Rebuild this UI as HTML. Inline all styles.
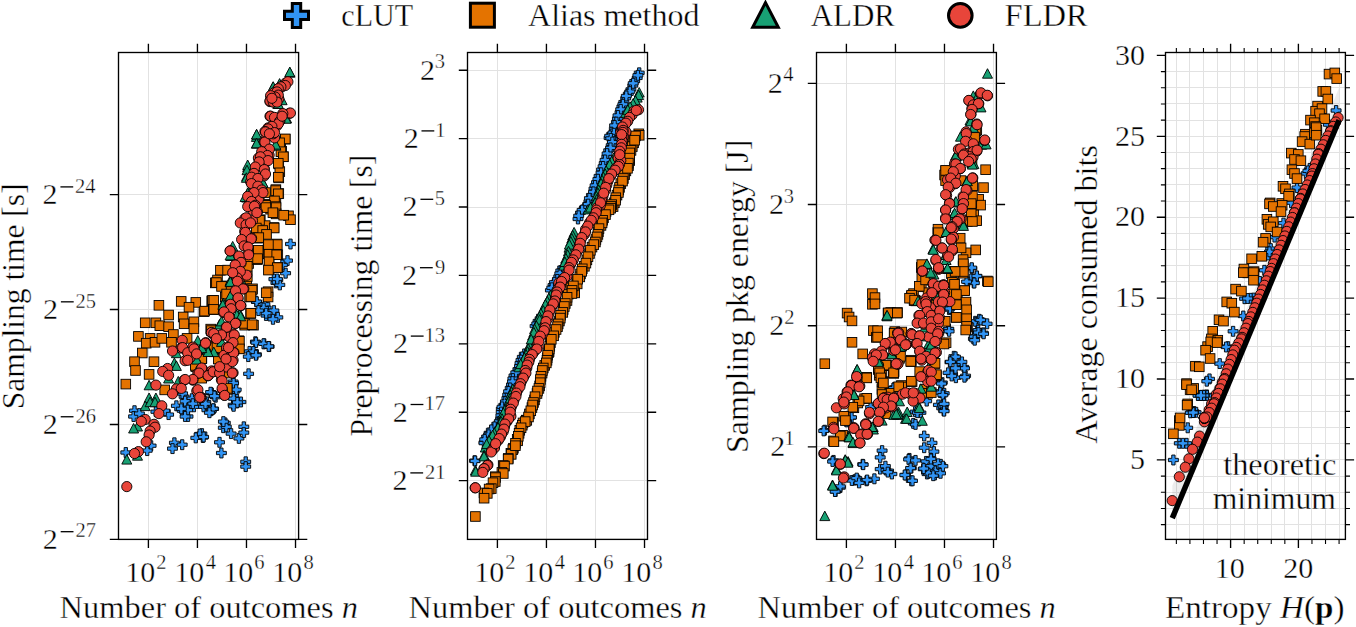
<!DOCTYPE html>
<html><head><meta charset="utf-8"><style>
html,body{margin:0;padding:0;background:#fff;width:1356px;height:627px;overflow:hidden}
svg{display:block}
text{font-family:"Liberation Serif", serif;fill:#000;stroke:#fff;stroke-width:0.35px;paint-order:normal}
.gr{stroke:#e2e2e2;stroke-width:1}
.b{fill:#3194f4;stroke:#000;stroke-width:0.9}
.o{fill:#e47300;stroke:#000;stroke-width:0.9}
.g{fill:#18a174;stroke:#000;stroke-width:0.9}
.r{fill:#e8453a;stroke:#000;stroke-width:0.9}
</style></head><body>
<svg width="1356" height="627" viewBox="0 0 1356 627">
<line x1="148.50" y1="52.5" x2="148.50" y2="539.4" class="gr"/>
<line x1="197.50" y1="52.5" x2="197.50" y2="539.4" class="gr"/>
<line x1="246.50" y1="52.5" x2="246.50" y2="539.4" class="gr"/>
<line x1="295.50" y1="52.5" x2="295.50" y2="539.4" class="gr"/>
<line x1="497.50" y1="52.5" x2="497.50" y2="539.4" class="gr"/>
<line x1="546.50" y1="52.5" x2="546.50" y2="539.4" class="gr"/>
<line x1="595.50" y1="52.5" x2="595.50" y2="539.4" class="gr"/>
<line x1="644.50" y1="52.5" x2="644.50" y2="539.4" class="gr"/>
<line x1="846.50" y1="52.5" x2="846.50" y2="539.4" class="gr"/>
<line x1="895.50" y1="52.5" x2="895.50" y2="539.4" class="gr"/>
<line x1="944.50" y1="52.5" x2="944.50" y2="539.4" class="gr"/>
<line x1="993.50" y1="52.5" x2="993.50" y2="539.4" class="gr"/>
<line x1="118.5" y1="194.50" x2="298.6" y2="194.50" class="gr"/>
<line x1="118.5" y1="309.50" x2="298.6" y2="309.50" class="gr"/>
<line x1="118.5" y1="424.50" x2="298.6" y2="424.50" class="gr"/>
<line x1="118.5" y1="539.50" x2="298.6" y2="539.50" class="gr"/>
<line x1="467.5" y1="70.50" x2="647.5" y2="70.50" class="gr"/>
<line x1="467.5" y1="138.50" x2="647.5" y2="138.50" class="gr"/>
<line x1="467.5" y1="207.50" x2="647.5" y2="207.50" class="gr"/>
<line x1="467.5" y1="275.50" x2="647.5" y2="275.50" class="gr"/>
<line x1="467.5" y1="343.50" x2="647.5" y2="343.50" class="gr"/>
<line x1="467.5" y1="412.50" x2="647.5" y2="412.50" class="gr"/>
<line x1="467.5" y1="480.50" x2="647.5" y2="480.50" class="gr"/>
<line x1="816.5" y1="83.50" x2="996.4" y2="83.50" class="gr"/>
<line x1="816.5" y1="204.50" x2="996.4" y2="204.50" class="gr"/>
<line x1="816.5" y1="325.50" x2="996.4" y2="325.50" class="gr"/>
<line x1="816.5" y1="446.50" x2="996.4" y2="446.50" class="gr"/>
<line x1="1176.50" y1="52.5" x2="1176.50" y2="539.4" class="gr"/>
<line x1="1189.50" y1="52.5" x2="1189.50" y2="539.4" class="gr"/>
<line x1="1203.50" y1="52.5" x2="1203.50" y2="539.4" class="gr"/>
<line x1="1217.50" y1="52.5" x2="1217.50" y2="539.4" class="gr"/>
<line x1="1230.50" y1="52.5" x2="1230.50" y2="539.4" class="gr"/>
<line x1="1244.50" y1="52.5" x2="1244.50" y2="539.4" class="gr"/>
<line x1="1257.50" y1="52.5" x2="1257.50" y2="539.4" class="gr"/>
<line x1="1271.50" y1="52.5" x2="1271.50" y2="539.4" class="gr"/>
<line x1="1284.50" y1="52.5" x2="1284.50" y2="539.4" class="gr"/>
<line x1="1298.50" y1="52.5" x2="1298.50" y2="539.4" class="gr"/>
<line x1="1311.50" y1="52.5" x2="1311.50" y2="539.4" class="gr"/>
<line x1="1325.50" y1="52.5" x2="1325.50" y2="539.4" class="gr"/>
<line x1="1339.50" y1="52.5" x2="1339.50" y2="539.4" class="gr"/>
<line x1="1165.5" y1="524.50" x2="1345.4" y2="524.50" class="gr"/>
<line x1="1165.5" y1="508.50" x2="1345.4" y2="508.50" class="gr"/>
<line x1="1165.5" y1="492.50" x2="1345.4" y2="492.50" class="gr"/>
<line x1="1165.5" y1="476.50" x2="1345.4" y2="476.50" class="gr"/>
<line x1="1165.5" y1="459.50" x2="1345.4" y2="459.50" class="gr"/>
<line x1="1165.5" y1="443.50" x2="1345.4" y2="443.50" class="gr"/>
<line x1="1165.5" y1="427.50" x2="1345.4" y2="427.50" class="gr"/>
<line x1="1165.5" y1="411.50" x2="1345.4" y2="411.50" class="gr"/>
<line x1="1165.5" y1="395.50" x2="1345.4" y2="395.50" class="gr"/>
<line x1="1165.5" y1="379.50" x2="1345.4" y2="379.50" class="gr"/>
<line x1="1165.5" y1="362.50" x2="1345.4" y2="362.50" class="gr"/>
<line x1="1165.5" y1="346.50" x2="1345.4" y2="346.50" class="gr"/>
<line x1="1165.5" y1="330.50" x2="1345.4" y2="330.50" class="gr"/>
<line x1="1165.5" y1="314.50" x2="1345.4" y2="314.50" class="gr"/>
<line x1="1165.5" y1="298.50" x2="1345.4" y2="298.50" class="gr"/>
<line x1="1165.5" y1="281.50" x2="1345.4" y2="281.50" class="gr"/>
<line x1="1165.5" y1="265.50" x2="1345.4" y2="265.50" class="gr"/>
<line x1="1165.5" y1="249.50" x2="1345.4" y2="249.50" class="gr"/>
<line x1="1165.5" y1="233.50" x2="1345.4" y2="233.50" class="gr"/>
<line x1="1165.5" y1="217.50" x2="1345.4" y2="217.50" class="gr"/>
<line x1="1165.5" y1="201.50" x2="1345.4" y2="201.50" class="gr"/>
<line x1="1165.5" y1="184.50" x2="1345.4" y2="184.50" class="gr"/>
<line x1="1165.5" y1="168.50" x2="1345.4" y2="168.50" class="gr"/>
<line x1="1165.5" y1="152.50" x2="1345.4" y2="152.50" class="gr"/>
<line x1="1165.5" y1="136.50" x2="1345.4" y2="136.50" class="gr"/>
<line x1="1165.5" y1="120.50" x2="1345.4" y2="120.50" class="gr"/>
<line x1="1165.5" y1="103.50" x2="1345.4" y2="103.50" class="gr"/>
<line x1="1165.5" y1="87.50" x2="1345.4" y2="87.50" class="gr"/>
<line x1="1165.5" y1="71.50" x2="1345.4" y2="71.50" class="gr"/>
<path d="M1172.29,518.15 L1339.08,120.12 L1339.08,87.76 L1172.29,485.79Z" fill="#000" fill-opacity="0.07"/>
<path d="M288.85,239.05H292.15V242.35H295.45V245.65H292.15V248.95H288.85V245.65H285.55V242.35H288.85Z" class="b"/>
<path d="M285.85,255.65H289.15V258.95H292.45V262.25H289.15V265.55H285.85V262.25H282.55V258.95H285.85Z" class="b"/>
<path d="M283.95,268.25H287.25V271.55H290.55V274.85H287.25V278.15H283.95V274.85H280.65V271.55H283.95Z" class="b"/>
<path d="M276.15,275.05H279.45V278.35H282.75V281.65H279.45V284.95H276.15V281.65H272.85V278.35H276.15Z" class="b"/>
<path d="M274.25,277.95H277.55V281.25H280.85V284.55H277.55V287.85H274.25V284.55H270.95V281.25H274.25Z" class="b"/>
<path d="M278.15,279.95H281.45V283.25H284.75V286.55H281.45V289.85H278.15V286.55H274.85V283.25H278.15Z" class="b"/>
<path d="M272.25,274.15H275.55V277.45H278.85V280.75H275.55V284.05H272.25V280.75H268.95V277.45H272.25Z" class="b"/>
<path d="M254.75,296.85H258.05V300.15H261.35V303.45H258.05V306.75H254.75V303.45H251.45V300.15H254.75Z" class="b"/>
<path d="M264.45,302.75H267.75V306.05H271.05V309.35H267.75V312.65H264.45V309.35H261.15V306.05H264.45Z" class="b"/>
<path d="M272.25,305.65H275.55V308.95H278.85V312.25H275.55V315.55H272.25V312.25H268.95V308.95H272.25Z" class="b"/>
<path d="M276.15,312.45H279.45V315.75H282.75V319.05H279.45V322.35H276.15V319.05H272.85V315.75H276.15Z" class="b"/>
<path d="M264.45,310.55H267.75V313.85H271.05V317.15H267.75V320.45H264.45V317.15H261.15V313.85H264.45Z" class="b"/>
<path d="M271.35,314.35H274.65V317.65H277.95V320.95H274.65V324.25H271.35V320.95H268.05V317.65H271.35Z" class="b"/>
<path d="M253.75,336.75H257.05V340.05H260.35V343.35H257.05V346.65H253.75V343.35H250.45V340.05H253.75Z" class="b"/>
<path d="M262.55,338.75H265.85V342.05H269.15V345.35H265.85V348.65H262.55V345.35H259.25V342.05H262.55Z" class="b"/>
<path d="M267.45,341.65H270.75V344.95H274.05V348.25H270.75V351.55H267.45V348.25H264.15V344.95H267.45Z" class="b"/>
<path d="M247.95,346.45H251.25V349.75H254.55V353.05H251.25V356.35H247.95V353.05H244.65V349.75H247.95Z" class="b"/>
<path d="M254.75,349.45H258.05V352.75H261.35V356.05H258.05V359.35H254.75V356.05H251.45V352.75H254.75Z" class="b"/>
<path d="M246.95,368.85H250.25V372.15H253.55V375.45H250.25V378.75H246.95V375.45H243.65V372.15H246.95Z" class="b"/>
<path d="M231.45,376.65H234.75V379.95H238.05V383.25H234.75V386.55H231.45V383.25H228.15V379.95H231.45Z" class="b"/>
<path d="M233.35,386.35H236.65V389.65H239.95V392.95H236.65V396.25H233.35V392.95H230.05V389.65H233.35Z" class="b"/>
<path d="M235.35,394.15H238.65V397.45H241.95V400.75H238.65V404.05H235.35V400.75H232.05V397.45H235.35Z" class="b"/>
<path d="M239.25,397.05H242.55V400.35H245.85V403.65H242.55V406.95H239.25V403.65H235.95V400.35H239.25Z" class="b"/>
<path d="M231.45,399.95H234.75V403.25H238.05V406.55H234.75V409.85H231.45V406.55H228.15V403.25H231.45Z" class="b"/>
<path d="M210.05,388.35H213.35V391.65H216.65V394.95H213.35V398.25H210.05V394.95H206.75V391.65H210.05Z" class="b"/>
<path d="M213.95,392.25H217.25V395.55H220.55V398.85H217.25V402.15H213.95V398.85H210.65V395.55H213.95Z" class="b"/>
<path d="M204.15,397.05H207.45V400.35H210.75V403.65H207.45V406.95H204.15V403.65H200.85V400.35H204.15Z" class="b"/>
<path d="M211.95,403.85H215.25V407.15H218.55V410.45H215.25V413.75H211.95V410.45H208.65V407.15H211.95Z" class="b"/>
<path d="M202.25,399.95H205.55V403.25H208.85V406.55H205.55V409.85H202.25V406.55H198.95V403.25H202.25Z" class="b"/>
<path d="M223.65,417.95H226.95V421.25H230.25V424.55H226.95V427.85H223.65V424.55H220.35V421.25H223.65Z" class="b"/>
<path d="M221.65,422.75H224.95V426.05H228.25V429.35H224.95V432.65H221.65V429.35H218.35V426.05H221.65Z" class="b"/>
<path d="M229.45,428.65H232.75V431.95H236.05V435.25H232.75V438.55H229.45V435.25H226.15V431.95H229.45Z" class="b"/>
<path d="M200.25,428.65H203.55V431.95H206.85V435.25H203.55V438.55H200.25V435.25H196.95V431.95H200.25Z" class="b"/>
<path d="M201.25,432.55H204.55V435.85H207.85V439.15H204.55V442.45H201.25V439.15H197.95V435.85H201.25Z" class="b"/>
<path d="M217.85,437.35H221.15V440.65H224.45V443.95H221.15V447.25H217.85V443.95H214.55V440.65H217.85Z" class="b"/>
<path d="M219.75,448.05H223.05V451.35H226.35V454.65H223.05V457.95H219.75V454.65H216.45V451.35H219.75Z" class="b"/>
<path d="M237.25,433.45H240.55V436.75H243.85V440.05H240.55V443.35H237.25V440.05H233.95V436.75H237.25Z" class="b"/>
<path d="M242.15,421.85H245.45V425.15H248.75V428.45H245.45V431.75H242.15V428.45H238.85V425.15H242.15Z" class="b"/>
<path d="M242.15,427.65H245.45V430.95H248.75V434.25H245.45V437.55H242.15V434.25H238.85V430.95H242.15Z" class="b"/>
<path d="M244.05,456.85H247.35V460.15H250.65V463.45H247.35V466.75H244.05V463.45H240.75V460.15H244.05Z" class="b"/>
<path d="M244.05,461.65H247.35V464.95H250.65V468.25H247.35V471.55H244.05V468.25H240.75V464.95H244.05Z" class="b"/>
<path d="M224.65,421.85H227.95V425.15H231.25V428.45H227.95V431.75H224.65V428.45H221.35V425.15H224.65Z" class="b"/>
<path d="M209.75,387.85H213.05V391.15H216.35V394.45H213.05V397.75H209.75V394.45H206.45V391.15H209.75Z" class="b"/>
<path d="M182.45,391.75H185.75V395.05H189.05V398.35H185.75V401.65H182.45V398.35H179.15V395.05H182.45Z" class="b"/>
<path d="M190.25,393.75H193.55V397.05H196.85V400.35H193.55V403.65H190.25V400.35H186.95V397.05H190.25Z" class="b"/>
<path d="M201.95,393.75H205.25V397.05H208.55V400.35H205.25V403.65H201.95V400.35H198.65V397.05H201.95Z" class="b"/>
<path d="M132.85,405.75H136.15V409.05H139.45V412.35H136.15V415.65H132.85V412.35H129.55V409.05H132.85Z" class="b"/>
<path d="M131.95,411.55H135.25V414.85H138.55V418.15H135.25V421.45H131.95V418.15H128.65V414.85H131.95Z" class="b"/>
<path d="M137.75,408.65H141.05V411.95H144.35V415.25H141.05V418.55H137.75V415.25H134.45V411.95H137.75Z" class="b"/>
<path d="M154.25,406.75H157.55V410.05H160.85V413.35H157.55V416.65H154.25V413.35H150.95V410.05H154.25Z" class="b"/>
<path d="M166.95,409.65H170.25V412.95H173.55V416.25H170.25V419.55H166.95V416.25H163.65V412.95H166.95Z" class="b"/>
<path d="M163.05,405.75H166.35V409.05H169.65V412.35H166.35V415.65H163.05V412.35H159.75V409.05H163.05Z" class="b"/>
<path d="M174.75,400.85H178.05V404.15H181.35V407.45H178.05V410.75H174.75V407.45H171.45V404.15H174.75Z" class="b"/>
<path d="M184.45,400.85H187.75V404.15H191.05V407.45H187.75V410.75H184.45V407.45H181.15V404.15H184.45Z" class="b"/>
<path d="M180.55,405.75H183.85V409.05H187.15V412.35H183.85V415.65H180.55V412.35H177.25V409.05H180.55Z" class="b"/>
<path d="M186.35,411.55H189.65V414.85H192.95V418.15H189.65V421.45H186.35V418.15H183.05V414.85H186.35Z" class="b"/>
<path d="M192.25,401.85H195.55V405.15H198.85V408.45H195.55V411.75H192.25V408.45H188.95V405.15H192.25Z" class="b"/>
<path d="M201.95,401.85H205.25V405.15H208.55V408.45H205.25V411.75H201.95V408.45H198.65V405.15H201.95Z" class="b"/>
<path d="M209.75,405.75H213.05V409.05H216.35V412.35H213.05V415.65H209.75V412.35H206.45V409.05H209.75Z" class="b"/>
<path d="M198.05,429.05H201.35V432.35H204.65V435.65H201.35V438.95H198.05V435.65H194.75V432.35H198.05Z" class="b"/>
<path d="M194.15,432.95H197.45V436.25H200.75V439.55H197.45V442.85H194.15V439.55H190.85V436.25H194.15Z" class="b"/>
<path d="M201.95,432.05H205.25V435.35H208.55V438.65H205.25V441.95H201.95V438.65H198.65V435.35H201.95Z" class="b"/>
<path d="M172.75,437.85H176.05V441.15H179.35V444.45H176.05V447.75H172.75V444.45H169.45V441.15H172.75Z" class="b"/>
<path d="M180.55,439.75H183.85V443.05H187.15V446.35H183.85V449.65H180.55V446.35H177.25V443.05H180.55Z" class="b"/>
<path d="M170.85,443.65H174.15V446.95H177.45V450.25H174.15V453.55H170.85V450.25H167.55V446.95H170.85Z" class="b"/>
<path d="M149.45,440.75H152.75V444.05H156.05V447.35H152.75V450.65H149.45V447.35H146.15V444.05H149.45Z" class="b"/>
<path d="M145.55,445.65H148.85V448.95H152.15V452.25H148.85V455.55H145.55V452.25H142.25V448.95H145.55Z" class="b"/>
<path d="M124.15,447.55H127.45V450.85H130.75V454.15H127.45V457.45H124.15V454.15H120.85V450.85H124.15Z" class="b"/>
<path d="M275.65,274.05H278.95V277.35H282.25V280.65H278.95V283.95H275.65V280.65H272.35V277.35H275.65Z" class="b"/>
<path d="M280.75,260.05H284.05V263.35H287.35V266.65H284.05V269.95H280.75V266.65H277.45V263.35H280.75Z" class="b"/>
<path d="M254.95,296.75H258.25V300.05H261.55V303.35H258.25V306.65H254.95V303.35H251.65V300.05H254.95Z" class="b"/>
<path d="M263.25,299.35H266.55V302.65H269.85V305.95H266.55V309.25H263.25V305.95H259.95V302.65H263.25Z" class="b"/>
<path d="M261.95,303.15H265.25V306.45H268.55V309.75H265.25V313.05H261.95V309.75H258.65V306.45H261.95Z" class="b"/>
<path d="M264.55,308.25H267.85V311.55H271.15V314.85H267.85V318.15H264.55V314.85H261.25V311.55H264.55Z" class="b"/>
<path d="M256.85,305.65H260.15V308.95H263.45V312.25H260.15V315.55H256.85V312.25H253.55V308.95H256.85Z" class="b"/>
<path d="M254.35,337.65H257.65V340.95H260.95V344.25H257.65V347.55H254.35V344.25H251.05V340.95H254.35Z" class="b"/>
<path d="M261.95,338.85H265.25V342.15H268.55V345.45H265.25V348.75H261.95V345.45H258.65V342.15H261.95Z" class="b"/>
<path d="M267.05,341.45H270.35V344.75H273.65V348.05H270.35V351.35H267.05V348.05H263.75V344.75H267.05Z" class="b"/>
<path d="M251.75,346.55H255.05V349.85H258.35V353.15H255.05V356.45H251.75V353.15H248.45V349.85H251.75Z" class="b"/>
<path d="M246.65,351.65H249.95V354.95H253.25V358.25H249.95V361.55H246.65V358.25H243.35V354.95H246.65Z" class="b"/>
<path d="M254.35,350.35H257.65V353.65H260.95V356.95H257.65V360.25H254.35V356.95H251.05V353.65H254.35Z" class="b"/>
<path d="M208.95,387.25H212.25V390.55H215.55V393.85H212.25V397.15H208.95V393.85H205.65V390.55H208.95Z" class="b"/>
<path d="M212.85,391.15H216.15V394.45H219.45V397.75H216.15V401.05H212.85V397.75H209.55V394.45H212.85Z" class="b"/>
<path d="M180.95,388.55H184.25V391.85H187.55V395.15H184.25V398.45H180.95V395.15H177.65V391.85H180.95Z" class="b"/>
<path d="M183.45,396.25H186.75V399.55H190.05V402.85H186.75V406.15H183.45V402.85H180.15V399.55H183.45Z" class="b"/>
<path d="M191.15,398.75H194.45V402.05H197.75V405.35H194.45V408.65H191.15V405.35H187.85V402.05H191.15Z" class="b"/>
<path d="M186.05,405.15H189.35V408.45H192.65V411.75H189.35V415.05H186.05V411.75H182.75V408.45H186.05Z" class="b"/>
<path d="M183.45,411.55H186.75V414.85H190.05V418.15H186.75V421.45H183.45V418.15H180.15V414.85H183.45Z" class="b"/>
<path d="M203.85,398.75H207.15V402.05H210.45V405.35H207.15V408.65H203.85V405.35H200.55V402.05H203.85Z" class="b"/>
<path d="M211.55,403.85H214.85V407.15H218.15V410.45H214.85V413.75H211.55V410.45H208.25V407.15H211.55Z" class="b"/>
<path d="M207.75,407.75H211.05V411.05H214.35V414.35H211.05V417.65H207.75V414.35H204.45V411.05H207.75Z" class="b"/>
<path d="M231.95,378.35H235.25V381.65H238.55V384.95H235.25V388.25H231.95V384.95H228.65V381.65H231.95Z" class="b"/>
<path d="M234.55,384.75H237.85V388.05H241.15V391.35H237.85V394.65H234.55V391.35H231.25V388.05H234.55Z" class="b"/>
<path d="M231.95,393.65H235.25V396.95H238.55V400.25H235.25V403.55H231.95V400.25H228.65V396.95H231.95Z" class="b"/>
<path d="M231.95,401.35H235.25V404.65H238.55V407.95H235.25V411.25H231.95V407.95H228.65V404.65H231.95Z" class="b"/>
<path d="M235.75,397.45H239.05V400.75H242.35V404.05H239.05V407.35H235.75V404.05H232.45V400.75H235.75Z" class="b"/>
<path d="M221.75,416.65H225.05V419.95H228.35V423.25H225.05V426.55H221.75V423.25H218.45V419.95H221.75Z" class="b"/>
<path d="M179.65,403.85H182.95V407.15H186.25V410.45H182.95V413.75H179.65V410.45H176.35V407.15H179.65Z" class="b"/>
<rect x="280.4" y="134.4" width="9.6" height="9.6" class="o"/>
<rect x="275.9" y="138.6" width="9.6" height="9.6" class="o"/>
<rect x="276.9" y="146.4" width="9.6" height="9.6" class="o"/>
<rect x="278.5" y="151.9" width="9.6" height="9.6" class="o"/>
<rect x="274.0" y="159.1" width="9.6" height="9.6" class="o"/>
<rect x="275.0" y="166.8" width="9.6" height="9.6" class="o"/>
<rect x="274.0" y="173.1" width="9.6" height="9.6" class="o"/>
<rect x="271.1" y="184.8" width="9.6" height="9.6" class="o"/>
<rect x="274.0" y="188.7" width="9.6" height="9.6" class="o"/>
<rect x="261.3" y="199.4" width="9.6" height="9.6" class="o"/>
<rect x="271.1" y="196.4" width="9.6" height="9.6" class="o"/>
<rect x="271.1" y="208.1" width="9.6" height="9.6" class="o"/>
<rect x="283.7" y="211.0" width="9.6" height="9.6" class="o"/>
<rect x="285.7" y="214.9" width="9.6" height="9.6" class="o"/>
<rect x="255.5" y="214.9" width="9.6" height="9.6" class="o"/>
<rect x="269.1" y="222.7" width="9.6" height="9.6" class="o"/>
<rect x="261.3" y="228.5" width="9.6" height="9.6" class="o"/>
<rect x="252.6" y="233.4" width="9.6" height="9.6" class="o"/>
<rect x="272.0" y="239.2" width="9.6" height="9.6" class="o"/>
<rect x="263.3" y="241.2" width="9.6" height="9.6" class="o"/>
<rect x="252.6" y="247.0" width="9.6" height="9.6" class="o"/>
<rect x="263.3" y="249.0" width="9.6" height="9.6" class="o"/>
<rect x="273.0" y="249.9" width="9.6" height="9.6" class="o"/>
<rect x="264.3" y="256.7" width="9.6" height="9.6" class="o"/>
<rect x="264.3" y="264.5" width="9.6" height="9.6" class="o"/>
<rect x="273.0" y="262.6" width="9.6" height="9.6" class="o"/>
<rect x="215.6" y="265.5" width="9.6" height="9.6" class="o"/>
<rect x="212.7" y="275.2" width="9.6" height="9.6" class="o"/>
<rect x="217.6" y="281.1" width="9.6" height="9.6" class="o"/>
<rect x="243.8" y="258.7" width="9.6" height="9.6" class="o"/>
<rect x="241.9" y="274.3" width="9.6" height="9.6" class="o"/>
<rect x="247.7" y="284.0" width="9.6" height="9.6" class="o"/>
<rect x="263.3" y="286.9" width="9.6" height="9.6" class="o"/>
<rect x="222.4" y="285.9" width="9.6" height="9.6" class="o"/>
<rect x="254.5" y="194.5" width="9.6" height="9.6" class="o"/>
<rect x="260.4" y="220.8" width="9.6" height="9.6" class="o"/>
<rect x="253.6" y="223.7" width="9.6" height="9.6" class="o"/>
<rect x="252.6" y="254.8" width="9.6" height="9.6" class="o"/>
<rect x="243.8" y="254.8" width="9.6" height="9.6" class="o"/>
<rect x="206.9" y="296.1" width="9.6" height="9.6" class="o"/>
<rect x="208.8" y="304.8" width="9.6" height="9.6" class="o"/>
<rect x="199.1" y="306.8" width="9.6" height="9.6" class="o"/>
<rect x="245.8" y="308.7" width="9.6" height="9.6" class="o"/>
<rect x="239.9" y="320.4" width="9.6" height="9.6" class="o"/>
<rect x="248.7" y="320.4" width="9.6" height="9.6" class="o"/>
<rect x="234.1" y="335.9" width="9.6" height="9.6" class="o"/>
<rect x="234.1" y="343.7" width="9.6" height="9.6" class="o"/>
<rect x="214.7" y="353.5" width="9.6" height="9.6" class="o"/>
<rect x="197.1" y="353.5" width="9.6" height="9.6" class="o"/>
<rect x="196.2" y="372.9" width="9.6" height="9.6" class="o"/>
<rect x="263.3" y="292.2" width="9.6" height="9.6" class="o"/>
<rect x="244.8" y="292.2" width="9.6" height="9.6" class="o"/>
<rect x="220.5" y="292.2" width="9.6" height="9.6" class="o"/>
<rect x="211.7" y="339.8" width="9.6" height="9.6" class="o"/>
<rect x="205.9" y="324.3" width="9.6" height="9.6" class="o"/>
<rect x="222.4" y="384.6" width="9.6" height="9.6" class="o"/>
<rect x="154.1" y="300.5" width="9.6" height="9.6" class="o"/>
<rect x="176.4" y="296.6" width="9.6" height="9.6" class="o"/>
<rect x="191.0" y="297.6" width="9.6" height="9.6" class="o"/>
<rect x="207.6" y="295.6" width="9.6" height="9.6" class="o"/>
<rect x="184.2" y="302.4" width="9.6" height="9.6" class="o"/>
<rect x="199.8" y="306.3" width="9.6" height="9.6" class="o"/>
<rect x="208.5" y="304.4" width="9.6" height="9.6" class="o"/>
<rect x="163.8" y="310.2" width="9.6" height="9.6" class="o"/>
<rect x="178.4" y="312.2" width="9.6" height="9.6" class="o"/>
<rect x="140.4" y="318.0" width="9.6" height="9.6" class="o"/>
<rect x="151.1" y="318.0" width="9.6" height="9.6" class="o"/>
<rect x="155.0" y="320.9" width="9.6" height="9.6" class="o"/>
<rect x="163.8" y="321.9" width="9.6" height="9.6" class="o"/>
<rect x="179.3" y="319.0" width="9.6" height="9.6" class="o"/>
<rect x="189.1" y="317.0" width="9.6" height="9.6" class="o"/>
<rect x="189.1" y="323.8" width="9.6" height="9.6" class="o"/>
<rect x="133.6" y="331.6" width="9.6" height="9.6" class="o"/>
<rect x="145.3" y="333.6" width="9.6" height="9.6" class="o"/>
<rect x="141.4" y="338.4" width="9.6" height="9.6" class="o"/>
<rect x="150.2" y="337.5" width="9.6" height="9.6" class="o"/>
<rect x="157.0" y="333.6" width="9.6" height="9.6" class="o"/>
<rect x="168.6" y="329.7" width="9.6" height="9.6" class="o"/>
<rect x="166.7" y="337.5" width="9.6" height="9.6" class="o"/>
<rect x="182.3" y="333.6" width="9.6" height="9.6" class="o"/>
<rect x="137.5" y="348.2" width="9.6" height="9.6" class="o"/>
<rect x="129.7" y="356.9" width="9.6" height="9.6" class="o"/>
<rect x="149.2" y="356.9" width="9.6" height="9.6" class="o"/>
<rect x="130.7" y="365.7" width="9.6" height="9.6" class="o"/>
<rect x="144.3" y="369.6" width="9.6" height="9.6" class="o"/>
<rect x="121.0" y="379.3" width="9.6" height="9.6" class="o"/>
<rect x="159.9" y="385.1" width="9.6" height="9.6" class="o"/>
<rect x="210.5" y="278.1" width="9.6" height="9.6" class="o"/>
<rect x="206.6" y="325.8" width="9.6" height="9.6" class="o"/>
<rect x="210.5" y="341.3" width="9.6" height="9.6" class="o"/>
<rect x="196.9" y="354.0" width="9.6" height="9.6" class="o"/>
<rect x="191.0" y="361.8" width="9.6" height="9.6" class="o"/>
<rect x="280.5" y="134.1" width="9.6" height="9.6" class="o"/>
<rect x="274.8" y="138.0" width="9.6" height="9.6" class="o"/>
<rect x="276.1" y="146.9" width="9.6" height="9.6" class="o"/>
<rect x="278.6" y="152.0" width="9.6" height="9.6" class="o"/>
<rect x="273.5" y="158.4" width="9.6" height="9.6" class="o"/>
<rect x="273.5" y="172.4" width="9.6" height="9.6" class="o"/>
<rect x="270.9" y="185.8" width="9.6" height="9.6" class="o"/>
<rect x="273.5" y="189.0" width="9.6" height="9.6" class="o"/>
<rect x="260.7" y="187.8" width="9.6" height="9.6" class="o"/>
<rect x="269.7" y="196.1" width="9.6" height="9.6" class="o"/>
<rect x="260.7" y="200.5" width="9.6" height="9.6" class="o"/>
<rect x="270.9" y="201.8" width="9.6" height="9.6" class="o"/>
<rect x="265.8" y="204.4" width="9.6" height="9.6" class="o"/>
<rect x="261.1" y="202.8" width="9.6" height="9.6" class="o"/>
<rect x="271.3" y="202.8" width="9.6" height="9.6" class="o"/>
<rect x="271.3" y="209.1" width="9.6" height="9.6" class="o"/>
<rect x="254.7" y="215.5" width="9.6" height="9.6" class="o"/>
<rect x="251.5" y="223.2" width="9.6" height="9.6" class="o"/>
<rect x="257.9" y="225.7" width="9.6" height="9.6" class="o"/>
<rect x="269.4" y="223.2" width="9.6" height="9.6" class="o"/>
<rect x="261.7" y="229.6" width="9.6" height="9.6" class="o"/>
<rect x="254.0" y="232.8" width="9.6" height="9.6" class="o"/>
<rect x="272.5" y="239.8" width="9.6" height="9.6" class="o"/>
<rect x="263.6" y="239.8" width="9.6" height="9.6" class="o"/>
<rect x="253.4" y="245.5" width="9.6" height="9.6" class="o"/>
<rect x="264.2" y="249.4" width="9.6" height="9.6" class="o"/>
<rect x="271.9" y="250.0" width="9.6" height="9.6" class="o"/>
<rect x="252.8" y="253.8" width="9.6" height="9.6" class="o"/>
<rect x="264.2" y="257.0" width="9.6" height="9.6" class="o"/>
<rect x="272.5" y="262.8" width="9.6" height="9.6" class="o"/>
<rect x="263.6" y="265.3" width="9.6" height="9.6" class="o"/>
<rect x="242.5" y="261.5" width="9.6" height="9.6" class="o"/>
<rect x="242.5" y="271.7" width="9.6" height="9.6" class="o"/>
<rect x="222.8" y="265.3" width="9.6" height="9.6" class="o"/>
<rect x="278.9" y="210.4" width="9.6" height="9.6" class="o"/>
<rect x="268.1" y="207.9" width="9.6" height="9.6" class="o"/>
<rect x="211.6" y="277.8" width="9.6" height="9.6" class="o"/>
<rect x="216.7" y="281.6" width="9.6" height="9.6" class="o"/>
<rect x="221.8" y="289.2" width="9.6" height="9.6" class="o"/>
<rect x="209.0" y="295.6" width="9.6" height="9.6" class="o"/>
<rect x="209.0" y="304.6" width="9.6" height="9.6" class="o"/>
<rect x="247.3" y="285.4" width="9.6" height="9.6" class="o"/>
<rect x="246.1" y="291.8" width="9.6" height="9.6" class="o"/>
<rect x="261.4" y="288.0" width="9.6" height="9.6" class="o"/>
<rect x="246.1" y="308.4" width="9.6" height="9.6" class="o"/>
<rect x="239.7" y="318.6" width="9.6" height="9.6" class="o"/>
<rect x="247.3" y="319.9" width="9.6" height="9.6" class="o"/>
<rect x="234.6" y="336.5" width="9.6" height="9.6" class="o"/>
<rect x="234.6" y="344.1" width="9.6" height="9.6" class="o"/>
<rect x="212.9" y="341.6" width="9.6" height="9.6" class="o"/>
<rect x="207.8" y="342.9" width="9.6" height="9.6" class="o"/>
<rect x="190.5" y="360.6" width="9.6" height="9.6" class="o"/>
<rect x="196.9" y="373.4" width="9.6" height="9.6" class="o"/>
<rect x="222.4" y="368.3" width="9.6" height="9.6" class="o"/>
<rect x="222.4" y="383.6" width="9.6" height="9.6" class="o"/>
<rect x="212.2" y="342.8" width="9.6" height="9.6" class="o"/>
<rect x="213.5" y="354.2" width="9.6" height="9.6" class="o"/>
<path d="M289.9,67.7L294.9,77.2L284.9,77.2Z" class="g"/>
<path d="M256.4,131.9L261.4,141.4L251.4,141.4Z" class="g"/>
<path d="M256.4,138.7L261.4,148.2L251.4,148.2Z" class="g"/>
<path d="M275.9,140.7L280.9,150.2L270.9,150.2Z" class="g"/>
<path d="M247.7,162.1L252.7,171.6L242.7,171.6Z" class="g"/>
<path d="M273.0,82.3L278.0,91.8L268.0,91.8Z" class="g"/>
<path d="M277.8,98.8L282.8,108.3L272.8,108.3Z" class="g"/>
<path d="M286.6,113.4L291.6,122.9L281.6,122.9Z" class="g"/>
<path d="M246.7,171.2L251.7,180.7L241.7,180.7Z" class="g"/>
<path d="M248.6,186.8L253.6,196.3L243.6,196.3Z" class="g"/>
<path d="M246.7,192.6L251.7,202.1L241.7,202.1Z" class="g"/>
<path d="M231.1,251.0L236.1,260.5L226.1,260.5Z" class="g"/>
<path d="M230.2,277.2L235.2,286.7L225.2,286.7Z" class="g"/>
<path d="M262.3,177.1L267.3,186.6L257.3,186.6Z" class="g"/>
<path d="M223.3,298.1L228.3,307.6L218.3,307.6Z" class="g"/>
<path d="M230.2,292.2L235.2,301.7L225.2,301.7Z" class="g"/>
<path d="M219.5,319.5L224.5,329.0L214.5,329.0Z" class="g"/>
<path d="M239.9,308.8L244.9,318.3L234.9,318.3Z" class="g"/>
<path d="M207.8,344.8L212.8,354.3L202.8,354.3Z" class="g"/>
<path d="M202.9,339.9L207.9,349.4L197.9,349.4Z" class="g"/>
<path d="M197.8,335.6L202.8,345.1L192.8,345.1Z" class="g"/>
<path d="M207.5,345.3L212.5,354.8L202.5,354.8Z" class="g"/>
<path d="M176.4,348.2L181.4,357.7L171.4,357.7Z" class="g"/>
<path d="M174.4,358.0L179.4,367.5L169.4,367.5Z" class="g"/>
<path d="M176.4,360.9L181.4,370.4L171.4,370.4Z" class="g"/>
<path d="M149.1,380.3L154.1,389.8L144.1,389.8Z" class="g"/>
<path d="M178.3,376.4L183.3,385.9L173.3,385.9Z" class="g"/>
<path d="M168.6,373.5L173.6,383.0L163.6,383.0Z" class="g"/>
<path d="M149.1,393.0L154.1,402.5L144.1,402.5Z" class="g"/>
<path d="M155.9,393.0L160.9,402.5L150.9,402.5Z" class="g"/>
<path d="M201.7,341.4L206.7,350.9L196.7,350.9Z" class="g"/>
<path d="M145.2,401.1L150.2,410.6L140.2,410.6Z" class="g"/>
<path d="M150.1,397.2L155.1,406.7L145.1,406.7Z" class="g"/>
<path d="M155.0,397.2L160.0,406.7L150.0,406.7Z" class="g"/>
<path d="M137.5,421.5L142.5,431.0L132.5,431.0Z" class="g"/>
<path d="M133.6,423.5L138.6,433.0L128.6,433.0Z" class="g"/>
<path d="M126.8,454.6L131.8,464.1L121.8,464.1Z" class="g"/>
<path d="M137.5,450.7L142.5,460.2L132.5,460.2Z" class="g"/>
<path d="M289.8,67.1L294.8,76.6L284.8,76.6Z" class="g"/>
<path d="M273.2,81.7L278.2,91.2L268.2,91.2Z" class="g"/>
<path d="M279.6,78.6L284.6,88.1L274.6,88.1Z" class="g"/>
<path d="M278.3,99.0L283.3,108.5L273.3,108.5Z" class="g"/>
<path d="M286.0,113.7L291.0,123.2L281.0,123.2Z" class="g"/>
<path d="M256.6,129.6L261.6,139.1L251.6,139.1Z" class="g"/>
<path d="M282.1,95.2L287.1,104.7L277.1,104.7Z" class="g"/>
<path d="M256.6,129.4L261.6,138.9L251.6,138.9Z" class="g"/>
<path d="M256.6,138.3L261.6,147.8L251.6,147.8Z" class="g"/>
<path d="M275.7,139.6L280.7,149.1L270.7,149.1Z" class="g"/>
<path d="M247.7,160.0L252.7,169.5L242.7,169.5Z" class="g"/>
<path d="M247.0,165.2L252.0,174.7L242.0,174.7Z" class="g"/>
<path d="M246.4,172.8L251.4,182.3L241.4,182.3Z" class="g"/>
<path d="M263.0,177.9L268.0,187.4L258.0,187.4Z" class="g"/>
<path d="M247.7,188.1L252.7,197.6L242.7,197.6Z" class="g"/>
<path d="M245.1,192.0L250.1,201.5L240.1,201.5Z" class="g"/>
<path d="M230.1,250.4L235.1,259.9L225.1,259.9Z" class="g"/>
<path d="M232.7,241.4L237.7,250.9L227.7,250.9Z" class="g"/>
<path d="M230.1,275.9L235.1,285.4L225.1,285.4Z" class="g"/>
<path d="M241.6,275.9L246.6,285.4L236.6,285.4Z" class="g"/>
<path d="M230.4,276.9L235.4,286.4L225.4,286.4Z" class="g"/>
<path d="M230.4,290.9L235.4,300.4L225.4,300.4Z" class="g"/>
<path d="M222.8,299.8L227.8,309.3L217.8,309.3Z" class="g"/>
<path d="M236.8,310.0L241.8,319.5L231.8,319.5Z" class="g"/>
<path d="M240.6,311.3L245.6,320.8L235.6,320.8Z" class="g"/>
<path d="M221.5,316.4L226.5,325.9L216.5,325.9Z" class="g"/>
<path d="M227.9,330.5L232.9,340.0L222.9,340.0Z" class="g"/>
<path d="M221.5,336.9L226.5,346.4L216.5,346.4Z" class="g"/>
<path d="M213.8,347.1L218.8,356.6L208.8,356.6Z" class="g"/>
<path d="M208.1,347.0L213.1,356.5L203.1,356.5Z" class="g"/>
<path d="M196.6,354.6L201.6,364.1L191.6,364.1Z" class="g"/>
<path d="M201.7,343.1L206.7,352.6L196.7,352.6Z" class="g"/>
<circle cx="285.6" cy="83.1" r="5.1" class="r"/>
<circle cx="281.7" cy="87.0" r="5.1" class="r"/>
<circle cx="277.8" cy="89.0" r="5.1" class="r"/>
<circle cx="273.9" cy="92.9" r="5.1" class="r"/>
<circle cx="271.0" cy="96.7" r="5.1" class="r"/>
<circle cx="270.0" cy="101.6" r="5.1" class="r"/>
<circle cx="274.9" cy="100.6" r="5.1" class="r"/>
<circle cx="278.8" cy="98.7" r="5.1" class="r"/>
<circle cx="289.5" cy="113.3" r="5.1" class="r"/>
<circle cx="282.7" cy="114.3" r="5.1" class="r"/>
<circle cx="270.0" cy="116.2" r="5.1" class="r"/>
<circle cx="274.9" cy="118.1" r="5.1" class="r"/>
<circle cx="279.8" cy="121.1" r="5.1" class="r"/>
<circle cx="276.8" cy="125.9" r="5.1" class="r"/>
<circle cx="268.1" cy="127.9" r="5.1" class="r"/>
<circle cx="266.1" cy="131.8" r="5.1" class="r"/>
<circle cx="272.0" cy="133.7" r="5.1" class="r"/>
<circle cx="273.9" cy="136.6" r="5.1" class="r"/>
<circle cx="264.2" cy="141.5" r="5.1" class="r"/>
<circle cx="268.1" cy="149.3" r="5.1" class="r"/>
<circle cx="262.3" cy="153.2" r="5.1" class="r"/>
<circle cx="269.1" cy="155.1" r="5.1" class="r"/>
<circle cx="258.4" cy="158.0" r="5.1" class="r"/>
<circle cx="266.1" cy="160.9" r="5.1" class="r"/>
<circle cx="256.4" cy="166.8" r="5.1" class="r"/>
<circle cx="264.2" cy="168.7" r="5.1" class="r"/>
<circle cx="252.5" cy="176.9" r="5.1" class="r"/>
<circle cx="264.2" cy="175.9" r="5.1" class="r"/>
<circle cx="250.6" cy="181.8" r="5.1" class="r"/>
<circle cx="256.4" cy="185.7" r="5.1" class="r"/>
<circle cx="262.3" cy="191.5" r="5.1" class="r"/>
<circle cx="257.4" cy="193.5" r="5.1" class="r"/>
<circle cx="251.6" cy="201.2" r="5.1" class="r"/>
<circle cx="258.4" cy="199.3" r="5.1" class="r"/>
<circle cx="248.6" cy="206.1" r="5.1" class="r"/>
<circle cx="257.4" cy="211.9" r="5.1" class="r"/>
<circle cx="252.5" cy="210.0" r="5.1" class="r"/>
<circle cx="244.7" cy="218.7" r="5.1" class="r"/>
<circle cx="246.7" cy="224.6" r="5.1" class="r"/>
<circle cx="252.5" cy="220.7" r="5.1" class="r"/>
<circle cx="244.7" cy="231.4" r="5.1" class="r"/>
<circle cx="251.6" cy="238.2" r="5.1" class="r"/>
<circle cx="242.8" cy="240.1" r="5.1" class="r"/>
<circle cx="244.7" cy="246.0" r="5.1" class="r"/>
<circle cx="230.2" cy="250.8" r="5.1" class="r"/>
<circle cx="248.6" cy="253.8" r="5.1" class="r"/>
<circle cx="240.9" cy="257.7" r="5.1" class="r"/>
<circle cx="236.0" cy="265.4" r="5.1" class="r"/>
<circle cx="240.9" cy="263.5" r="5.1" class="r"/>
<circle cx="238.9" cy="273.2" r="5.1" class="r"/>
<circle cx="238.9" cy="280.0" r="5.1" class="r"/>
<circle cx="237.0" cy="288.8" r="5.1" class="r"/>
<circle cx="243.8" cy="288.8" r="5.1" class="r"/>
<circle cx="246.7" cy="275.2" r="5.1" class="r"/>
<circle cx="237.9" cy="298.9" r="5.1" class="r"/>
<circle cx="240.9" cy="305.7" r="5.1" class="r"/>
<circle cx="231.1" cy="308.6" r="5.1" class="r"/>
<circle cx="223.3" cy="312.5" r="5.1" class="r"/>
<circle cx="229.2" cy="316.4" r="5.1" class="r"/>
<circle cx="236.0" cy="323.2" r="5.1" class="r"/>
<circle cx="226.3" cy="327.1" r="5.1" class="r"/>
<circle cx="211.7" cy="333.0" r="5.1" class="r"/>
<circle cx="221.4" cy="334.9" r="5.1" class="r"/>
<circle cx="233.1" cy="333.9" r="5.1" class="r"/>
<circle cx="205.8" cy="342.7" r="5.1" class="r"/>
<circle cx="232.1" cy="342.7" r="5.1" class="r"/>
<circle cx="227.2" cy="348.5" r="5.1" class="r"/>
<circle cx="234.0" cy="352.4" r="5.1" class="r"/>
<circle cx="225.3" cy="356.3" r="5.1" class="r"/>
<circle cx="233.1" cy="360.2" r="5.1" class="r"/>
<circle cx="202.9" cy="369.9" r="5.1" class="r"/>
<circle cx="211.7" cy="370.9" r="5.1" class="r"/>
<circle cx="219.5" cy="370.9" r="5.1" class="r"/>
<circle cx="226.3" cy="367.0" r="5.1" class="r"/>
<circle cx="233.1" cy="372.8" r="5.1" class="r"/>
<circle cx="207.8" cy="375.8" r="5.1" class="r"/>
<circle cx="221.4" cy="379.7" r="5.1" class="r"/>
<circle cx="222.4" cy="389.4" r="5.1" class="r"/>
<circle cx="224.3" cy="395.2" r="5.1" class="r"/>
<circle cx="201.0" cy="397.2" r="5.1" class="r"/>
<circle cx="229.2" cy="336.9" r="5.1" class="r"/>
<circle cx="211.4" cy="332.5" r="5.1" class="r"/>
<circle cx="215.3" cy="336.4" r="5.1" class="r"/>
<circle cx="205.5" cy="343.2" r="5.1" class="r"/>
<circle cx="182.2" cy="340.3" r="5.1" class="r"/>
<circle cx="181.2" cy="348.1" r="5.1" class="r"/>
<circle cx="172.5" cy="351.0" r="5.1" class="r"/>
<circle cx="192.9" cy="347.1" r="5.1" class="r"/>
<circle cx="188.0" cy="353.0" r="5.1" class="r"/>
<circle cx="195.8" cy="353.0" r="5.1" class="r"/>
<circle cx="190.0" cy="357.8" r="5.1" class="r"/>
<circle cx="185.1" cy="360.7" r="5.1" class="r"/>
<circle cx="167.6" cy="368.5" r="5.1" class="r"/>
<circle cx="162.7" cy="371.4" r="5.1" class="r"/>
<circle cx="168.6" cy="375.3" r="5.1" class="r"/>
<circle cx="200.7" cy="369.5" r="5.1" class="r"/>
<circle cx="197.8" cy="373.4" r="5.1" class="r"/>
<circle cx="208.5" cy="375.3" r="5.1" class="r"/>
<circle cx="215.3" cy="371.4" r="5.1" class="r"/>
<circle cx="184.1" cy="380.2" r="5.1" class="r"/>
<circle cx="192.9" cy="380.2" r="5.1" class="r"/>
<circle cx="155.9" cy="385.1" r="5.1" class="r"/>
<circle cx="176.4" cy="388.9" r="5.1" class="r"/>
<circle cx="172.5" cy="393.8" r="5.1" class="r"/>
<circle cx="196.8" cy="390.9" r="5.1" class="r"/>
<circle cx="200.7" cy="397.7" r="5.1" class="r"/>
<circle cx="161.8" cy="405.8" r="5.1" class="r"/>
<circle cx="158.9" cy="413.6" r="5.1" class="r"/>
<circle cx="145.2" cy="419.5" r="5.1" class="r"/>
<circle cx="141.3" cy="421.4" r="5.1" class="r"/>
<circle cx="154.0" cy="424.3" r="5.1" class="r"/>
<circle cx="155.0" cy="427.2" r="5.1" class="r"/>
<circle cx="150.1" cy="431.1" r="5.1" class="r"/>
<circle cx="149.1" cy="435.0" r="5.1" class="r"/>
<circle cx="146.2" cy="441.8" r="5.1" class="r"/>
<circle cx="138.4" cy="451.6" r="5.1" class="r"/>
<circle cx="134.5" cy="453.5" r="5.1" class="r"/>
<circle cx="126.8" cy="486.6" r="5.1" class="r"/>
<circle cx="287.9" cy="81.7" r="5.1" class="r"/>
<circle cx="285.3" cy="85.5" r="5.1" class="r"/>
<circle cx="280.9" cy="86.8" r="5.1" class="r"/>
<circle cx="278.3" cy="88.7" r="5.1" class="r"/>
<circle cx="277.0" cy="91.9" r="5.1" class="r"/>
<circle cx="278.3" cy="95.1" r="5.1" class="r"/>
<circle cx="275.1" cy="97.0" r="5.1" class="r"/>
<circle cx="270.6" cy="95.7" r="5.1" class="r"/>
<circle cx="270.0" cy="100.9" r="5.1" class="r"/>
<circle cx="273.2" cy="102.1" r="5.1" class="r"/>
<circle cx="277.0" cy="102.1" r="5.1" class="r"/>
<circle cx="271.9" cy="98.3" r="5.1" class="r"/>
<circle cx="290.4" cy="113.0" r="5.1" class="r"/>
<circle cx="282.8" cy="113.6" r="5.1" class="r"/>
<circle cx="270.6" cy="116.2" r="5.1" class="r"/>
<circle cx="274.5" cy="117.4" r="5.1" class="r"/>
<circle cx="279.6" cy="121.3" r="5.1" class="r"/>
<circle cx="278.3" cy="123.8" r="5.1" class="r"/>
<circle cx="271.9" cy="126.4" r="5.1" class="r"/>
<circle cx="268.1" cy="128.9" r="5.1" class="r"/>
<circle cx="264.9" cy="131.5" r="5.1" class="r"/>
<circle cx="266.8" cy="136.6" r="5.1" class="r"/>
<circle cx="271.9" cy="134.0" r="5.1" class="r"/>
<circle cx="274.5" cy="137.9" r="5.1" class="r"/>
<circle cx="282.1" cy="116.2" r="5.1" class="r"/>
<circle cx="265.5" cy="131.9" r="5.1" class="r"/>
<circle cx="273.2" cy="133.8" r="5.1" class="r"/>
<circle cx="264.9" cy="142.1" r="5.1" class="r"/>
<circle cx="269.4" cy="149.1" r="5.1" class="r"/>
<circle cx="261.7" cy="151.7" r="5.1" class="r"/>
<circle cx="267.4" cy="155.5" r="5.1" class="r"/>
<circle cx="260.4" cy="156.8" r="5.1" class="r"/>
<circle cx="268.1" cy="160.6" r="5.1" class="r"/>
<circle cx="259.1" cy="161.9" r="5.1" class="r"/>
<circle cx="255.3" cy="167.0" r="5.1" class="r"/>
<circle cx="264.3" cy="169.6" r="5.1" class="r"/>
<circle cx="254.0" cy="173.4" r="5.1" class="r"/>
<circle cx="265.5" cy="174.0" r="5.1" class="r"/>
<circle cx="251.5" cy="177.2" r="5.1" class="r"/>
<circle cx="257.9" cy="178.5" r="5.1" class="r"/>
<circle cx="251.5" cy="183.6" r="5.1" class="r"/>
<circle cx="257.9" cy="186.2" r="5.1" class="r"/>
<circle cx="261.7" cy="190.0" r="5.1" class="r"/>
<circle cx="263.0" cy="192.6" r="5.1" class="r"/>
<circle cx="254.0" cy="192.6" r="5.1" class="r"/>
<circle cx="247.7" cy="196.4" r="5.1" class="r"/>
<circle cx="251.5" cy="201.5" r="5.1" class="r"/>
<circle cx="255.3" cy="205.3" r="5.1" class="r"/>
<circle cx="247.7" cy="206.6" r="5.1" class="r"/>
<circle cx="274.5" cy="132.6" r="5.1" class="r"/>
<circle cx="269.4" cy="133.8" r="5.1" class="r"/>
<circle cx="254.4" cy="206.3" r="5.1" class="r"/>
<circle cx="256.9" cy="212.7" r="5.1" class="r"/>
<circle cx="246.1" cy="217.8" r="5.1" class="r"/>
<circle cx="240.3" cy="222.9" r="5.1" class="r"/>
<circle cx="246.1" cy="224.8" r="5.1" class="r"/>
<circle cx="250.5" cy="222.9" r="5.1" class="r"/>
<circle cx="245.4" cy="232.4" r="5.1" class="r"/>
<circle cx="241.6" cy="239.5" r="5.1" class="r"/>
<circle cx="251.2" cy="238.8" r="5.1" class="r"/>
<circle cx="244.1" cy="245.9" r="5.1" class="r"/>
<circle cx="248.0" cy="247.1" r="5.1" class="r"/>
<circle cx="230.1" cy="251.0" r="5.1" class="r"/>
<circle cx="248.6" cy="254.8" r="5.1" class="r"/>
<circle cx="239.0" cy="256.1" r="5.1" class="r"/>
<circle cx="241.0" cy="262.4" r="5.1" class="r"/>
<circle cx="235.2" cy="265.0" r="5.1" class="r"/>
<circle cx="240.3" cy="271.4" r="5.1" class="r"/>
<circle cx="237.1" cy="277.8" r="5.1" class="r"/>
<circle cx="232.7" cy="272.7" r="5.1" class="r"/>
<circle cx="237.4" cy="281.3" r="5.1" class="r"/>
<circle cx="243.2" cy="288.9" r="5.1" class="r"/>
<circle cx="235.5" cy="290.9" r="5.1" class="r"/>
<circle cx="238.1" cy="297.9" r="5.1" class="r"/>
<circle cx="230.4" cy="304.3" r="5.1" class="r"/>
<circle cx="240.6" cy="305.5" r="5.1" class="r"/>
<circle cx="231.1" cy="308.7" r="5.1" class="r"/>
<circle cx="224.0" cy="311.9" r="5.1" class="r"/>
<circle cx="229.1" cy="317.0" r="5.1" class="r"/>
<circle cx="235.5" cy="323.4" r="5.1" class="r"/>
<circle cx="226.6" cy="327.2" r="5.1" class="r"/>
<circle cx="234.3" cy="334.9" r="5.1" class="r"/>
<circle cx="221.5" cy="334.9" r="5.1" class="r"/>
<circle cx="213.8" cy="333.6" r="5.1" class="r"/>
<circle cx="216.4" cy="338.7" r="5.1" class="r"/>
<circle cx="233.0" cy="342.6" r="5.1" class="r"/>
<circle cx="226.6" cy="347.7" r="5.1" class="r"/>
<circle cx="233.0" cy="352.8" r="5.1" class="r"/>
<circle cx="224.0" cy="355.3" r="5.1" class="r"/>
<circle cx="229.1" cy="357.9" r="5.1" class="r"/>
<circle cx="182.6" cy="347.6" r="5.1" class="r"/>
<circle cx="187.7" cy="352.7" r="5.1" class="r"/>
<circle cx="194.0" cy="348.8" r="5.1" class="r"/>
<circle cx="196.6" cy="353.9" r="5.1" class="r"/>
<circle cx="187.7" cy="360.3" r="5.1" class="r"/>
<circle cx="201.7" cy="368.0" r="5.1" class="r"/>
<circle cx="199.1" cy="373.1" r="5.1" class="r"/>
<circle cx="208.1" cy="375.6" r="5.1" class="r"/>
<circle cx="213.2" cy="371.8" r="5.1" class="r"/>
<circle cx="219.6" cy="373.1" r="5.1" class="r"/>
<circle cx="219.6" cy="366.7" r="5.1" class="r"/>
<circle cx="232.3" cy="373.1" r="5.1" class="r"/>
<circle cx="222.1" cy="380.7" r="5.1" class="r"/>
<circle cx="192.8" cy="379.5" r="5.1" class="r"/>
<circle cx="185.1" cy="379.5" r="5.1" class="r"/>
<circle cx="181.3" cy="388.4" r="5.1" class="r"/>
<circle cx="197.9" cy="389.7" r="5.1" class="r"/>
<circle cx="199.8" cy="397.3" r="5.1" class="r"/>
<circle cx="222.1" cy="388.4" r="5.1" class="r"/>
<circle cx="224.7" cy="395.4" r="5.1" class="r"/>
<circle cx="233.6" cy="352.7" r="5.1" class="r"/>
<circle cx="232.3" cy="361.6" r="5.1" class="r"/>
<circle cx="226.0" cy="359.0" r="5.1" class="r"/>
<circle cx="228.5" cy="347.6" r="5.1" class="r"/>
<path d="M637.55,67.85H640.85V71.15H644.15V74.45H640.85V77.75H637.55V74.45H634.25V71.15H637.55Z" class="b"/>
<path d="M635.55,72.95H638.85V76.25H642.15V79.55H638.85V82.85H635.55V79.55H632.25V76.25H635.55Z" class="b"/>
<path d="M633.05,76.15H636.35V79.45H639.65V82.75H636.35V86.05H633.05V82.75H629.75V79.45H633.05Z" class="b"/>
<path d="M631.15,80.55H634.45V83.85H637.75V87.15H634.45V90.45H631.15V87.15H627.85V83.85H631.15Z" class="b"/>
<path d="M629.25,84.45H632.55V87.75H635.85V91.05H632.55V94.35H629.25V91.05H625.95V87.75H629.25Z" class="b"/>
<path d="M626.65,88.85H629.95V92.15H633.25V95.45H629.95V98.75H626.65V95.45H623.35V92.15H626.65Z" class="b"/>
<path d="M624.05,93.35H627.35V96.65H630.65V99.95H627.35V103.25H624.05V99.95H620.75V96.65H624.05Z" class="b"/>
<path d="M622.15,97.15H625.45V100.45H628.75V103.75H625.45V107.05H622.15V103.75H618.85V100.45H622.15Z" class="b"/>
<path d="M620.25,101.65H623.55V104.95H626.85V108.25H623.55V111.55H620.25V108.25H616.95V104.95H620.25Z" class="b"/>
<path d="M618.35,107.35H621.65V110.65H624.95V113.95H621.65V117.25H618.35V113.95H615.05V110.65H618.35Z" class="b"/>
<path d="M615.75,113.75H619.05V117.05H622.35V120.35H619.05V123.65H615.75V120.35H612.45V117.05H615.75Z" class="b"/>
<path d="M612.65,123.95H615.95V127.25H619.25V130.55H615.95V133.85H612.65V130.55H609.35V127.25H612.65Z" class="b"/>
<path d="M614.65,127.65H617.95V130.95H621.25V134.25H617.95V137.55H614.65V134.25H611.35V130.95H614.65Z" class="b"/>
<path d="M610.05,129.05H613.35V132.35H616.65V135.65H613.35V138.95H610.05V135.65H606.75V132.35H610.05Z" class="b"/>
<path d="M607.45,132.95H610.75V136.25H614.05V139.55H610.75V142.85H607.45V139.55H604.15V136.25H607.45Z" class="b"/>
<path d="M612.15,133.95H615.45V137.25H618.75V140.55H615.45V143.85H612.15V140.55H608.85V137.25H612.15Z" class="b"/>
<path d="M609.55,140.35H612.85V143.65H616.15V146.95H612.85V150.25H609.55V146.95H606.25V143.65H609.55Z" class="b"/>
<path d="M607.05,145.45H610.35V148.75H613.65V152.05H610.35V155.35H607.05V152.05H603.75V148.75H607.05Z" class="b"/>
<path d="M605.15,151.85H608.45V155.15H611.75V158.45H608.45V161.75H605.15V158.45H601.85V155.15H605.15Z" class="b"/>
<path d="M602.55,158.25H605.85V161.55H609.15V164.85H605.85V168.15H602.55V164.85H599.25V161.55H602.55Z" class="b"/>
<path d="M599.95,164.65H603.25V167.95H606.55V171.25H603.25V174.55H599.95V171.25H596.65V167.95H599.95Z" class="b"/>
<path d="M597.45,171.05H600.75V174.35H604.05V177.65H600.75V180.95H597.45V177.65H594.15V174.35H597.45Z" class="b"/>
<path d="M594.85,177.35H598.15V180.65H601.45V183.95H598.15V187.25H594.85V183.95H591.55V180.65H594.85Z" class="b"/>
<path d="M592.35,183.75H595.65V187.05H598.95V190.35H595.65V193.65H592.35V190.35H589.05V187.05H592.35Z" class="b"/>
<path d="M589.75,190.15H593.05V193.45H596.35V196.75H593.05V200.05H589.75V196.75H586.45V193.45H589.75Z" class="b"/>
<path d="M587.25,196.55H590.55V199.85H593.85V203.15H590.55V206.45H587.25V203.15H583.95V199.85H587.25Z" class="b"/>
<path d="M584.65,201.65H587.95V204.95H591.25V208.25H587.95V211.55H584.65V208.25H581.35V204.95H584.65Z" class="b"/>
<path d="M582.75,202.65H586.05V205.95H589.35V209.25H586.05V212.55H582.75V209.25H579.45V205.95H582.75Z" class="b"/>
<path d="M578.85,207.75H582.15V211.05H585.45V214.35H582.15V217.65H578.85V214.35H575.55V211.05H578.85Z" class="b"/>
<path d="M576.35,214.05H579.65V217.35H582.95V220.65H579.65V223.95H576.35V220.65H573.05V217.35H576.35Z" class="b"/>
<path d="M561.05,262.65H564.35V265.95H567.65V269.25H564.35V272.55H561.05V269.25H557.75V265.95H561.05Z" class="b"/>
<path d="M557.15,271.55H560.45V274.85H563.75V278.15H560.45V281.45H557.15V278.15H553.85V274.85H557.15Z" class="b"/>
<path d="M551.35,280.25H554.65V283.55H557.95V286.85H554.65V290.15H551.35V286.85H548.05V283.55H551.35Z" class="b"/>
<path d="M548.75,285.35H552.05V288.65H555.35V291.95H552.05V295.25H548.75V291.95H545.45V288.65H548.75Z" class="b"/>
<path d="M539.85,310.95H543.15V314.25H546.45V317.55H543.15V320.85H539.85V317.55H536.55V314.25H539.85Z" class="b"/>
<path d="M533.45,321.15H536.75V324.45H540.05V327.75H536.75V331.05H533.45V327.75H530.15V324.45H533.45Z" class="b"/>
<path d="M522.65,348.95H525.95V352.25H529.25V355.55H525.95V358.85H522.65V355.55H519.35V352.25H522.65Z" class="b"/>
<path d="M516.25,364.35H519.55V367.65H522.85V370.95H519.55V374.25H516.25V370.95H512.95V367.65H516.25Z" class="b"/>
<path d="M512.35,370.65H515.65V373.95H518.95V377.25H515.65V380.55H512.35V377.25H509.05V373.95H512.35Z" class="b"/>
<path d="M509.85,379.65H513.15V382.95H516.45V386.25H513.15V389.55H509.85V386.25H506.55V382.95H509.85Z" class="b"/>
<path d="M506.05,389.85H509.35V393.15H512.65V396.45H509.35V399.75H506.05V396.45H502.75V393.15H506.05Z" class="b"/>
<path d="M502.15,400.05H505.45V403.35H508.75V406.65H505.45V409.95H502.15V406.65H498.85V403.35H502.15Z" class="b"/>
<path d="M499.65,403.85H502.95V407.15H506.25V410.45H502.95V413.75H499.65V410.45H496.35V407.15H499.65Z" class="b"/>
<path d="M498.95,413.85H502.25V417.15H505.55V420.45H502.25V423.75H498.95V420.45H495.65V417.15H498.95Z" class="b"/>
<path d="M495.15,418.95H498.45V422.25H501.75V425.55H498.45V428.85H495.15V425.55H491.85V422.25H495.15Z" class="b"/>
<path d="M487.45,427.95H490.75V431.25H494.05V434.55H490.75V437.85H487.45V434.55H484.15V431.25H487.45Z" class="b"/>
<path d="M484.95,431.75H488.25V435.05H491.55V438.35H488.25V441.65H484.95V438.35H481.65V435.05H484.95Z" class="b"/>
<path d="M482.45,437.45H485.75V440.75H489.05V444.05H485.75V447.35H482.45V444.05H479.15V440.75H482.45Z" class="b"/>
<path d="M482.35,438.15H485.65V441.45H488.95V444.75H485.65V448.05H482.35V444.75H479.05V441.45H482.35Z" class="b"/>
<path d="M472.95,455.75H476.25V459.05H479.55V462.35H476.25V465.65H472.95V462.35H469.65V459.05H472.95Z" class="b"/>
<path d="M473.45,456.05H476.75V459.35H480.05V462.65H476.75V465.95H473.45V462.65H470.15V459.35H473.45Z" class="b"/>
<path d="M636.25,70.35H639.55V73.65H642.85V76.95H639.55V80.25H636.25V76.95H632.95V73.65H636.25Z" class="b"/>
<path d="M631.55,78.35H634.85V81.65H638.15V84.95H634.85V88.25H631.55V84.95H628.25V81.65H631.55Z" class="b"/>
<path d="M628.15,86.65H631.45V89.95H634.75V93.25H631.45V96.55H628.15V93.25H624.85V89.95H628.15Z" class="b"/>
<path d="M624.65,91.05H627.95V94.35H631.25V97.65H627.95V100.95H624.65V97.65H621.35V94.35H624.65Z" class="b"/>
<path d="M621.25,99.35H624.55V102.65H627.85V105.95H624.55V109.25H621.25V105.95H617.95V102.65H621.25Z" class="b"/>
<path d="M619.05,104.45H622.35V107.75H625.65V111.05H622.35V114.35H619.05V111.05H615.75V107.75H619.05Z" class="b"/>
<path d="M616.35,110.55H619.65V113.85H622.95V117.15H619.65V120.45H616.35V117.15H613.05V113.85H616.35Z" class="b"/>
<path d="M614.75,117.15H618.05V120.45H621.35V123.75H618.05V127.05H614.75V123.75H611.45V120.45H614.75Z" class="b"/>
<path d="M612.95,120.55H616.25V123.85H619.55V127.15H616.25V130.45H612.95V127.15H609.65V123.85H612.95Z" class="b"/>
<path d="M612.25,128.35H615.55V131.65H618.85V134.95H615.55V138.25H612.25V134.95H608.95V131.65H612.25Z" class="b"/>
<path d="M608.05,130.95H611.35V134.25H614.65V137.55H611.35V140.85H608.05V137.55H604.75V134.25H608.05Z" class="b"/>
<path d="M609.15,133.45H612.45V136.75H615.75V140.05H612.45V143.35H609.15V140.05H605.85V136.75H609.15Z" class="b"/>
<path d="M610.75,137.15H614.05V140.45H617.35V143.75H614.05V147.05H610.75V143.75H607.45V140.45H610.75Z" class="b"/>
<path d="M608.85,142.95H612.15V146.25H615.45V149.55H612.15V152.85H608.85V149.55H605.55V146.25H608.85Z" class="b"/>
<path d="M605.45,148.65H608.75V151.95H612.05V155.25H608.75V158.55H605.45V155.25H602.15V151.95H605.45Z" class="b"/>
<path d="M603.45,155.05H606.75V158.35H610.05V161.65H606.75V164.95H603.45V161.65H600.15V158.35H603.45Z" class="b"/>
<path d="M601.45,161.45H604.75V164.75H608.05V168.05H604.75V171.35H601.45V168.05H598.15V164.75H601.45Z" class="b"/>
<path d="M599.45,167.85H602.75V171.15H606.05V174.45H602.75V177.75H599.45V174.45H596.15V171.15H599.45Z" class="b"/>
<path d="M596.25,174.25H599.55V177.55H602.85V180.85H599.55V184.15H596.25V180.85H592.95V177.55H596.25Z" class="b"/>
<path d="M593.45,180.55H596.75V183.85H600.05V187.15H596.75V190.45H593.45V187.15H590.15V183.85H593.45Z" class="b"/>
<path d="M591.85,186.95H595.15V190.25H598.45V193.55H595.15V196.85H591.85V193.55H588.55V190.25H591.85Z" class="b"/>
<path d="M587.75,193.35H591.05V196.65H594.35V199.95H591.05V203.25H587.75V199.95H584.45V196.65H587.75Z" class="b"/>
<path d="M586.55,199.15H589.85V202.45H593.15V205.75H589.85V209.05H586.55V205.75H583.25V202.45H586.55Z" class="b"/>
<path d="M580.45,205.15H583.75V208.45H587.05V211.75H583.75V215.05H580.45V211.75H577.15V208.45H580.45Z" class="b"/>
<path d="M577.05,210.85H580.35V214.15H583.65V217.45H580.35V220.75H577.05V217.45H573.75V214.15H577.05Z" class="b"/>
<path d="M559.15,265.65H562.45V268.95H565.75V272.25H562.45V275.55H559.15V272.25H555.85V268.95H559.15Z" class="b"/>
<path d="M558.15,268.55H561.45V271.85H564.75V275.15H561.45V278.45H558.15V275.15H554.85V271.85H558.15Z" class="b"/>
<path d="M555.75,274.45H559.05V277.75H562.35V281.05H559.05V284.35H555.75V281.05H552.45V277.75H555.75Z" class="b"/>
<path d="M552.75,277.35H556.05V280.65H559.35V283.95H556.05V287.25H552.75V283.95H549.45V280.65H552.75Z" class="b"/>
<path d="M550.15,282.85H553.45V286.15H556.75V289.45H553.45V292.75H550.15V289.45H546.85V286.15H550.15Z" class="b"/>
<path d="M538.45,313.45H541.75V316.75H545.05V320.05H541.75V323.35H538.45V320.05H535.15V316.75H538.45Z" class="b"/>
<path d="M536.45,316.05H539.75V319.35H543.05V322.65H539.75V325.95H536.45V322.65H533.15V319.35H536.45Z" class="b"/>
<path d="M535.15,318.65H538.45V321.95H541.75V325.25H538.45V328.55H535.15V325.25H531.85V321.95H535.15Z" class="b"/>
<path d="M520.65,352.05H523.95V355.35H527.25V358.65H523.95V361.95H520.65V358.65H517.35V355.35H520.65Z" class="b"/>
<path d="M519.35,355.15H522.65V358.45H525.95V361.75H522.65V365.05H519.35V361.75H516.05V358.45H519.35Z" class="b"/>
<path d="M518.35,358.15H521.65V361.45H524.95V364.75H521.65V368.05H518.35V364.75H515.05V361.45H518.35Z" class="b"/>
<path d="M517.85,361.25H521.15V364.55H524.45V367.85H521.15V371.15H517.85V367.85H514.55V364.55H517.85Z" class="b"/>
<path d="M514.15,367.55H517.45V370.85H520.75V374.15H517.45V377.45H514.15V374.15H510.85V370.85H514.15Z" class="b"/>
<path d="M511.25,373.65H514.55V376.95H517.85V380.25H514.55V383.55H511.25V380.25H507.95V376.95H511.25Z" class="b"/>
<path d="M510.85,376.65H514.15V379.95H517.45V383.25H514.15V386.55H510.85V383.25H507.55V379.95H510.85Z" class="b"/>
<path d="M508.55,383.05H511.85V386.35H515.15V389.65H511.85V392.95H508.55V389.65H505.25V386.35H508.55Z" class="b"/>
<path d="M506.95,386.45H510.25V389.75H513.55V393.05H510.25V396.35H506.95V393.05H503.65V389.75H506.95Z" class="b"/>
<path d="M505.25,393.25H508.55V396.55H511.85V399.85H508.55V403.15H505.25V399.85H501.95V396.55H505.25Z" class="b"/>
<path d="M503.75,396.65H507.05V399.95H510.35V403.25H507.05V406.55H503.75V403.25H500.45V399.95H503.75Z" class="b"/>
<path d="M500.45,401.95H503.75V405.25H507.05V408.55H503.75V411.85H500.45V408.55H497.15V405.25H500.45Z" class="b"/>
<path d="M499.55,407.15H502.85V410.45H506.15V413.75H502.85V417.05H499.55V413.75H496.25V410.45H499.55Z" class="b"/>
<path d="M499.25,410.55H502.55V413.85H505.85V417.15H502.55V420.45H499.25V417.15H495.95V413.85H499.25Z" class="b"/>
<path d="M497.65,416.45H500.95V419.75H504.25V423.05H500.95V426.35H497.65V423.05H494.35V419.75H497.65Z" class="b"/>
<path d="M492.95,421.95H496.25V425.25H499.55V428.55H496.25V431.85H492.95V428.55H489.65V425.25H492.95Z" class="b"/>
<path d="M489.65,424.95H492.95V428.25H496.25V431.55H492.95V434.85H489.65V431.55H486.35V428.25H489.65Z" class="b"/>
<path d="M486.95,429.85H490.25V433.15H493.55V436.45H490.25V439.75H486.95V436.45H483.65V433.15H486.95Z" class="b"/>
<path d="M483.05,434.55H486.35V437.85H489.65V441.15H486.35V444.45H483.05V441.15H479.75V437.85H483.05Z" class="b"/>
<rect x="633.9" y="129.0" width="9.6" height="9.6" class="o"/>
<rect x="634.4" y="130.5" width="9.6" height="9.6" class="o"/>
<rect x="627.3" y="131.8" width="9.6" height="9.6" class="o"/>
<rect x="630.0" y="132.9" width="9.6" height="9.6" class="o"/>
<rect x="628.8" y="138.0" width="9.6" height="9.6" class="o"/>
<rect x="627.5" y="141.8" width="9.6" height="9.6" class="o"/>
<rect x="626.2" y="145.6" width="9.6" height="9.6" class="o"/>
<rect x="624.9" y="150.7" width="9.6" height="9.6" class="o"/>
<rect x="624.9" y="155.8" width="9.6" height="9.6" class="o"/>
<rect x="623.7" y="160.9" width="9.6" height="9.6" class="o"/>
<rect x="621.1" y="166.1" width="9.6" height="9.6" class="o"/>
<rect x="619.8" y="169.9" width="9.6" height="9.6" class="o"/>
<rect x="618.6" y="173.7" width="9.6" height="9.6" class="o"/>
<rect x="616.0" y="178.8" width="9.6" height="9.6" class="o"/>
<rect x="614.7" y="182.6" width="9.6" height="9.6" class="o"/>
<rect x="612.2" y="190.3" width="9.6" height="9.6" class="o"/>
<rect x="609.6" y="198.0" width="9.6" height="9.6" class="o"/>
<rect x="603.8" y="201.5" width="9.6" height="9.6" class="o"/>
<rect x="608.3" y="201.8" width="9.6" height="9.6" class="o"/>
<rect x="601.3" y="206.6" width="9.6" height="9.6" class="o"/>
<rect x="598.7" y="213.0" width="9.6" height="9.6" class="o"/>
<rect x="596.2" y="220.6" width="9.6" height="9.6" class="o"/>
<rect x="593.6" y="227.0" width="9.6" height="9.6" class="o"/>
<rect x="591.1" y="234.7" width="9.6" height="9.6" class="o"/>
<rect x="587.2" y="242.3" width="9.6" height="9.6" class="o"/>
<rect x="584.7" y="248.7" width="9.6" height="9.6" class="o"/>
<rect x="582.1" y="255.1" width="9.6" height="9.6" class="o"/>
<rect x="579.6" y="261.5" width="9.6" height="9.6" class="o"/>
<rect x="575.7" y="269.1" width="9.6" height="9.6" class="o"/>
<rect x="575.0" y="272.1" width="9.6" height="9.6" class="o"/>
<rect x="571.9" y="276.8" width="9.6" height="9.6" class="o"/>
<rect x="572.4" y="279.1" width="9.6" height="9.6" class="o"/>
<rect x="566.1" y="283.0" width="9.6" height="9.6" class="o"/>
<rect x="569.9" y="288.1" width="9.6" height="9.6" class="o"/>
<rect x="563.5" y="289.3" width="9.6" height="9.6" class="o"/>
<rect x="562.2" y="295.7" width="9.6" height="9.6" class="o"/>
<rect x="558.4" y="304.7" width="9.6" height="9.6" class="o"/>
<rect x="554.6" y="316.2" width="9.6" height="9.6" class="o"/>
<rect x="549.5" y="327.6" width="9.6" height="9.6" class="o"/>
<rect x="545.6" y="337.9" width="9.6" height="9.6" class="o"/>
<rect x="545.0" y="341.5" width="9.6" height="9.6" class="o"/>
<rect x="544.3" y="346.8" width="9.6" height="9.6" class="o"/>
<rect x="543.7" y="347.9" width="9.6" height="9.6" class="o"/>
<rect x="542.4" y="353.0" width="9.6" height="9.6" class="o"/>
<rect x="539.9" y="360.6" width="9.6" height="9.6" class="o"/>
<rect x="537.3" y="368.3" width="9.6" height="9.6" class="o"/>
<rect x="534.8" y="381.1" width="9.6" height="9.6" class="o"/>
<rect x="532.2" y="388.7" width="9.6" height="9.6" class="o"/>
<rect x="529.7" y="395.1" width="9.6" height="9.6" class="o"/>
<rect x="527.1" y="402.8" width="9.6" height="9.6" class="o"/>
<rect x="524.6" y="409.1" width="9.6" height="9.6" class="o"/>
<rect x="521.4" y="415.3" width="9.6" height="9.6" class="o"/>
<rect x="522.0" y="415.5" width="9.6" height="9.6" class="o"/>
<rect x="518.2" y="418.1" width="9.6" height="9.6" class="o"/>
<rect x="517.5" y="420.4" width="9.6" height="9.6" class="o"/>
<rect x="515.0" y="425.5" width="9.6" height="9.6" class="o"/>
<rect x="512.4" y="434.5" width="9.6" height="9.6" class="o"/>
<rect x="512.8" y="436.0" width="9.6" height="9.6" class="o"/>
<rect x="508.6" y="443.4" width="9.6" height="9.6" class="o"/>
<rect x="508.0" y="444.8" width="9.6" height="9.6" class="o"/>
<rect x="506.1" y="448.5" width="9.6" height="9.6" class="o"/>
<rect x="506.4" y="449.6" width="9.6" height="9.6" class="o"/>
<rect x="503.5" y="453.6" width="9.6" height="9.6" class="o"/>
<rect x="503.3" y="454.3" width="9.6" height="9.6" class="o"/>
<rect x="498.5" y="460.7" width="9.6" height="9.6" class="o"/>
<rect x="499.7" y="461.3" width="9.6" height="9.6" class="o"/>
<rect x="497.1" y="467.6" width="9.6" height="9.6" class="o"/>
<rect x="498.5" y="468.7" width="9.6" height="9.6" class="o"/>
<rect x="490.5" y="471.9" width="9.6" height="9.6" class="o"/>
<rect x="490.7" y="472.8" width="9.6" height="9.6" class="o"/>
<rect x="490.5" y="476.7" width="9.6" height="9.6" class="o"/>
<rect x="488.2" y="477.9" width="9.6" height="9.6" class="o"/>
<rect x="486.5" y="483.8" width="9.6" height="9.6" class="o"/>
<rect x="484.3" y="484.2" width="9.6" height="9.6" class="o"/>
<rect x="479.2" y="488.1" width="9.6" height="9.6" class="o"/>
<rect x="482.5" y="488.6" width="9.6" height="9.6" class="o"/>
<rect x="479.3" y="493.4" width="9.6" height="9.6" class="o"/>
<rect x="470.6" y="511.7" width="9.6" height="9.6" class="o"/>
<rect x="630.7" y="131.1" width="9.6" height="9.6" class="o"/>
<rect x="629.8" y="135.4" width="9.6" height="9.6" class="o"/>
<rect x="625.0" y="148.1" width="9.6" height="9.6" class="o"/>
<rect x="624.9" y="153.3" width="9.6" height="9.6" class="o"/>
<rect x="623.6" y="158.3" width="9.6" height="9.6" class="o"/>
<rect x="622.7" y="163.5" width="9.6" height="9.6" class="o"/>
<rect x="617.7" y="176.3" width="9.6" height="9.6" class="o"/>
<rect x="614.0" y="185.2" width="9.6" height="9.6" class="o"/>
<rect x="613.6" y="187.7" width="9.6" height="9.6" class="o"/>
<rect x="611.0" y="192.9" width="9.6" height="9.6" class="o"/>
<rect x="610.8" y="195.4" width="9.6" height="9.6" class="o"/>
<rect x="606.9" y="199.8" width="9.6" height="9.6" class="o"/>
<rect x="606.2" y="201.6" width="9.6" height="9.6" class="o"/>
<rect x="605.9" y="203.4" width="9.6" height="9.6" class="o"/>
<rect x="604.2" y="205.0" width="9.6" height="9.6" class="o"/>
<rect x="600.7" y="209.8" width="9.6" height="9.6" class="o"/>
<rect x="597.8" y="215.5" width="9.6" height="9.6" class="o"/>
<rect x="597.3" y="218.1" width="9.6" height="9.6" class="o"/>
<rect x="594.2" y="223.8" width="9.6" height="9.6" class="o"/>
<rect x="593.1" y="229.6" width="9.6" height="9.6" class="o"/>
<rect x="592.2" y="232.1" width="9.6" height="9.6" class="o"/>
<rect x="590.6" y="237.2" width="9.6" height="9.6" class="o"/>
<rect x="589.0" y="239.8" width="9.6" height="9.6" class="o"/>
<rect x="585.6" y="245.5" width="9.6" height="9.6" class="o"/>
<rect x="583.2" y="251.9" width="9.6" height="9.6" class="o"/>
<rect x="581.1" y="258.3" width="9.6" height="9.6" class="o"/>
<rect x="577.5" y="264.0" width="9.6" height="9.6" class="o"/>
<rect x="576.9" y="266.6" width="9.6" height="9.6" class="o"/>
<rect x="572.9" y="274.4" width="9.6" height="9.6" class="o"/>
<rect x="568.6" y="281.1" width="9.6" height="9.6" class="o"/>
<rect x="567.3" y="285.6" width="9.6" height="9.6" class="o"/>
<rect x="567.1" y="288.7" width="9.6" height="9.6" class="o"/>
<rect x="562.3" y="292.5" width="9.6" height="9.6" class="o"/>
<rect x="560.5" y="298.7" width="9.6" height="9.6" class="o"/>
<rect x="559.5" y="301.7" width="9.6" height="9.6" class="o"/>
<rect x="558.0" y="307.6" width="9.6" height="9.6" class="o"/>
<rect x="555.8" y="310.4" width="9.6" height="9.6" class="o"/>
<rect x="555.5" y="313.3" width="9.6" height="9.6" class="o"/>
<rect x="553.4" y="319.1" width="9.6" height="9.6" class="o"/>
<rect x="552.7" y="321.9" width="9.6" height="9.6" class="o"/>
<rect x="551.3" y="324.7" width="9.6" height="9.6" class="o"/>
<rect x="548.8" y="331.0" width="9.6" height="9.6" class="o"/>
<rect x="546.5" y="334.5" width="9.6" height="9.6" class="o"/>
<rect x="544.5" y="344.2" width="9.6" height="9.6" class="o"/>
<rect x="542.8" y="350.4" width="9.6" height="9.6" class="o"/>
<rect x="542.2" y="355.5" width="9.6" height="9.6" class="o"/>
<rect x="541.5" y="358.1" width="9.6" height="9.6" class="o"/>
<rect x="538.5" y="363.2" width="9.6" height="9.6" class="o"/>
<rect x="537.6" y="365.7" width="9.6" height="9.6" class="o"/>
<rect x="536.2" y="371.5" width="9.6" height="9.6" class="o"/>
<rect x="535.6" y="374.7" width="9.6" height="9.6" class="o"/>
<rect x="535.4" y="377.9" width="9.6" height="9.6" class="o"/>
<rect x="534.1" y="383.6" width="9.6" height="9.6" class="o"/>
<rect x="532.7" y="386.2" width="9.6" height="9.6" class="o"/>
<rect x="530.2" y="391.9" width="9.6" height="9.6" class="o"/>
<rect x="528.7" y="397.7" width="9.6" height="9.6" class="o"/>
<rect x="527.8" y="400.2" width="9.6" height="9.6" class="o"/>
<rect x="526.0" y="406.0" width="9.6" height="9.6" class="o"/>
<rect x="523.7" y="412.2" width="9.6" height="9.6" class="o"/>
<rect x="520.4" y="416.8" width="9.6" height="9.6" class="o"/>
<rect x="516.3" y="423.0" width="9.6" height="9.6" class="o"/>
<rect x="514.3" y="428.5" width="9.6" height="9.6" class="o"/>
<rect x="513.5" y="431.5" width="9.6" height="9.6" class="o"/>
<rect x="510.7" y="438.5" width="9.6" height="9.6" class="o"/>
<rect x="510.6" y="440.9" width="9.6" height="9.6" class="o"/>
<path d="M639.2,87.5L644.2,97.0L634.2,97.0Z" class="g"/>
<path d="M637.2,92.6L642.2,102.1L632.2,102.1Z" class="g"/>
<path d="M625.7,107.9L630.7,117.4L620.7,117.4Z" class="g"/>
<path d="M620.8,140.9L625.8,150.4L615.8,150.4Z" class="g"/>
<path d="M618.9,146.6L623.9,156.1L613.9,156.1Z" class="g"/>
<path d="M608.0,162.6L613.0,172.1L603.0,172.1Z" class="g"/>
<path d="M600.4,181.7L605.4,191.2L595.4,191.2Z" class="g"/>
<path d="M594.0,200.9L599.0,210.4L589.0,210.4Z" class="g"/>
<path d="M588.2,204.4L593.2,213.9L583.2,213.9Z" class="g"/>
<path d="M574.1,227.4L579.1,236.9L569.1,236.9Z" class="g"/>
<path d="M569.0,242.7L574.0,252.2L564.0,252.2Z" class="g"/>
<path d="M563.9,260.6L568.9,270.1L558.9,270.1Z" class="g"/>
<path d="M553.0,287.2L558.0,296.7L548.0,296.7Z" class="g"/>
<path d="M544.0,302.5L549.0,312.0L539.0,312.0Z" class="g"/>
<path d="M537.7,317.8L542.7,327.3L532.7,327.3Z" class="g"/>
<path d="M532.6,330.6L537.6,340.1L527.6,340.1Z" class="g"/>
<path d="M531.3,338.2L536.3,347.7L526.3,347.7Z" class="g"/>
<path d="M529.4,340.6L534.4,350.1L524.4,350.1Z" class="g"/>
<path d="M523.0,355.9L528.0,365.4L518.0,365.4Z" class="g"/>
<path d="M519.1,362.3L524.1,371.8L514.1,371.8Z" class="g"/>
<path d="M512.8,384.0L517.8,393.5L507.8,393.5Z" class="g"/>
<path d="M507.7,399.3L512.7,408.8L502.7,408.8Z" class="g"/>
<path d="M502.6,410.8L507.6,420.3L497.6,420.3Z" class="g"/>
<path d="M499.4,419.5L504.4,429.0L494.4,429.0Z" class="g"/>
<path d="M495.5,425.9L500.5,435.4L490.5,435.4Z" class="g"/>
<path d="M490.4,432.3L495.4,441.8L485.4,441.8Z" class="g"/>
<path d="M485.3,442.5L490.3,452.0L480.3,452.0Z" class="g"/>
<path d="M484.1,450.2L489.1,459.7L479.1,459.7Z" class="g"/>
<path d="M484.0,451.4L489.0,460.9L479.0,460.9Z" class="g"/>
<path d="M475.4,465.4L480.4,474.9L470.4,474.9Z" class="g"/>
<path d="M475.7,466.7L480.7,476.2L470.7,476.2Z" class="g"/>
<path d="M638.6,90.1L643.6,99.6L633.6,99.6Z" class="g"/>
<path d="M635.5,95.7L640.5,105.2L630.5,105.2Z" class="g"/>
<path d="M633.1,98.7L638.1,108.2L628.1,108.2Z" class="g"/>
<path d="M630.1,101.8L635.1,111.3L625.1,111.3Z" class="g"/>
<path d="M627.8,104.8L632.8,114.3L622.8,114.3Z" class="g"/>
<path d="M619.2,143.7L624.2,153.2L614.2,153.2Z" class="g"/>
<path d="M616.9,149.8L621.9,159.3L611.9,159.3Z" class="g"/>
<path d="M613.8,153.0L618.8,162.5L608.8,162.5Z" class="g"/>
<path d="M611.7,156.2L616.7,165.7L606.7,165.7Z" class="g"/>
<path d="M609.7,159.4L614.7,168.9L604.7,168.9Z" class="g"/>
<path d="M606.2,165.8L611.2,175.3L601.2,175.3Z" class="g"/>
<path d="M605.2,169.0L610.2,178.5L600.2,178.5Z" class="g"/>
<path d="M603.5,172.2L608.5,181.7L598.5,181.7Z" class="g"/>
<path d="M602.1,175.3L607.1,184.8L597.1,184.8Z" class="g"/>
<path d="M601.1,178.5L606.1,188.0L596.1,188.0Z" class="g"/>
<path d="M598.7,184.9L603.7,194.4L593.7,194.4Z" class="g"/>
<path d="M598.0,188.1L603.0,197.6L593.0,197.6Z" class="g"/>
<path d="M596.4,191.3L601.4,200.8L591.4,200.8Z" class="g"/>
<path d="M596.7,194.5L601.7,204.0L591.7,204.0Z" class="g"/>
<path d="M595.2,197.7L600.2,207.2L590.2,207.2Z" class="g"/>
<path d="M590.5,202.6L595.5,212.1L585.5,212.1Z" class="g"/>
<path d="M572.7,230.5L577.7,240.0L567.7,240.0Z" class="g"/>
<path d="M571.8,233.5L576.8,243.0L566.8,243.0Z" class="g"/>
<path d="M570.8,236.6L575.8,246.1L565.8,246.1Z" class="g"/>
<path d="M569.4,239.6L574.4,249.1L564.4,249.1Z" class="g"/>
<path d="M568.5,246.3L573.5,255.8L563.5,255.8Z" class="g"/>
<path d="M567.7,249.9L572.7,259.4L562.7,259.4Z" class="g"/>
<path d="M565.9,253.4L570.9,262.9L560.9,262.9Z" class="g"/>
<path d="M564.9,257.0L569.9,266.5L559.9,266.5Z" class="g"/>
<path d="M550.5,290.3L555.5,299.8L545.5,299.8Z" class="g"/>
<path d="M548.8,293.3L553.8,302.8L543.8,302.8Z" class="g"/>
<path d="M547.3,296.4L552.3,305.9L542.3,305.9Z" class="g"/>
<path d="M545.4,299.4L550.4,308.9L540.4,308.9Z" class="g"/>
<path d="M543.3,305.6L548.3,315.1L538.3,315.1Z" class="g"/>
<path d="M540.9,308.6L545.9,318.1L535.9,318.1Z" class="g"/>
<path d="M539.5,311.7L544.5,321.2L534.5,321.2Z" class="g"/>
<path d="M539.7,314.7L544.7,324.2L534.7,324.2Z" class="g"/>
<path d="M536.5,321.0L541.5,330.5L531.5,330.5Z" class="g"/>
<path d="M534.6,324.2L539.6,333.7L529.6,333.7Z" class="g"/>
<path d="M533.9,327.4L538.9,336.9L528.9,336.9Z" class="g"/>
<path d="M531.2,334.4L536.2,343.9L526.2,343.9Z" class="g"/>
<path d="M528.2,343.7L533.2,353.2L523.2,353.2Z" class="g"/>
<path d="M527.6,346.7L532.6,356.2L522.6,356.2Z" class="g"/>
<path d="M526.1,349.8L531.1,359.3L521.1,359.3Z" class="g"/>
<path d="M524.6,352.8L529.6,362.3L519.6,362.3Z" class="g"/>
<path d="M520.7,359.1L525.7,368.6L515.7,368.6Z" class="g"/>
<path d="M511.6,387.1L516.6,396.6L506.6,396.6Z" class="g"/>
<path d="M510.2,390.1L515.2,399.6L505.2,399.6Z" class="g"/>
<path d="M510.2,393.2L515.2,402.7L505.2,402.7Z" class="g"/>
<path d="M508.8,396.2L513.8,405.7L503.8,405.7Z" class="g"/>
<path d="M506.9,402.2L511.9,411.7L501.9,411.7Z" class="g"/>
<path d="M504.9,405.1L509.9,414.6L499.9,414.6Z" class="g"/>
<path d="M503.4,407.9L508.4,417.4L498.4,417.4Z" class="g"/>
<path d="M502.0,413.7L507.0,423.2L497.0,423.2Z" class="g"/>
<path d="M501.2,416.6L506.2,426.1L496.2,426.1Z" class="g"/>
<path d="M498.0,422.7L503.0,432.2L493.0,432.2Z" class="g"/>
<path d="M494.3,428.0L499.3,437.5L489.3,437.5Z" class="g"/>
<path d="M492.6,430.2L497.6,439.7L487.6,439.7Z" class="g"/>
<path d="M489.1,435.7L494.1,445.2L484.1,445.2Z" class="g"/>
<path d="M486.6,439.1L491.6,448.6L481.6,448.6Z" class="g"/>
<circle cx="638.5" cy="109.8" r="5.1" class="r"/>
<circle cx="634.0" cy="111.1" r="5.1" class="r"/>
<circle cx="632.1" cy="114.9" r="5.1" class="r"/>
<circle cx="629.6" cy="117.4" r="5.1" class="r"/>
<circle cx="627.7" cy="121.3" r="5.1" class="r"/>
<circle cx="624.5" cy="125.1" r="5.1" class="r"/>
<circle cx="621.9" cy="128.9" r="5.1" class="r"/>
<circle cx="625.9" cy="131.9" r="5.1" class="r"/>
<circle cx="620.6" cy="132.8" r="5.1" class="r"/>
<circle cx="623.4" cy="136.4" r="5.1" class="r"/>
<circle cx="621.9" cy="136.6" r="5.1" class="r"/>
<circle cx="622.1" cy="140.9" r="5.1" class="r"/>
<circle cx="618.2" cy="158.1" r="5.1" class="r"/>
<circle cx="620.8" cy="160.6" r="5.1" class="r"/>
<circle cx="619.5" cy="164.5" r="5.1" class="r"/>
<circle cx="615.7" cy="168.3" r="5.1" class="r"/>
<circle cx="613.1" cy="172.1" r="5.1" class="r"/>
<circle cx="610.6" cy="176.0" r="5.1" class="r"/>
<circle cx="608.0" cy="181.1" r="5.1" class="r"/>
<circle cx="606.8" cy="184.9" r="5.1" class="r"/>
<circle cx="605.5" cy="190.0" r="5.1" class="r"/>
<circle cx="602.9" cy="196.4" r="5.1" class="r"/>
<circle cx="601.6" cy="200.2" r="5.1" class="r"/>
<circle cx="600.4" cy="205.3" r="5.1" class="r"/>
<circle cx="597.1" cy="207.6" r="5.1" class="r"/>
<circle cx="594.6" cy="215.2" r="5.1" class="r"/>
<circle cx="589.5" cy="222.9" r="5.1" class="r"/>
<circle cx="585.6" cy="229.3" r="5.1" class="r"/>
<circle cx="584.4" cy="234.4" r="5.1" class="r"/>
<circle cx="580.5" cy="240.7" r="5.1" class="r"/>
<circle cx="579.3" cy="245.9" r="5.1" class="r"/>
<circle cx="576.7" cy="252.2" r="5.1" class="r"/>
<circle cx="574.1" cy="257.3" r="5.1" class="r"/>
<circle cx="570.3" cy="265.0" r="5.1" class="r"/>
<circle cx="567.8" cy="272.7" r="5.1" class="r"/>
<circle cx="567.0" cy="276.3" r="5.1" class="r"/>
<circle cx="562.7" cy="279.0" r="5.1" class="r"/>
<circle cx="563.2" cy="280.1" r="5.1" class="r"/>
<circle cx="558.8" cy="282.9" r="5.1" class="r"/>
<circle cx="560.6" cy="285.2" r="5.1" class="r"/>
<circle cx="558.1" cy="289.0" r="5.1" class="r"/>
<circle cx="555.5" cy="298.0" r="5.1" class="r"/>
<circle cx="551.7" cy="306.9" r="5.1" class="r"/>
<circle cx="549.1" cy="313.3" r="5.1" class="r"/>
<circle cx="547.9" cy="318.4" r="5.1" class="r"/>
<circle cx="545.3" cy="324.8" r="5.1" class="r"/>
<circle cx="542.8" cy="333.7" r="5.1" class="r"/>
<circle cx="538.9" cy="338.8" r="5.1" class="r"/>
<circle cx="537.7" cy="343.9" r="5.1" class="r"/>
<circle cx="538.3" cy="346.3" r="5.1" class="r"/>
<circle cx="533.8" cy="351.6" r="5.1" class="r"/>
<circle cx="533.2" cy="352.7" r="5.1" class="r"/>
<circle cx="530.6" cy="356.5" r="5.1" class="r"/>
<circle cx="526.8" cy="368.0" r="5.1" class="r"/>
<circle cx="524.3" cy="375.6" r="5.1" class="r"/>
<circle cx="521.7" cy="380.7" r="5.1" class="r"/>
<circle cx="517.9" cy="389.7" r="5.1" class="r"/>
<circle cx="514.0" cy="399.9" r="5.1" class="r"/>
<circle cx="511.5" cy="406.3" r="5.1" class="r"/>
<circle cx="510.2" cy="415.2" r="5.1" class="r"/>
<circle cx="510.9" cy="416.3" r="5.1" class="r"/>
<circle cx="507.0" cy="421.4" r="5.1" class="r"/>
<circle cx="506.4" cy="421.6" r="5.1" class="r"/>
<circle cx="504.5" cy="426.5" r="5.1" class="r"/>
<circle cx="503.2" cy="431.6" r="5.1" class="r"/>
<circle cx="500.6" cy="436.7" r="5.1" class="r"/>
<circle cx="498.1" cy="440.5" r="5.1" class="r"/>
<circle cx="494.3" cy="446.9" r="5.1" class="r"/>
<circle cx="494.5" cy="448.0" r="5.1" class="r"/>
<circle cx="491.7" cy="450.7" r="5.1" class="r"/>
<circle cx="491.3" cy="452.0" r="5.1" class="r"/>
<circle cx="487.9" cy="464.8" r="5.1" class="r"/>
<circle cx="487.3" cy="465.5" r="5.1" class="r"/>
<circle cx="484.0" cy="468.6" r="5.1" class="r"/>
<circle cx="484.1" cy="468.7" r="5.1" class="r"/>
<circle cx="482.8" cy="472.4" r="5.1" class="r"/>
<circle cx="475.1" cy="487.8" r="5.1" class="r"/>
<circle cx="475.4" cy="487.8" r="5.1" class="r"/>
<circle cx="636.3" cy="110.4" r="5.1" class="r"/>
<circle cx="625.9" cy="123.2" r="5.1" class="r"/>
<circle cx="622.4" cy="127.0" r="5.1" class="r"/>
<circle cx="623.1" cy="130.4" r="5.1" class="r"/>
<circle cx="622.9" cy="132.4" r="5.1" class="r"/>
<circle cx="621.6" cy="134.6" r="5.1" class="r"/>
<circle cx="621.6" cy="144.3" r="5.1" class="r"/>
<circle cx="621.3" cy="147.8" r="5.1" class="r"/>
<circle cx="619.7" cy="151.2" r="5.1" class="r"/>
<circle cx="619.7" cy="154.7" r="5.1" class="r"/>
<circle cx="618.4" cy="166.4" r="5.1" class="r"/>
<circle cx="615.1" cy="170.2" r="5.1" class="r"/>
<circle cx="611.6" cy="174.1" r="5.1" class="r"/>
<circle cx="608.9" cy="178.6" r="5.1" class="r"/>
<circle cx="605.7" cy="187.4" r="5.1" class="r"/>
<circle cx="603.7" cy="193.2" r="5.1" class="r"/>
<circle cx="600.5" cy="202.8" r="5.1" class="r"/>
<circle cx="596.5" cy="210.1" r="5.1" class="r"/>
<circle cx="596.1" cy="212.7" r="5.1" class="r"/>
<circle cx="593.4" cy="217.8" r="5.1" class="r"/>
<circle cx="591.2" cy="220.3" r="5.1" class="r"/>
<circle cx="587.8" cy="226.1" r="5.1" class="r"/>
<circle cx="585.5" cy="231.9" r="5.1" class="r"/>
<circle cx="581.8" cy="237.6" r="5.1" class="r"/>
<circle cx="580.2" cy="243.3" r="5.1" class="r"/>
<circle cx="578.7" cy="249.1" r="5.1" class="r"/>
<circle cx="575.9" cy="254.8" r="5.1" class="r"/>
<circle cx="573.2" cy="259.9" r="5.1" class="r"/>
<circle cx="571.5" cy="262.4" r="5.1" class="r"/>
<circle cx="569.0" cy="267.6" r="5.1" class="r"/>
<circle cx="569.1" cy="270.1" r="5.1" class="r"/>
<circle cx="564.6" cy="277.6" r="5.1" class="r"/>
<circle cx="561.5" cy="281.5" r="5.1" class="r"/>
<circle cx="560.1" cy="287.1" r="5.1" class="r"/>
<circle cx="557.1" cy="292.0" r="5.1" class="r"/>
<circle cx="556.2" cy="295.0" r="5.1" class="r"/>
<circle cx="554.9" cy="301.0" r="5.1" class="r"/>
<circle cx="553.3" cy="303.9" r="5.1" class="r"/>
<circle cx="549.9" cy="310.1" r="5.1" class="r"/>
<circle cx="547.9" cy="315.9" r="5.1" class="r"/>
<circle cx="546.0" cy="321.6" r="5.1" class="r"/>
<circle cx="545.1" cy="327.8" r="5.1" class="r"/>
<circle cx="544.1" cy="330.7" r="5.1" class="r"/>
<circle cx="540.3" cy="336.2" r="5.1" class="r"/>
<circle cx="538.8" cy="341.4" r="5.1" class="r"/>
<circle cx="536.8" cy="349.0" r="5.1" class="r"/>
<circle cx="532.2" cy="354.6" r="5.1" class="r"/>
<circle cx="529.4" cy="359.4" r="5.1" class="r"/>
<circle cx="528.8" cy="362.2" r="5.1" class="r"/>
<circle cx="527.2" cy="365.1" r="5.1" class="r"/>
<circle cx="525.2" cy="370.5" r="5.1" class="r"/>
<circle cx="525.9" cy="373.1" r="5.1" class="r"/>
<circle cx="523.2" cy="378.1" r="5.1" class="r"/>
<circle cx="520.5" cy="383.7" r="5.1" class="r"/>
<circle cx="519.9" cy="386.7" r="5.1" class="r"/>
<circle cx="516.5" cy="393.1" r="5.1" class="r"/>
<circle cx="515.9" cy="396.5" r="5.1" class="r"/>
<circle cx="513.3" cy="403.1" r="5.1" class="r"/>
<circle cx="510.6" cy="409.3" r="5.1" class="r"/>
<circle cx="510.2" cy="412.2" r="5.1" class="r"/>
<circle cx="508.6" cy="418.9" r="5.1" class="r"/>
<circle cx="505.0" cy="424.1" r="5.1" class="r"/>
<circle cx="504.0" cy="429.1" r="5.1" class="r"/>
<circle cx="501.5" cy="434.1" r="5.1" class="r"/>
<circle cx="499.2" cy="438.6" r="5.1" class="r"/>
<circle cx="495.6" cy="443.7" r="5.1" class="r"/>
<path d="M970.15,263.45H973.45V266.75H976.75V270.05H973.45V273.35H970.15V270.05H966.85V266.75H970.15Z" class="b"/>
<path d="M975.05,271.15H978.35V274.45H981.65V277.75H978.35V281.05H975.05V277.75H971.75V274.45H975.05Z" class="b"/>
<path d="M969.25,274.15H972.55V277.45H975.85V280.75H972.55V284.05H969.25V280.75H965.95V277.45H969.25Z" class="b"/>
<path d="M966.35,277.05H969.65V280.35H972.95V283.65H969.65V286.95H966.35V283.65H963.05V280.35H966.35Z" class="b"/>
<path d="M972.15,277.95H975.45V281.25H978.75V284.55H975.45V287.85H972.15V284.55H968.85V281.25H972.15Z" class="b"/>
<path d="M947.45,304.65H950.75V307.95H954.05V311.25H950.75V314.55H947.45V311.25H944.15V307.95H947.45Z" class="b"/>
<path d="M946.45,324.15H949.75V327.45H953.05V330.75H949.75V334.05H946.45V330.75H943.15V327.45H946.45Z" class="b"/>
<path d="M952.25,351.35H955.55V354.65H958.85V357.95H955.55V361.25H952.25V357.95H948.95V354.65H952.25Z" class="b"/>
<path d="M948.35,357.15H951.65V360.45H954.95V363.75H951.65V367.05H948.35V363.75H945.05V360.45H948.35Z" class="b"/>
<path d="M958.15,359.15H961.45V362.45H964.75V365.75H961.45V369.05H958.15V365.75H954.85V362.45H958.15Z" class="b"/>
<path d="M962.05,362.05H965.35V365.35H968.65V368.65H965.35V371.95H962.05V368.65H958.75V365.35H962.05Z" class="b"/>
<path d="M950.35,368.85H953.65V372.15H956.95V375.45H953.65V378.75H950.35V375.45H947.05V372.15H950.35Z" class="b"/>
<path d="M963.95,370.85H967.25V374.15H970.55V377.45H967.25V380.75H963.95V377.45H960.65V374.15H963.95Z" class="b"/>
<path d="M954.25,372.75H957.55V376.05H960.85V379.35H957.55V382.65H954.25V379.35H950.95V376.05H954.25Z" class="b"/>
<path d="M946.45,367.85H949.75V371.15H953.05V374.45H949.75V377.75H946.45V374.45H943.15V371.15H946.45Z" class="b"/>
<path d="M940.65,377.65H943.95V380.95H947.25V384.25H943.95V387.55H940.65V384.25H937.35V380.95H940.65Z" class="b"/>
<path d="M938.65,386.35H941.95V389.65H945.25V392.95H941.95V396.25H938.65V392.95H935.35V389.65H938.65Z" class="b"/>
<path d="M942.55,388.35H945.85V391.65H949.15V394.95H945.85V398.25H942.55V394.95H939.25V391.65H942.55Z" class="b"/>
<path d="M936.75,399.95H940.05V403.25H943.35V406.55H940.05V409.85H936.75V406.55H933.45V403.25H936.75Z" class="b"/>
<path d="M941.55,401.95H944.85V405.25H948.15V408.55H944.85V411.85H941.55V408.55H938.25V405.25H941.55Z" class="b"/>
<path d="M919.25,407.75H922.55V411.05H925.85V414.35H922.55V417.65H919.25V414.35H915.95V411.05H919.25Z" class="b"/>
<path d="M925.05,396.15H928.35V399.45H931.65V402.75H928.35V406.05H925.05V402.75H921.75V399.45H925.05Z" class="b"/>
<path d="M892.95,382.45H896.25V385.75H899.55V389.05H896.25V392.35H892.95V389.05H889.65V385.75H892.95Z" class="b"/>
<path d="M973.65,316.35H976.95V319.65H980.25V322.95H976.95V326.25H973.65V322.95H970.35V319.65H973.65Z" class="b"/>
<path d="M971.75,333.85H975.05V337.15H978.35V340.45H975.05V343.75H971.75V340.45H968.45V337.15H971.75Z" class="b"/>
<path d="M975.65,326.05H978.95V329.35H982.25V332.65H978.95V335.95H975.65V332.65H972.35V329.35H975.65Z" class="b"/>
<path d="M977.55,314.35H980.85V317.65H984.15V320.95H980.85V324.25H977.55V320.95H974.25V317.65H977.55Z" class="b"/>
<path d="M892.15,383.05H895.45V386.35H898.75V389.65H895.45V392.95H892.15V389.65H888.85V386.35H892.15Z" class="b"/>
<path d="M823.15,425.25H826.45V428.55H829.75V431.85H826.45V435.15H823.15V431.85H819.85V428.55H823.15Z" class="b"/>
<path d="M849.35,412.65H852.65V415.95H855.95V419.25H852.65V422.55H849.35V419.25H846.05V415.95H849.35Z" class="b"/>
<path d="M831.85,455.45H835.15V458.75H838.45V462.05H835.15V465.35H831.85V462.05H828.55V458.75H831.85Z" class="b"/>
<path d="M861.05,459.35H864.35V462.65H867.65V465.95H864.35V469.25H861.05V465.95H857.75V462.65H861.05Z" class="b"/>
<path d="M880.45,445.65H883.75V448.95H887.05V452.25H883.75V455.55H880.45V452.25H877.15V448.95H880.45Z" class="b"/>
<path d="M878.55,452.45H881.85V455.75H885.15V459.05H881.85V462.35H878.55V459.05H875.25V455.75H878.55Z" class="b"/>
<path d="M853.25,474.85H856.55V478.15H859.85V481.45H856.55V484.75H853.25V481.45H849.95V478.15H853.25Z" class="b"/>
<path d="M864.95,475.85H868.25V479.15H871.55V482.45H868.25V485.75H864.95V482.45H861.65V479.15H864.95Z" class="b"/>
<path d="M872.75,473.85H876.05V477.15H879.35V480.45H876.05V483.75H872.75V480.45H869.45V477.15H872.75Z" class="b"/>
<path d="M878.55,464.15H881.85V467.45H885.15V470.75H881.85V474.05H878.55V470.75H875.25V467.45H878.55Z" class="b"/>
<path d="M884.35,465.15H887.65V468.45H890.95V471.75H887.65V475.05H884.35V471.75H881.05V468.45H884.35Z" class="b"/>
<path d="M890.25,469.05H893.55V472.35H896.85V475.65H893.55V478.95H890.25V475.65H886.95V472.35H890.25Z" class="b"/>
<path d="M838.65,482.65H841.95V485.95H845.25V489.25H841.95V492.55H838.65V489.25H835.35V485.95H838.65Z" class="b"/>
<path d="M833.85,486.55H837.15V489.85H840.45V493.15H837.15V496.45H833.85V493.15H830.55V489.85H833.85Z" class="b"/>
<path d="M903.85,470.05H907.15V473.35H910.45V476.65H907.15V479.95H903.85V476.65H900.55V473.35H903.85Z" class="b"/>
<path d="M907.75,453.45H911.05V456.75H914.35V460.05H911.05V463.35H907.75V460.05H904.45V456.75H907.75Z" class="b"/>
<path d="M909.65,463.15H912.95V466.45H916.25V469.75H912.95V473.05H909.65V469.75H906.35V466.45H909.65Z" class="b"/>
<path d="M909.65,475.85H912.95V479.15H916.25V482.45H912.95V485.75H909.65V482.45H906.35V479.15H909.65Z" class="b"/>
<path d="M911.65,418.45H914.95V421.75H918.25V425.05H914.95V428.35H911.65V425.05H908.35V421.75H911.65Z" class="b"/>
<path d="M913.55,406.75H916.85V410.05H920.15V413.35H916.85V416.65H913.55V413.35H910.25V410.05H913.55Z" class="b"/>
<path d="M941.05,399.95H944.35V403.25H947.65V406.55H944.35V409.85H941.05V406.55H937.75V403.25H941.05Z" class="b"/>
<path d="M942.05,405.85H945.35V409.15H948.65V412.45H945.35V415.75H942.05V412.45H938.75V409.15H942.05Z" class="b"/>
<path d="M915.75,407.75H919.05V411.05H922.35V414.35H919.05V417.65H915.75V414.35H912.45V411.05H915.75Z" class="b"/>
<path d="M913.85,419.45H917.15V422.75H920.45V426.05H917.15V429.35H913.85V426.05H910.55V422.75H913.85Z" class="b"/>
<path d="M922.55,431.05H925.85V434.35H929.15V437.65H925.85V440.95H922.55V437.65H919.25V434.35H922.55Z" class="b"/>
<path d="M930.35,437.95H933.65V441.25H936.95V444.55H933.65V447.85H930.35V444.55H927.05V441.25H930.35Z" class="b"/>
<path d="M922.55,442.75H925.85V446.05H929.15V449.35H925.85V452.65H922.55V449.35H919.25V446.05H922.55Z" class="b"/>
<path d="M932.25,446.65H935.55V449.95H938.85V453.25H935.55V456.55H932.25V453.25H928.95V449.95H932.25Z" class="b"/>
<path d="M929.35,453.45H932.65V456.75H935.95V460.05H932.65V463.35H929.35V460.05H926.05V456.75H929.35Z" class="b"/>
<path d="M906.95,454.45H910.25V457.75H913.55V461.05H910.25V464.35H906.95V461.05H903.65V457.75H906.95Z" class="b"/>
<path d="M913.85,455.45H917.15V458.75H920.45V462.05H917.15V465.35H913.85V462.05H910.55V458.75H913.85Z" class="b"/>
<path d="M939.05,459.35H942.35V462.65H945.65V465.95H942.35V469.25H939.05V465.95H935.75V462.65H939.05Z" class="b"/>
<path d="M921.55,464.15H924.85V467.45H928.15V470.75H924.85V474.05H921.55V470.75H918.25V467.45H921.55Z" class="b"/>
<path d="M931.35,463.15H934.65V466.45H937.95V469.75H934.65V473.05H931.35V469.75H928.05V466.45H931.35Z" class="b"/>
<path d="M937.15,467.05H940.45V470.35H943.75V473.65H940.45V476.95H937.15V473.65H933.85V470.35H937.15Z" class="b"/>
<path d="M908.95,463.15H912.25V466.45H915.55V469.75H912.25V473.05H908.95V469.75H905.65V466.45H908.95Z" class="b"/>
<path d="M903.15,470.05H906.45V473.35H909.75V476.65H906.45V479.95H903.15V476.65H899.85V473.35H903.15Z" class="b"/>
<path d="M910.85,475.85H914.15V479.15H917.45V482.45H914.15V485.75H910.85V482.45H907.55V479.15H910.85Z" class="b"/>
<path d="M925.45,469.05H928.75V472.35H932.05V475.65H928.75V478.95H925.45V475.65H922.15V472.35H925.45Z" class="b"/>
<path d="M933.25,470.05H936.55V473.35H939.85V476.65H936.55V479.95H933.25V476.65H929.95V473.35H933.25Z" class="b"/>
<path d="M891.95,383.15H895.25V386.45H898.55V389.75H895.25V393.05H891.95V389.75H888.65V386.45H891.95Z" class="b"/>
<path d="M868.95,402.25H872.25V405.55H875.55V408.85H872.25V412.15H868.95V408.85H865.65V405.55H868.95Z" class="b"/>
<path d="M849.85,412.45H853.15V415.75H856.45V419.05H853.15V422.35H849.85V419.05H846.55V415.75H849.85Z" class="b"/>
<path d="M844.75,416.35H848.05V419.65H851.35V422.95H848.05V426.25H844.75V422.95H841.45V419.65H844.75Z" class="b"/>
<path d="M822.05,425.95H825.35V429.25H828.65V432.55H825.35V435.85H822.05V432.55H818.75V429.25H822.05Z" class="b"/>
<path d="M830.95,456.55H834.25V459.85H837.55V463.15H834.25V466.45H830.95V463.15H827.65V459.85H830.95Z" class="b"/>
<path d="M861.55,459.75H864.85V463.05H868.15V466.35H864.85V469.65H861.55V466.35H858.25V463.05H861.55Z" class="b"/>
<path d="M852.65,475.05H855.95V478.35H859.25V481.65H855.95V484.95H852.65V481.65H849.35V478.35H852.65Z" class="b"/>
<path d="M856.45,475.05H859.75V478.35H863.05V481.65H859.75V484.95H856.45V481.65H853.15V478.35H856.45Z" class="b"/>
<path d="M865.45,475.05H868.75V478.35H872.05V481.65H868.75V484.95H865.45V481.65H862.15V478.35H865.45Z" class="b"/>
<path d="M838.65,481.45H841.95V484.75H845.25V488.05H841.95V491.35H838.65V488.05H835.35V484.75H838.65Z" class="b"/>
<path d="M833.45,486.55H836.75V489.85H840.05V493.15H836.75V496.45H833.45V493.15H830.15V489.85H833.45Z" class="b"/>
<path d="M844.95,416.95H848.25V420.25H851.55V423.55H848.25V426.85H844.95V423.55H841.65V420.25H844.95Z" class="b"/>
<path d="M970.05,262.75H973.35V266.05H976.65V269.35H973.35V272.65H970.05V269.35H966.75V266.05H970.05Z" class="b"/>
<path d="M975.25,271.05H978.55V274.35H981.85V277.65H978.55V280.95H975.25V277.65H971.95V274.35H975.25Z" class="b"/>
<path d="M972.65,278.05H975.95V281.35H979.25V284.65H975.95V287.95H972.65V284.65H969.35V281.35H972.65Z" class="b"/>
<path d="M964.95,276.75H968.25V280.05H971.55V283.35H968.25V286.65H964.95V283.35H961.65V280.05H964.95Z" class="b"/>
<path d="M948.35,303.55H951.65V306.85H954.95V310.15H951.65V313.45H948.35V310.15H945.05V306.85H948.35Z" class="b"/>
<path d="M979.05,315.05H982.35V318.35H985.65V321.65H982.35V324.95H979.05V321.65H975.75V318.35H979.05Z" class="b"/>
<path d="M985.45,318.85H988.75V322.15H992.05V325.45H988.75V328.75H985.45V325.45H982.15V322.15H985.45Z" class="b"/>
<path d="M976.45,325.25H979.75V328.55H983.05V331.85H979.75V335.15H976.45V331.85H973.15V328.55H976.45Z" class="b"/>
<path d="M981.55,327.85H984.85V331.15H988.15V334.45H984.85V337.75H981.55V334.45H978.25V331.15H981.55Z" class="b"/>
<path d="M972.65,331.65H975.95V334.95H979.25V338.25H975.95V341.55H972.65V338.25H969.35V334.95H972.65Z" class="b"/>
<path d="M947.15,323.95H950.45V327.25H953.75V330.55H950.45V333.85H947.15V330.55H943.85V327.25H947.15Z" class="b"/>
<path d="M976.85,327.65H980.15V330.95H983.45V334.25H980.15V337.55H976.85V334.25H973.55V330.95H976.85Z" class="b"/>
<path d="M981.95,328.85H985.25V332.15H988.55V335.45H985.25V338.75H981.95V335.45H978.65V332.15H981.95Z" class="b"/>
<path d="M973.05,335.25H976.35V338.55H979.65V341.85H976.35V345.15H973.05V341.85H969.75V338.55H973.05Z" class="b"/>
<path d="M953.85,351.85H957.15V355.15H960.45V358.45H957.15V361.75H953.85V358.45H950.55V355.15H953.85Z" class="b"/>
<path d="M948.75,356.95H952.05V360.25H955.35V363.55H952.05V366.85H948.75V363.55H945.45V360.25H948.75Z" class="b"/>
<path d="M960.25,356.95H963.55V360.25H966.85V363.55H963.55V366.85H960.25V363.55H956.95V360.25H960.25Z" class="b"/>
<path d="M962.85,363.35H966.15V366.65H969.45V369.95H966.15V373.25H962.85V369.95H959.55V366.65H962.85Z" class="b"/>
<path d="M953.85,363.35H957.15V366.65H960.45V369.95H957.15V373.25H953.85V369.95H950.55V366.65H953.85Z" class="b"/>
<path d="M950.05,371.05H953.35V374.35H956.65V377.65H953.35V380.95H950.05V377.65H946.75V374.35H950.05Z" class="b"/>
<path d="M962.85,372.25H966.15V375.55H969.45V378.85H966.15V382.15H962.85V378.85H959.55V375.55H962.85Z" class="b"/>
<path d="M939.85,378.65H943.15V381.95H946.45V385.25H943.15V388.55H939.85V385.25H936.55V381.95H939.85Z" class="b"/>
<path d="M938.55,387.65H941.85V390.95H945.15V394.25H941.85V397.55H938.55V394.25H935.25V390.95H938.55Z" class="b"/>
<path d="M941.15,390.15H944.45V393.45H947.75V396.75H944.45V400.05H941.15V396.75H937.85V393.45H941.15Z" class="b"/>
<path d="M941.15,400.35H944.45V403.65H947.75V406.95H944.45V410.25H941.15V406.95H937.85V403.65H941.15Z" class="b"/>
<path d="M947.45,326.35H950.75V329.65H954.05V332.95H950.75V336.25H947.45V332.95H944.15V329.65H947.45Z" class="b"/>
<path d="M924.45,456.45H927.75V459.75H931.05V463.05H927.75V466.35H924.45V463.05H921.15V459.75H924.45Z" class="b"/>
<path d="M929.25,461.25H932.55V464.55H935.85V467.85H932.55V471.15H929.25V467.85H925.95V464.55H929.25Z" class="b"/>
<path d="M934.05,466.05H937.35V469.35H940.65V472.65H937.35V475.95H934.05V472.65H930.75V469.35H934.05Z" class="b"/>
<path d="M938.85,468.35H942.15V471.65H945.45V474.95H942.15V478.25H938.85V474.95H935.55V471.65H938.85Z" class="b"/>
<path d="M926.85,468.35H930.15V471.65H933.45V474.95H930.15V478.25H926.85V474.95H923.55V471.65H926.85Z" class="b"/>
<path d="M931.65,470.75H934.95V474.05H938.25V477.35H934.95V480.65H931.65V477.35H928.35V474.05H931.65Z" class="b"/>
<path d="M936.45,458.85H939.75V462.15H943.05V465.45H939.75V468.75H936.45V465.45H933.15V462.15H936.45Z" class="b"/>
<path d="M922.05,463.65H925.35V466.95H928.65V470.25H925.35V473.55H922.05V470.25H918.75V466.95H922.05Z" class="b"/>
<path d="M941.25,461.25H944.55V464.55H947.85V467.85H944.55V471.15H941.25V467.85H937.95V464.55H941.25Z" class="b"/>
<path d="M929.25,454.05H932.55V457.35H935.85V460.65H932.55V463.95H929.25V460.65H925.95V457.35H929.25Z" class="b"/>
<path d="M850.25,475.55H853.55V478.85H856.85V482.15H853.55V485.45H850.25V482.15H846.95V478.85H850.25Z" class="b"/>
<path d="M855.05,473.15H858.35V476.45H861.65V479.75H858.35V483.05H855.05V479.75H851.75V476.45H855.05Z" class="b"/>
<path d="M857.45,477.95H860.75V481.25H864.05V484.55H860.75V487.85H857.45V484.55H854.15V481.25H857.45Z" class="b"/>
<path d="M942.45,398.95H945.75V402.25H949.05V405.55H945.75V408.85H942.45V405.55H939.15V402.25H942.45Z" class="b"/>
<path d="M942.45,406.15H945.75V409.45H949.05V412.75H945.75V416.05H942.45V412.75H939.15V409.45H942.45Z" class="b"/>
<path d="M883.75,461.25H887.05V464.55H890.35V467.85H887.05V471.15H883.75V467.85H880.45V464.55H883.75Z" class="b"/>
<path d="M886.15,467.15H889.45V470.45H892.75V473.75H889.45V477.05H886.15V473.75H882.85V470.45H886.15Z" class="b"/>
<rect x="972.0" y="125.0" width="9.6" height="9.6" class="o"/>
<rect x="980.8" y="164.9" width="9.6" height="9.6" class="o"/>
<rect x="940.9" y="165.9" width="9.6" height="9.6" class="o"/>
<rect x="969.1" y="138.6" width="9.6" height="9.6" class="o"/>
<rect x="967.2" y="158.1" width="9.6" height="9.6" class="o"/>
<rect x="939.8" y="170.2" width="9.6" height="9.6" class="o"/>
<rect x="968.0" y="180.9" width="9.6" height="9.6" class="o"/>
<rect x="978.7" y="182.8" width="9.6" height="9.6" class="o"/>
<rect x="973.9" y="194.5" width="9.6" height="9.6" class="o"/>
<rect x="975.8" y="200.3" width="9.6" height="9.6" class="o"/>
<rect x="967.0" y="198.4" width="9.6" height="9.6" class="o"/>
<rect x="969.0" y="210.1" width="9.6" height="9.6" class="o"/>
<rect x="971.9" y="215.9" width="9.6" height="9.6" class="o"/>
<rect x="965.1" y="214.9" width="9.6" height="9.6" class="o"/>
<rect x="933.0" y="227.6" width="9.6" height="9.6" class="o"/>
<rect x="955.4" y="233.4" width="9.6" height="9.6" class="o"/>
<rect x="970.9" y="245.1" width="9.6" height="9.6" class="o"/>
<rect x="961.2" y="248.0" width="9.6" height="9.6" class="o"/>
<rect x="956.3" y="243.1" width="9.6" height="9.6" class="o"/>
<rect x="958.3" y="254.8" width="9.6" height="9.6" class="o"/>
<rect x="958.3" y="261.6" width="9.6" height="9.6" class="o"/>
<rect x="958.3" y="268.4" width="9.6" height="9.6" class="o"/>
<rect x="916.5" y="262.6" width="9.6" height="9.6" class="o"/>
<rect x="947.6" y="266.5" width="9.6" height="9.6" class="o"/>
<rect x="949.5" y="278.1" width="9.6" height="9.6" class="o"/>
<rect x="959.3" y="285.9" width="9.6" height="9.6" class="o"/>
<rect x="982.6" y="276.2" width="9.6" height="9.6" class="o"/>
<rect x="920.4" y="275.2" width="9.6" height="9.6" class="o"/>
<rect x="916.5" y="282.0" width="9.6" height="9.6" class="o"/>
<rect x="908.7" y="288.8" width="9.6" height="9.6" class="o"/>
<rect x="923.3" y="287.9" width="9.6" height="9.6" class="o"/>
<rect x="952.5" y="287.9" width="9.6" height="9.6" class="o"/>
<rect x="892.7" y="307.7" width="9.6" height="9.6" class="o"/>
<rect x="885.9" y="307.7" width="9.6" height="9.6" class="o"/>
<rect x="907.3" y="293.1" width="9.6" height="9.6" class="o"/>
<rect x="911.2" y="296.1" width="9.6" height="9.6" class="o"/>
<rect x="951.1" y="294.1" width="9.6" height="9.6" class="o"/>
<rect x="960.8" y="299.0" width="9.6" height="9.6" class="o"/>
<rect x="951.1" y="312.6" width="9.6" height="9.6" class="o"/>
<rect x="961.8" y="312.6" width="9.6" height="9.6" class="o"/>
<rect x="962.7" y="322.3" width="9.6" height="9.6" class="o"/>
<rect x="940.4" y="316.5" width="9.6" height="9.6" class="o"/>
<rect x="941.3" y="337.9" width="9.6" height="9.6" class="o"/>
<rect x="889.8" y="328.2" width="9.6" height="9.6" class="o"/>
<rect x="894.7" y="353.5" width="9.6" height="9.6" class="o"/>
<rect x="906.3" y="355.4" width="9.6" height="9.6" class="o"/>
<rect x="881.0" y="360.3" width="9.6" height="9.6" class="o"/>
<rect x="928.7" y="353.5" width="9.6" height="9.6" class="o"/>
<rect x="929.7" y="359.3" width="9.6" height="9.6" class="o"/>
<rect x="888.8" y="368.0" width="9.6" height="9.6" class="o"/>
<rect x="877.1" y="369.0" width="9.6" height="9.6" class="o"/>
<rect x="878.1" y="376.8" width="9.6" height="9.6" class="o"/>
<rect x="931.6" y="371.0" width="9.6" height="9.6" class="o"/>
<rect x="907.3" y="376.8" width="9.6" height="9.6" class="o"/>
<rect x="896.6" y="380.7" width="9.6" height="9.6" class="o"/>
<rect x="919.9" y="384.6" width="9.6" height="9.6" class="o"/>
<rect x="877.1" y="384.6" width="9.6" height="9.6" class="o"/>
<rect x="884.9" y="388.5" width="9.6" height="9.6" class="o"/>
<rect x="931.6" y="297.0" width="9.6" height="9.6" class="o"/>
<rect x="922.9" y="388.5" width="9.6" height="9.6" class="o"/>
<rect x="867.6" y="288.8" width="9.6" height="9.6" class="o"/>
<rect x="867.6" y="299.5" width="9.6" height="9.6" class="o"/>
<rect x="842.3" y="308.3" width="9.6" height="9.6" class="o"/>
<rect x="844.3" y="312.2" width="9.6" height="9.6" class="o"/>
<rect x="847.2" y="316.1" width="9.6" height="9.6" class="o"/>
<rect x="883.2" y="308.3" width="9.6" height="9.6" class="o"/>
<rect x="891.9" y="308.3" width="9.6" height="9.6" class="o"/>
<rect x="906.5" y="291.7" width="9.6" height="9.6" class="o"/>
<rect x="909.4" y="295.6" width="9.6" height="9.6" class="o"/>
<rect x="868.6" y="325.8" width="9.6" height="9.6" class="o"/>
<rect x="871.5" y="332.6" width="9.6" height="9.6" class="o"/>
<rect x="847.2" y="337.5" width="9.6" height="9.6" class="o"/>
<rect x="857.9" y="349.1" width="9.6" height="9.6" class="o"/>
<rect x="820.0" y="358.9" width="9.6" height="9.6" class="o"/>
<rect x="881.2" y="360.8" width="9.6" height="9.6" class="o"/>
<rect x="873.5" y="364.7" width="9.6" height="9.6" class="o"/>
<rect x="889.0" y="368.6" width="9.6" height="9.6" class="o"/>
<rect x="874.4" y="370.5" width="9.6" height="9.6" class="o"/>
<rect x="877.3" y="377.3" width="9.6" height="9.6" class="o"/>
<rect x="861.8" y="372.5" width="9.6" height="9.6" class="o"/>
<rect x="906.5" y="356.9" width="9.6" height="9.6" class="o"/>
<rect x="906.5" y="376.4" width="9.6" height="9.6" class="o"/>
<rect x="859.8" y="393.9" width="9.6" height="9.6" class="o"/>
<rect x="896.8" y="382.2" width="9.6" height="9.6" class="o"/>
<rect x="890.0" y="326.8" width="9.6" height="9.6" class="o"/>
<rect x="849.1" y="403.0" width="9.6" height="9.6" class="o"/>
<rect x="840.4" y="411.8" width="9.6" height="9.6" class="o"/>
<rect x="828.7" y="417.6" width="9.6" height="9.6" class="o"/>
<rect x="835.5" y="431.2" width="9.6" height="9.6" class="o"/>
<rect x="828.7" y="436.1" width="9.6" height="9.6" class="o"/>
<rect x="853.0" y="398.2" width="9.6" height="9.6" class="o"/>
<rect x="971.1" y="126.3" width="9.6" height="9.6" class="o"/>
<rect x="969.8" y="132.6" width="9.6" height="9.6" class="o"/>
<rect x="940.8" y="165.6" width="9.6" height="9.6" class="o"/>
<rect x="940.8" y="175.8" width="9.6" height="9.6" class="o"/>
<rect x="956.2" y="175.8" width="9.6" height="9.6" class="o"/>
<rect x="967.6" y="191.2" width="9.6" height="9.6" class="o"/>
<rect x="966.4" y="198.8" width="9.6" height="9.6" class="o"/>
<rect x="966.4" y="209.0" width="9.6" height="9.6" class="o"/>
<rect x="962.5" y="216.7" width="9.6" height="9.6" class="o"/>
<rect x="933.2" y="224.4" width="9.6" height="9.6" class="o"/>
<rect x="967.6" y="216.7" width="9.6" height="9.6" class="o"/>
<rect x="933.6" y="227.9" width="9.6" height="9.6" class="o"/>
<rect x="917.0" y="259.8" width="9.6" height="9.6" class="o"/>
<rect x="917.0" y="272.5" width="9.6" height="9.6" class="o"/>
<rect x="914.5" y="281.5" width="9.6" height="9.6" class="o"/>
<rect x="906.8" y="290.4" width="9.6" height="9.6" class="o"/>
<rect x="909.3" y="295.5" width="9.6" height="9.6" class="o"/>
<rect x="946.4" y="268.7" width="9.6" height="9.6" class="o"/>
<rect x="947.6" y="277.6" width="9.6" height="9.6" class="o"/>
<rect x="947.6" y="289.1" width="9.6" height="9.6" class="o"/>
<rect x="920.8" y="275.1" width="9.6" height="9.6" class="o"/>
<rect x="883.6" y="308.1" width="9.6" height="9.6" class="o"/>
<rect x="892.5" y="308.1" width="9.6" height="9.6" class="o"/>
<rect x="870.2" y="292.8" width="9.6" height="9.6" class="o"/>
<rect x="870.2" y="299.1" width="9.6" height="9.6" class="o"/>
<rect x="872.8" y="325.9" width="9.6" height="9.6" class="o"/>
<rect x="872.8" y="332.3" width="9.6" height="9.6" class="o"/>
<rect x="889.3" y="328.5" width="9.6" height="9.6" class="o"/>
<rect x="897.0" y="327.2" width="9.6" height="9.6" class="o"/>
<rect x="904.7" y="293.4" width="9.6" height="9.6" class="o"/>
<rect x="909.8" y="295.3" width="9.6" height="9.6" class="o"/>
<rect x="905.9" y="356.6" width="9.6" height="9.6" class="o"/>
<rect x="881.7" y="360.4" width="9.6" height="9.6" class="o"/>
<rect x="889.3" y="366.8" width="9.6" height="9.6" class="o"/>
<rect x="875.3" y="366.8" width="9.6" height="9.6" class="o"/>
<rect x="895.7" y="351.5" width="9.6" height="9.6" class="o"/>
<rect x="914.9" y="366.8" width="9.6" height="9.6" class="o"/>
<rect x="862.0" y="373.1" width="9.6" height="9.6" class="o"/>
<rect x="862.0" y="393.5" width="9.6" height="9.6" class="o"/>
<rect x="854.3" y="396.1" width="9.6" height="9.6" class="o"/>
<rect x="848.0" y="402.4" width="9.6" height="9.6" class="o"/>
<rect x="839.0" y="411.4" width="9.6" height="9.6" class="o"/>
<rect x="837.8" y="430.5" width="9.6" height="9.6" class="o"/>
<rect x="881.2" y="360.3" width="9.6" height="9.6" class="o"/>
<rect x="873.5" y="362.9" width="9.6" height="9.6" class="o"/>
<rect x="874.8" y="368.0" width="9.6" height="9.6" class="o"/>
<rect x="876.1" y="373.1" width="9.6" height="9.6" class="o"/>
<rect x="878.6" y="378.2" width="9.6" height="9.6" class="o"/>
<rect x="888.8" y="368.0" width="9.6" height="9.6" class="o"/>
<rect x="877.3" y="389.7" width="9.6" height="9.6" class="o"/>
<rect x="886.3" y="388.4" width="9.6" height="9.6" class="o"/>
<rect x="893.9" y="382.0" width="9.6" height="9.6" class="o"/>
<rect x="881.2" y="408.8" width="9.6" height="9.6" class="o"/>
<rect x="827.8" y="417.1" width="9.6" height="9.6" class="o"/>
<rect x="835.5" y="431.2" width="9.6" height="9.6" class="o"/>
<rect x="829.1" y="436.9" width="9.6" height="9.6" class="o"/>
<rect x="840.6" y="415.8" width="9.6" height="9.6" class="o"/>
<rect x="958.6" y="259.0" width="9.6" height="9.6" class="o"/>
<rect x="958.6" y="266.7" width="9.6" height="9.6" class="o"/>
<rect x="950.3" y="266.7" width="9.6" height="9.6" class="o"/>
<rect x="949.7" y="279.5" width="9.6" height="9.6" class="o"/>
<rect x="959.9" y="285.8" width="9.6" height="9.6" class="o"/>
<rect x="951.6" y="289.7" width="9.6" height="9.6" class="o"/>
<rect x="961.2" y="297.3" width="9.6" height="9.6" class="o"/>
<rect x="961.8" y="305.0" width="9.6" height="9.6" class="o"/>
<rect x="951.6" y="299.9" width="9.6" height="9.6" class="o"/>
<rect x="951.6" y="312.6" width="9.6" height="9.6" class="o"/>
<rect x="961.8" y="313.9" width="9.6" height="9.6" class="o"/>
<rect x="961.8" y="321.6" width="9.6" height="9.6" class="o"/>
<rect x="983.5" y="276.9" width="9.6" height="9.6" class="o"/>
<rect x="939.2" y="339.2" width="9.6" height="9.6" class="o"/>
<rect x="930.3" y="358.4" width="9.6" height="9.6" class="o"/>
<rect x="931.6" y="369.9" width="9.6" height="9.6" class="o"/>
<rect x="926.5" y="387.8" width="9.6" height="9.6" class="o"/>
<rect x="960.9" y="325.2" width="9.6" height="9.6" class="o"/>
<path d="M987.5,68.7L992.5,78.2L982.5,78.2Z" class="g"/>
<path d="M975.9,92.0L980.9,101.5L970.9,101.5Z" class="g"/>
<path d="M970.0,115.4L975.0,124.9L965.0,124.9Z" class="g"/>
<path d="M962.3,130.9L967.3,140.4L957.3,140.4Z" class="g"/>
<path d="M956.4,151.4L961.4,160.9L951.4,160.9Z" class="g"/>
<path d="M973.9,159.1L978.9,168.6L968.9,168.6Z" class="g"/>
<path d="M981.7,139.7L986.7,149.2L976.7,149.2Z" class="g"/>
<path d="M967.0,176.1L972.0,185.6L962.0,185.6Z" class="g"/>
<path d="M955.3,197.5L960.3,207.0L950.3,207.0Z" class="g"/>
<path d="M953.4,210.1L958.4,219.6L948.4,219.6Z" class="g"/>
<path d="M963.1,218.9L968.1,228.4L958.1,228.4Z" class="g"/>
<path d="M946.6,226.7L951.6,236.2L941.6,236.2Z" class="g"/>
<path d="M932.9,244.2L937.9,253.7L927.9,253.7Z" class="g"/>
<path d="M945.6,250.0L950.6,259.5L940.6,259.5Z" class="g"/>
<path d="M927.1,259.7L932.1,269.2L922.1,269.2Z" class="g"/>
<path d="M947.5,263.6L952.5,273.1L942.5,273.1Z" class="g"/>
<path d="M933.9,269.5L938.9,279.0L928.9,279.0Z" class="g"/>
<path d="M886.8,310.7L891.8,320.2L881.8,320.2Z" class="g"/>
<path d="M927.7,330.2L932.7,339.7L922.7,339.7Z" class="g"/>
<path d="M930.6,338.9L935.6,348.4L925.6,348.4Z" class="g"/>
<path d="M928.6,345.7L933.6,355.2L923.6,355.2Z" class="g"/>
<path d="M891.7,347.7L896.7,357.2L886.7,357.2Z" class="g"/>
<path d="M897.5,341.9L902.5,351.4L892.5,351.4Z" class="g"/>
<path d="M928.6,362.3L933.6,371.8L923.6,371.8Z" class="g"/>
<path d="M920.9,383.7L925.9,393.2L915.9,393.2Z" class="g"/>
<path d="M918.9,401.2L923.9,410.7L913.9,410.7Z" class="g"/>
<path d="M898.5,407.0L903.5,416.5L893.5,416.5Z" class="g"/>
<path d="M899.5,396.3L904.5,405.8L894.5,405.8Z" class="g"/>
<path d="M907.2,407.0L912.2,416.5L902.2,416.5Z" class="g"/>
<path d="M887.0,311.3L892.0,320.8L882.0,320.8Z" class="g"/>
<path d="M878.3,356.0L883.3,365.5L873.3,365.5Z" class="g"/>
<path d="M891.9,349.2L896.9,358.7L886.9,358.7Z" class="g"/>
<path d="M901.6,341.4L906.6,350.9L896.6,350.9Z" class="g"/>
<path d="M856.9,364.8L861.9,374.3L851.9,374.3Z" class="g"/>
<path d="M853.9,389.1L858.9,398.6L848.9,398.6Z" class="g"/>
<path d="M849.1,432.3L854.1,441.8L844.1,441.8Z" class="g"/>
<path d="M853.0,438.1L858.0,447.6L848.0,447.6Z" class="g"/>
<path d="M873.4,424.5L878.4,434.0L868.4,434.0Z" class="g"/>
<path d="M897.7,409.9L902.7,419.4L892.7,419.4Z" class="g"/>
<path d="M905.5,413.8L910.5,423.3L900.5,423.3Z" class="g"/>
<path d="M845.2,454.7L850.2,464.2L840.2,464.2Z" class="g"/>
<path d="M848.1,456.6L853.1,466.1L843.1,466.1Z" class="g"/>
<path d="M836.4,464.4L841.4,473.9L831.4,473.9Z" class="g"/>
<path d="M832.5,480.0L837.5,489.5L827.5,489.5Z" class="g"/>
<path d="M824.8,511.1L829.8,520.6L819.8,520.6Z" class="g"/>
<path d="M893.8,409.9L898.8,419.4L888.8,419.4Z" class="g"/>
<path d="M906.7,413.8L911.7,423.3L901.7,423.3Z" class="g"/>
<path d="M922.3,415.8L927.3,425.3L917.3,425.3Z" class="g"/>
<path d="M919.3,403.1L924.3,412.6L914.3,412.6Z" class="g"/>
<path d="M897.9,408.9L902.9,418.4L892.9,418.4Z" class="g"/>
<path d="M973.3,90.9L978.3,100.4L968.3,100.4Z" class="g"/>
<path d="M977.1,92.2L982.1,101.7L972.1,101.7Z" class="g"/>
<path d="M970.7,116.4L975.7,125.9L965.7,125.9Z" class="g"/>
<path d="M973.3,122.8L978.3,132.3L968.3,132.3Z" class="g"/>
<path d="M960.5,131.7L965.5,141.2L955.5,141.2Z" class="g"/>
<path d="M955.4,150.9L960.4,160.4L950.4,160.4Z" class="g"/>
<path d="M986.1,139.4L991.1,148.9L981.1,148.9Z" class="g"/>
<path d="M981.0,102.4L986.0,111.9L976.0,111.9Z" class="g"/>
<path d="M955.9,150.7L960.9,160.2L950.9,160.2Z" class="g"/>
<path d="M967.3,176.2L972.3,185.7L962.3,185.7Z" class="g"/>
<path d="M955.9,196.6L960.9,206.1L950.9,206.1Z" class="g"/>
<path d="M954.6,208.1L959.6,217.6L949.6,217.6Z" class="g"/>
<path d="M972.4,159.6L977.4,169.1L967.4,169.1Z" class="g"/>
<path d="M963.5,220.9L968.5,230.4L958.5,230.4Z" class="g"/>
<path d="M933.3,244.8L938.3,254.3L928.3,254.3Z" class="g"/>
<path d="M946.1,227.0L951.1,236.5L941.1,236.5Z" class="g"/>
<path d="M926.9,258.9L931.9,268.4L921.9,268.4Z" class="g"/>
<path d="M946.1,255.0L951.1,264.5L941.1,264.5Z" class="g"/>
<path d="M947.3,264.0L952.3,273.5L942.3,273.5Z" class="g"/>
<path d="M930.7,267.8L935.7,277.3L925.7,277.3Z" class="g"/>
<path d="M937.1,290.8L942.1,300.3L932.1,300.3Z" class="g"/>
<path d="M918.0,295.9L923.0,305.4L913.0,305.4Z" class="g"/>
<path d="M887.1,310.4L892.1,319.9L882.1,319.9Z" class="g"/>
<path d="M900.5,341.6L905.5,351.1L895.5,351.1Z" class="g"/>
<path d="M891.6,349.3L896.6,358.8L886.6,358.8Z" class="g"/>
<path d="M878.8,355.7L883.8,365.2L873.8,365.2Z" class="g"/>
<path d="M927.3,331.4L932.3,340.9L922.3,340.9Z" class="g"/>
<path d="M928.6,339.1L933.6,348.6L923.6,348.6Z" class="g"/>
<path d="M928.6,344.2L933.6,353.7L923.6,353.7Z" class="g"/>
<path d="M924.8,322.5L929.8,332.0L919.8,332.0Z" class="g"/>
<path d="M857.2,364.5L862.2,374.0L852.2,374.0Z" class="g"/>
<path d="M854.0,390.0L859.0,399.5L849.0,399.5Z" class="g"/>
<path d="M873.2,422.0L878.2,431.5L868.2,431.5Z" class="g"/>
<path d="M878.3,356.9L883.3,366.4L873.3,366.4Z" class="g"/>
<path d="M896.2,409.2L901.2,418.7L891.2,418.7Z" class="g"/>
<path d="M848.9,430.9L853.9,440.4L843.9,440.4Z" class="g"/>
<path d="M882.1,415.6L887.1,425.1L877.1,425.1Z" class="g"/>
<path d="M849.2,432.2L854.2,441.7L844.2,441.7Z" class="g"/>
<path d="M853.0,437.3L858.0,446.8L848.0,446.8Z" class="g"/>
<path d="M845.4,455.2L850.4,464.7L840.4,464.7Z" class="g"/>
<path d="M847.9,457.7L852.9,467.2L842.9,467.2Z" class="g"/>
<path d="M836.4,465.4L841.4,474.9L831.4,474.9Z" class="g"/>
<path d="M832.6,480.7L837.6,490.2L827.6,490.2Z" class="g"/>
<path d="M872.2,422.0L877.2,431.5L867.2,431.5Z" class="g"/>
<path d="M947.5,263.2L952.5,272.7L942.5,272.7Z" class="g"/>
<path d="M938.6,291.3L943.6,300.8L933.6,300.8Z" class="g"/>
<path d="M931.3,339.6L936.3,349.1L926.3,349.1Z" class="g"/>
<path d="M931.3,381.7L936.3,391.2L926.3,391.2Z" class="g"/>
<circle cx="980.7" cy="93.8" r="5.1" class="r"/>
<circle cx="987.5" cy="95.8" r="5.1" class="r"/>
<circle cx="969.1" cy="100.6" r="5.1" class="r"/>
<circle cx="974.9" cy="104.5" r="5.1" class="r"/>
<circle cx="978.8" cy="103.6" r="5.1" class="r"/>
<circle cx="972.0" cy="108.4" r="5.1" class="r"/>
<circle cx="971.0" cy="114.3" r="5.1" class="r"/>
<circle cx="976.8" cy="124.0" r="5.1" class="r"/>
<circle cx="966.1" cy="131.8" r="5.1" class="r"/>
<circle cx="967.1" cy="140.5" r="5.1" class="r"/>
<circle cx="984.6" cy="140.5" r="5.1" class="r"/>
<circle cx="958.4" cy="149.3" r="5.1" class="r"/>
<circle cx="962.3" cy="154.1" r="5.1" class="r"/>
<circle cx="973.9" cy="147.3" r="5.1" class="r"/>
<circle cx="976.8" cy="151.2" r="5.1" class="r"/>
<circle cx="973.0" cy="157.1" r="5.1" class="r"/>
<circle cx="954.5" cy="163.9" r="5.1" class="r"/>
<circle cx="960.3" cy="168.7" r="5.1" class="r"/>
<circle cx="956.4" cy="166.8" r="5.1" class="r"/>
<circle cx="968.1" cy="153.2" r="5.1" class="r"/>
<circle cx="955.3" cy="175.9" r="5.1" class="r"/>
<circle cx="947.5" cy="179.8" r="5.1" class="r"/>
<circle cx="955.3" cy="183.7" r="5.1" class="r"/>
<circle cx="949.5" cy="187.6" r="5.1" class="r"/>
<circle cx="967.0" cy="190.5" r="5.1" class="r"/>
<circle cx="972.8" cy="177.9" r="5.1" class="r"/>
<circle cx="963.1" cy="196.4" r="5.1" class="r"/>
<circle cx="946.6" cy="195.4" r="5.1" class="r"/>
<circle cx="949.5" cy="203.2" r="5.1" class="r"/>
<circle cx="963.1" cy="203.2" r="5.1" class="r"/>
<circle cx="962.1" cy="209.0" r="5.1" class="r"/>
<circle cx="945.6" cy="210.0" r="5.1" class="r"/>
<circle cx="945.6" cy="217.8" r="5.1" class="r"/>
<circle cx="957.3" cy="220.7" r="5.1" class="r"/>
<circle cx="961.1" cy="218.7" r="5.1" class="r"/>
<circle cx="953.4" cy="228.5" r="5.1" class="r"/>
<circle cx="953.4" cy="237.2" r="5.1" class="r"/>
<circle cx="951.4" cy="240.1" r="5.1" class="r"/>
<circle cx="934.9" cy="240.1" r="5.1" class="r"/>
<circle cx="941.7" cy="247.9" r="5.1" class="r"/>
<circle cx="952.4" cy="250.8" r="5.1" class="r"/>
<circle cx="947.5" cy="255.7" r="5.1" class="r"/>
<circle cx="935.9" cy="260.6" r="5.1" class="r"/>
<circle cx="938.8" cy="269.3" r="5.1" class="r"/>
<circle cx="922.2" cy="271.3" r="5.1" class="r"/>
<circle cx="932.9" cy="283.9" r="5.1" class="r"/>
<circle cx="940.7" cy="285.9" r="5.1" class="r"/>
<circle cx="943.6" cy="284.9" r="5.1" class="r"/>
<circle cx="932.0" cy="291.7" r="5.1" class="r"/>
<circle cx="944.6" cy="292.7" r="5.1" class="r"/>
<circle cx="926.7" cy="297.9" r="5.1" class="r"/>
<circle cx="921.8" cy="303.8" r="5.1" class="r"/>
<circle cx="930.6" cy="307.7" r="5.1" class="r"/>
<circle cx="938.4" cy="301.8" r="5.1" class="r"/>
<circle cx="944.2" cy="301.8" r="5.1" class="r"/>
<circle cx="926.7" cy="311.6" r="5.1" class="r"/>
<circle cx="918.9" cy="315.5" r="5.1" class="r"/>
<circle cx="932.5" cy="315.5" r="5.1" class="r"/>
<circle cx="939.3" cy="317.4" r="5.1" class="r"/>
<circle cx="917.9" cy="322.3" r="5.1" class="r"/>
<circle cx="923.8" cy="324.2" r="5.1" class="r"/>
<circle cx="932.5" cy="325.2" r="5.1" class="r"/>
<circle cx="938.4" cy="323.2" r="5.1" class="r"/>
<circle cx="897.5" cy="333.0" r="5.1" class="r"/>
<circle cx="911.1" cy="333.9" r="5.1" class="r"/>
<circle cx="918.9" cy="335.9" r="5.1" class="r"/>
<circle cx="938.4" cy="333.9" r="5.1" class="r"/>
<circle cx="936.4" cy="340.7" r="5.1" class="r"/>
<circle cx="928.6" cy="336.9" r="5.1" class="r"/>
<circle cx="891.7" cy="342.7" r="5.1" class="r"/>
<circle cx="885.8" cy="343.7" r="5.1" class="r"/>
<circle cx="901.4" cy="339.8" r="5.1" class="r"/>
<circle cx="906.3" cy="344.6" r="5.1" class="r"/>
<circle cx="916.0" cy="343.7" r="5.1" class="r"/>
<circle cx="893.6" cy="350.5" r="5.1" class="r"/>
<circle cx="881.9" cy="354.4" r="5.1" class="r"/>
<circle cx="919.9" cy="351.4" r="5.1" class="r"/>
<circle cx="936.4" cy="352.4" r="5.1" class="r"/>
<circle cx="921.8" cy="360.2" r="5.1" class="r"/>
<circle cx="929.6" cy="358.3" r="5.1" class="r"/>
<circle cx="897.5" cy="364.1" r="5.1" class="r"/>
<circle cx="927.7" cy="371.9" r="5.1" class="r"/>
<circle cx="927.7" cy="381.6" r="5.1" class="r"/>
<circle cx="920.9" cy="376.7" r="5.1" class="r"/>
<circle cx="902.4" cy="394.2" r="5.1" class="r"/>
<circle cx="909.2" cy="393.3" r="5.1" class="r"/>
<circle cx="915.0" cy="393.3" r="5.1" class="r"/>
<circle cx="919.9" cy="398.1" r="5.1" class="r"/>
<circle cx="887.8" cy="397.2" r="5.1" class="r"/>
<circle cx="881.9" cy="401.1" r="5.1" class="r"/>
<circle cx="891.7" cy="404.9" r="5.1" class="r"/>
<circle cx="885.8" cy="407.9" r="5.1" class="r"/>
<circle cx="913.1" cy="401.1" r="5.1" class="r"/>
<circle cx="898.7" cy="332.5" r="5.1" class="r"/>
<circle cx="899.7" cy="340.3" r="5.1" class="r"/>
<circle cx="891.9" cy="342.3" r="5.1" class="r"/>
<circle cx="886.0" cy="344.2" r="5.1" class="r"/>
<circle cx="894.8" cy="349.1" r="5.1" class="r"/>
<circle cx="906.5" cy="344.2" r="5.1" class="r"/>
<circle cx="911.3" cy="333.5" r="5.1" class="r"/>
<circle cx="874.4" cy="353.9" r="5.1" class="r"/>
<circle cx="882.1" cy="354.9" r="5.1" class="r"/>
<circle cx="872.4" cy="357.8" r="5.1" class="r"/>
<circle cx="897.7" cy="363.7" r="5.1" class="r"/>
<circle cx="856.9" cy="377.3" r="5.1" class="r"/>
<circle cx="851.0" cy="385.1" r="5.1" class="r"/>
<circle cx="859.8" cy="386.0" r="5.1" class="r"/>
<circle cx="847.1" cy="391.9" r="5.1" class="r"/>
<circle cx="843.2" cy="398.7" r="5.1" class="r"/>
<circle cx="884.1" cy="397.7" r="5.1" class="r"/>
<circle cx="893.8" cy="397.7" r="5.1" class="r"/>
<circle cx="905.5" cy="392.8" r="5.1" class="r"/>
<circle cx="913.3" cy="392.8" r="5.1" class="r"/>
<circle cx="836.4" cy="407.8" r="5.1" class="r"/>
<circle cx="844.2" cy="403.9" r="5.1" class="r"/>
<circle cx="833.5" cy="427.3" r="5.1" class="r"/>
<circle cx="853.9" cy="428.3" r="5.1" class="r"/>
<circle cx="862.7" cy="434.1" r="5.1" class="r"/>
<circle cx="867.6" cy="434.1" r="5.1" class="r"/>
<circle cx="859.8" cy="442.9" r="5.1" class="r"/>
<circle cx="866.6" cy="424.4" r="5.1" class="r"/>
<circle cx="869.5" cy="413.7" r="5.1" class="r"/>
<circle cx="878.3" cy="421.5" r="5.1" class="r"/>
<circle cx="880.2" cy="412.7" r="5.1" class="r"/>
<circle cx="886.0" cy="405.9" r="5.1" class="r"/>
<circle cx="891.9" cy="406.9" r="5.1" class="r"/>
<circle cx="823.8" cy="453.6" r="5.1" class="r"/>
<circle cx="840.3" cy="464.3" r="5.1" class="r"/>
<circle cx="844.2" cy="476.9" r="5.1" class="r"/>
<circle cx="878.3" cy="403.9" r="5.1" class="r"/>
<circle cx="981.0" cy="92.8" r="5.1" class="r"/>
<circle cx="987.3" cy="95.3" r="5.1" class="r"/>
<circle cx="968.8" cy="100.4" r="5.1" class="r"/>
<circle cx="973.3" cy="104.9" r="5.1" class="r"/>
<circle cx="978.4" cy="103.6" r="5.1" class="r"/>
<circle cx="972.0" cy="109.4" r="5.1" class="r"/>
<circle cx="970.7" cy="114.5" r="5.1" class="r"/>
<circle cx="977.1" cy="124.7" r="5.1" class="r"/>
<circle cx="966.3" cy="133.6" r="5.1" class="r"/>
<circle cx="965.6" cy="141.3" r="5.1" class="r"/>
<circle cx="973.3" cy="143.8" r="5.1" class="r"/>
<circle cx="984.8" cy="140.0" r="5.1" class="r"/>
<circle cx="960.5" cy="148.9" r="5.1" class="r"/>
<circle cx="964.4" cy="154.0" r="5.1" class="r"/>
<circle cx="973.3" cy="151.5" r="5.1" class="r"/>
<circle cx="977.1" cy="150.2" r="5.1" class="r"/>
<circle cx="969.5" cy="156.6" r="5.1" class="r"/>
<circle cx="963.5" cy="155.1" r="5.1" class="r"/>
<circle cx="971.2" cy="158.9" r="5.1" class="r"/>
<circle cx="955.9" cy="164.0" r="5.1" class="r"/>
<circle cx="960.3" cy="168.5" r="5.1" class="r"/>
<circle cx="953.3" cy="171.7" r="5.1" class="r"/>
<circle cx="950.7" cy="178.1" r="5.1" class="r"/>
<circle cx="955.9" cy="183.2" r="5.1" class="r"/>
<circle cx="948.2" cy="187.0" r="5.1" class="r"/>
<circle cx="945.6" cy="194.7" r="5.1" class="r"/>
<circle cx="949.5" cy="203.6" r="5.1" class="r"/>
<circle cx="945.6" cy="210.0" r="5.1" class="r"/>
<circle cx="945.6" cy="218.9" r="5.1" class="r"/>
<circle cx="959.7" cy="218.9" r="5.1" class="r"/>
<circle cx="957.1" cy="221.5" r="5.1" class="r"/>
<circle cx="952.0" cy="226.6" r="5.1" class="r"/>
<circle cx="966.1" cy="189.6" r="5.1" class="r"/>
<circle cx="963.5" cy="197.2" r="5.1" class="r"/>
<circle cx="963.5" cy="203.6" r="5.1" class="r"/>
<circle cx="962.2" cy="208.7" r="5.1" class="r"/>
<circle cx="972.4" cy="178.1" r="5.1" class="r"/>
<circle cx="968.6" cy="161.5" r="5.1" class="r"/>
<circle cx="935.9" cy="240.3" r="5.1" class="r"/>
<circle cx="942.2" cy="248.0" r="5.1" class="r"/>
<circle cx="951.2" cy="227.6" r="5.1" class="r"/>
<circle cx="951.2" cy="239.0" r="5.1" class="r"/>
<circle cx="952.4" cy="249.3" r="5.1" class="r"/>
<circle cx="948.6" cy="256.9" r="5.1" class="r"/>
<circle cx="935.9" cy="259.5" r="5.1" class="r"/>
<circle cx="938.4" cy="268.4" r="5.1" class="r"/>
<circle cx="922.4" cy="271.0" r="5.1" class="r"/>
<circle cx="933.3" cy="283.7" r="5.1" class="r"/>
<circle cx="943.5" cy="285.0" r="5.1" class="r"/>
<circle cx="938.4" cy="286.3" r="5.1" class="r"/>
<circle cx="932.0" cy="292.7" r="5.1" class="r"/>
<circle cx="943.5" cy="293.9" r="5.1" class="r"/>
<circle cx="925.6" cy="301.6" r="5.1" class="r"/>
<circle cx="943.5" cy="301.6" r="5.1" class="r"/>
<circle cx="949.9" cy="301.6" r="5.1" class="r"/>
<circle cx="926.1" cy="303.9" r="5.1" class="r"/>
<circle cx="927.3" cy="311.6" r="5.1" class="r"/>
<circle cx="931.2" cy="315.4" r="5.1" class="r"/>
<circle cx="919.7" cy="315.4" r="5.1" class="r"/>
<circle cx="917.1" cy="323.1" r="5.1" class="r"/>
<circle cx="923.5" cy="323.1" r="5.1" class="r"/>
<circle cx="931.2" cy="321.8" r="5.1" class="r"/>
<circle cx="931.2" cy="328.2" r="5.1" class="r"/>
<circle cx="912.0" cy="334.6" r="5.1" class="r"/>
<circle cx="919.7" cy="335.9" r="5.1" class="r"/>
<circle cx="917.1" cy="343.5" r="5.1" class="r"/>
<circle cx="919.7" cy="351.2" r="5.1" class="r"/>
<circle cx="926.1" cy="356.3" r="5.1" class="r"/>
<circle cx="921.0" cy="358.8" r="5.1" class="r"/>
<circle cx="928.6" cy="370.3" r="5.1" class="r"/>
<circle cx="898.0" cy="333.3" r="5.1" class="r"/>
<circle cx="900.5" cy="339.7" r="5.1" class="r"/>
<circle cx="890.3" cy="342.2" r="5.1" class="r"/>
<circle cx="885.2" cy="343.5" r="5.1" class="r"/>
<circle cx="895.4" cy="349.9" r="5.1" class="r"/>
<circle cx="905.6" cy="344.8" r="5.1" class="r"/>
<circle cx="881.4" cy="351.2" r="5.1" class="r"/>
<circle cx="882.7" cy="355.0" r="5.1" class="r"/>
<circle cx="898.0" cy="363.9" r="5.1" class="r"/>
<circle cx="876.3" cy="355.0" r="5.1" class="r"/>
<circle cx="856.6" cy="376.6" r="5.1" class="r"/>
<circle cx="851.5" cy="385.5" r="5.1" class="r"/>
<circle cx="859.1" cy="386.8" r="5.1" class="r"/>
<circle cx="847.7" cy="391.9" r="5.1" class="r"/>
<circle cx="846.4" cy="397.0" r="5.1" class="r"/>
<circle cx="843.8" cy="402.1" r="5.1" class="r"/>
<circle cx="854.0" cy="427.7" r="5.1" class="r"/>
<circle cx="861.7" cy="434.0" r="5.1" class="r"/>
<circle cx="866.8" cy="434.0" r="5.1" class="r"/>
<circle cx="865.5" cy="423.8" r="5.1" class="r"/>
<circle cx="869.4" cy="412.3" r="5.1" class="r"/>
<circle cx="878.3" cy="403.4" r="5.1" class="r"/>
<circle cx="883.4" cy="398.3" r="5.1" class="r"/>
<circle cx="887.2" cy="399.6" r="5.1" class="r"/>
<circle cx="893.6" cy="398.3" r="5.1" class="r"/>
<circle cx="891.1" cy="406.0" r="5.1" class="r"/>
<circle cx="883.4" cy="407.2" r="5.1" class="r"/>
<circle cx="879.6" cy="412.3" r="5.1" class="r"/>
<circle cx="878.3" cy="421.3" r="5.1" class="r"/>
<circle cx="873.2" cy="361.3" r="5.1" class="r"/>
<circle cx="896.2" cy="363.8" r="5.1" class="r"/>
<circle cx="833.9" cy="428.9" r="5.1" class="r"/>
<circle cx="853.7" cy="428.3" r="5.1" class="r"/>
<circle cx="860.7" cy="434.7" r="5.1" class="r"/>
<circle cx="867.1" cy="434.0" r="5.1" class="r"/>
<circle cx="865.8" cy="424.5" r="5.1" class="r"/>
<circle cx="860.0" cy="443.0" r="5.1" class="r"/>
<circle cx="824.3" cy="453.2" r="5.1" class="r"/>
<circle cx="840.3" cy="464.0" r="5.1" class="r"/>
<circle cx="843.4" cy="478.1" r="5.1" class="r"/>
<circle cx="938.6" cy="267.7" r="5.1" class="r"/>
<circle cx="943.7" cy="285.5" r="5.1" class="r"/>
<circle cx="943.7" cy="294.5" r="5.1" class="r"/>
<circle cx="942.4" cy="302.1" r="5.1" class="r"/>
<circle cx="939.8" cy="311.1" r="5.1" class="r"/>
<circle cx="938.6" cy="318.7" r="5.1" class="r"/>
<circle cx="938.6" cy="331.5" r="5.1" class="r"/>
<circle cx="937.7" cy="333.8" r="5.1" class="r"/>
<circle cx="935.1" cy="341.5" r="5.1" class="r"/>
<circle cx="935.1" cy="353.0" r="5.1" class="r"/>
<circle cx="931.3" cy="359.4" r="5.1" class="r"/>
<circle cx="931.3" cy="372.1" r="5.1" class="r"/>
<circle cx="931.3" cy="381.1" r="5.1" class="r"/>
<path d="M1334.45,105.55H1337.75V108.85H1341.05V112.15H1337.75V115.45H1334.45V112.15H1331.15V108.85H1334.45Z" class="b"/>
<path d="M1326.75,119.65H1330.05V122.95H1333.35V126.25H1330.05V129.55H1326.75V126.25H1323.45V122.95H1326.75Z" class="b"/>
<path d="M1308.15,163.45H1311.45V166.75H1314.75V170.05H1311.45V173.35H1308.15V170.05H1304.85V166.75H1308.15Z" class="b"/>
<path d="M1304.35,168.55H1307.65V171.85H1310.95V175.15H1307.65V178.45H1304.35V175.15H1301.05V171.85H1304.35Z" class="b"/>
<path d="M1295.35,182.65H1298.65V185.95H1301.95V189.25H1298.65V192.55H1295.35V189.25H1292.05V185.95H1295.35Z" class="b"/>
<path d="M1290.25,196.65H1293.55V199.95H1296.85V203.25H1293.55V206.55H1290.25V203.25H1286.95V199.95H1290.25Z" class="b"/>
<path d="M1289.55,197.75H1292.85V201.05H1296.15V204.35H1292.85V207.65H1289.55V204.35H1286.25V201.05H1289.55Z" class="b"/>
<path d="M1281.85,218.15H1285.15V221.45H1288.45V224.75H1285.15V228.05H1281.85V224.75H1278.55V221.45H1281.85Z" class="b"/>
<path d="M1272.95,232.15H1276.25V235.45H1279.55V238.75H1276.25V242.05H1272.95V238.75H1269.65V235.45H1272.95Z" class="b"/>
<path d="M1269.05,243.65H1272.35V246.95H1275.65V250.25H1272.35V253.55H1269.05V250.25H1265.75V246.95H1269.05Z" class="b"/>
<path d="M1266.55,250.05H1269.85V253.35H1273.15V256.65H1269.85V259.95H1266.55V256.65H1263.25V253.35H1266.55Z" class="b"/>
<path d="M1262.75,265.35H1266.05V268.65H1269.35V271.95H1266.05V275.25H1262.75V271.95H1259.45V268.65H1262.75Z" class="b"/>
<path d="M1258.25,276.55H1261.55V279.85H1264.85V283.15H1261.55V286.45H1258.25V283.15H1254.95V279.85H1258.25Z" class="b"/>
<path d="M1251.85,293.15H1255.15V296.45H1258.45V299.75H1255.15V303.05H1251.85V299.75H1248.55V296.45H1251.85Z" class="b"/>
<path d="M1242.95,293.75H1246.25V297.05H1249.55V300.35H1246.25V303.65H1242.95V300.35H1239.65V297.05H1242.95Z" class="b"/>
<path d="M1241.65,311.05H1244.95V314.35H1248.25V317.65H1244.95V320.95H1241.65V317.65H1238.35V314.35H1241.65Z" class="b"/>
<path d="M1231.45,326.35H1234.75V329.65H1238.05V332.95H1234.75V336.25H1231.45V332.95H1228.15V329.65H1231.45Z" class="b"/>
<path d="M1226.35,341.65H1229.65V344.95H1232.95V348.25H1229.65V351.55H1226.35V348.25H1223.05V344.95H1226.35Z" class="b"/>
<path d="M1224.45,342.05H1227.75V345.35H1231.05V348.65H1227.75V351.95H1224.45V348.65H1221.15V345.35H1224.45Z" class="b"/>
<path d="M1218.05,358.65H1221.35V361.95H1224.65V365.25H1221.35V368.55H1218.05V365.25H1214.75V361.95H1218.05Z" class="b"/>
<path d="M1207.85,373.95H1211.15V377.25H1214.45V380.55H1211.15V383.85H1207.85V380.55H1204.55V377.25H1207.85Z" class="b"/>
<path d="M1205.15,376.25H1208.45V379.55H1211.75V382.85H1208.45V386.15H1205.15V382.85H1201.85V379.55H1205.15Z" class="b"/>
<path d="M1205.25,389.95H1208.55V393.25H1211.85V396.55H1208.55V399.85H1205.25V396.55H1201.95V393.25H1205.25Z" class="b"/>
<path d="M1196.75,390.55H1200.05V393.85H1203.35V397.15H1200.05V400.45H1196.75V397.15H1193.45V393.85H1196.75Z" class="b"/>
<path d="M1205.15,390.55H1208.45V393.85H1211.75V397.15H1208.45V400.45H1205.15V397.15H1201.85V393.85H1205.15Z" class="b"/>
<path d="M1196.35,390.55H1199.65V393.85H1202.95V397.15H1199.65V400.45H1196.35V397.15H1193.05V393.85H1196.35Z" class="b"/>
<path d="M1192.45,406.55H1195.75V409.85H1199.05V413.15H1195.75V416.45H1192.45V413.15H1189.15V409.85H1192.45Z" class="b"/>
<path d="M1189.65,407.35H1192.95V410.65H1196.25V413.95H1192.95V417.25H1189.65V413.95H1186.35V410.65H1189.65Z" class="b"/>
<path d="M1194.45,407.35H1197.75V410.65H1201.05V413.95H1197.75V417.25H1194.45V413.95H1191.15V410.65H1194.45Z" class="b"/>
<path d="M1188.65,407.85H1191.95V411.15H1195.25V414.45H1191.95V417.75H1188.65V414.45H1185.35V411.15H1188.65Z" class="b"/>
<path d="M1186.05,422.85H1189.35V426.15H1192.65V429.45H1189.35V432.75H1186.05V429.45H1182.75V426.15H1186.05Z" class="b"/>
<path d="M1177.65,438.35H1180.95V441.65H1184.25V444.95H1180.95V448.25H1177.65V444.95H1174.35V441.65H1177.65Z" class="b"/>
<path d="M1184.85,438.35H1188.15V441.65H1191.45V444.95H1188.15V448.25H1184.85V444.95H1181.55V441.65H1184.85Z" class="b"/>
<path d="M1171.75,455.05H1175.05V458.35H1178.35V461.65H1175.05V464.95H1171.75V461.65H1168.45V458.35H1171.75Z" class="b"/>
<path d="M1306.25,165.95H1309.55V169.25H1312.85V172.55H1309.55V175.85H1306.25V172.55H1302.95V169.25H1306.25Z" class="b"/>
<path d="M1267.85,246.85H1271.15V250.15H1274.45V253.45H1271.15V256.75H1267.85V253.45H1264.55V250.15H1267.85Z" class="b"/>
<path d="M1248.85,293.35H1252.15V296.65H1255.45V299.95H1252.15V303.25H1248.85V299.95H1245.55V296.65H1248.85Z" class="b"/>
<path d="M1245.95,293.55H1249.25V296.85H1252.55V300.15H1249.25V303.45H1245.95V300.15H1242.65V296.85H1245.95Z" class="b"/>
<path d="M1202.45,390.15H1205.75V393.45H1209.05V396.75H1205.75V400.05H1202.45V396.75H1199.15V393.45H1202.45Z" class="b"/>
<path d="M1199.55,390.35H1202.85V393.65H1206.15V396.95H1202.85V400.25H1199.55V396.95H1196.25V393.65H1199.55Z" class="b"/>
<path d="M1199.55,390.55H1202.85V393.85H1206.15V397.15H1202.85V400.45H1199.55V397.15H1196.25V393.85H1199.55Z" class="b"/>
<path d="M1202.35,390.55H1205.65V393.85H1208.95V397.15H1205.65V400.45H1202.35V397.15H1199.05V393.85H1202.35Z" class="b"/>
<path d="M1202.25,390.55H1205.55V393.85H1208.85V397.15H1205.55V400.45H1202.25V397.15H1198.95V393.85H1202.25Z" class="b"/>
<path d="M1199.25,390.55H1202.55V393.85H1205.85V397.15H1202.55V400.45H1199.25V397.15H1195.95V393.85H1199.25Z" class="b"/>
<path d="M1192.05,407.35H1195.35V410.65H1198.65V413.95H1195.35V417.25H1192.05V413.95H1188.75V410.65H1192.05Z" class="b"/>
<path d="M1191.55,407.65H1194.85V410.95H1198.15V414.25H1194.85V417.55H1191.55V414.25H1188.25V410.95H1191.55Z" class="b"/>
<path d="M1181.25,438.35H1184.55V441.65H1187.85V444.95H1184.55V448.25H1181.25V444.95H1177.95V441.65H1181.25Z" class="b"/>
<rect x="1181.7" y="378.8" width="9.6" height="9.6" class="o"/>
<rect x="1185.3" y="384.8" width="9.6" height="9.6" class="o"/>
<rect x="1188.9" y="383.6" width="9.6" height="9.6" class="o"/>
<rect x="1182.9" y="399.1" width="9.6" height="9.6" class="o"/>
<rect x="1174.5" y="415.8" width="9.6" height="9.6" class="o"/>
<rect x="1174.5" y="420.6" width="9.6" height="9.6" class="o"/>
<rect x="1168.6" y="429.0" width="9.6" height="9.6" class="o"/>
<rect x="1324.2" y="69.3" width="9.6" height="9.6" class="o"/>
<rect x="1330.0" y="68.1" width="9.6" height="9.6" class="o"/>
<rect x="1331.9" y="73.8" width="9.6" height="9.6" class="o"/>
<rect x="1317.9" y="86.6" width="9.6" height="9.6" class="o"/>
<rect x="1321.1" y="86.6" width="9.6" height="9.6" class="o"/>
<rect x="1323.0" y="94.2" width="9.6" height="9.6" class="o"/>
<rect x="1312.8" y="101.3" width="9.6" height="9.6" class="o"/>
<rect x="1310.8" y="106.4" width="9.6" height="9.6" class="o"/>
<rect x="1317.2" y="103.8" width="9.6" height="9.6" class="o"/>
<rect x="1314.7" y="108.9" width="9.6" height="9.6" class="o"/>
<rect x="1319.8" y="114.0" width="9.6" height="9.6" class="o"/>
<rect x="1305.7" y="115.3" width="9.6" height="9.6" class="o"/>
<rect x="1309.6" y="117.9" width="9.6" height="9.6" class="o"/>
<rect x="1310.8" y="121.7" width="9.6" height="9.6" class="o"/>
<rect x="1312.1" y="125.5" width="9.6" height="9.6" class="o"/>
<rect x="1300.6" y="129.4" width="9.6" height="9.6" class="o"/>
<rect x="1309.6" y="128.1" width="9.6" height="9.6" class="o"/>
<rect x="1311.4" y="122.8" width="9.6" height="9.6" class="o"/>
<rect x="1299.9" y="131.7" width="9.6" height="9.6" class="o"/>
<rect x="1297.3" y="136.8" width="9.6" height="9.6" class="o"/>
<rect x="1305.0" y="139.3" width="9.6" height="9.6" class="o"/>
<rect x="1286.5" y="148.3" width="9.6" height="9.6" class="o"/>
<rect x="1293.5" y="149.6" width="9.6" height="9.6" class="o"/>
<rect x="1289.7" y="154.7" width="9.6" height="9.6" class="o"/>
<rect x="1296.1" y="155.9" width="9.6" height="9.6" class="o"/>
<rect x="1287.1" y="164.9" width="9.6" height="9.6" class="o"/>
<rect x="1289.7" y="168.7" width="9.6" height="9.6" class="o"/>
<rect x="1292.2" y="173.8" width="9.6" height="9.6" class="o"/>
<rect x="1278.2" y="181.5" width="9.6" height="9.6" class="o"/>
<rect x="1280.7" y="184.0" width="9.6" height="9.6" class="o"/>
<rect x="1284.6" y="189.1" width="9.6" height="9.6" class="o"/>
<rect x="1265.4" y="198.1" width="9.6" height="9.6" class="o"/>
<rect x="1276.9" y="198.7" width="9.6" height="9.6" class="o"/>
<rect x="1311.4" y="130.4" width="9.6" height="9.6" class="o"/>
<rect x="1283.8" y="191.5" width="9.6" height="9.6" class="o"/>
<rect x="1264.7" y="199.1" width="9.6" height="9.6" class="o"/>
<rect x="1268.5" y="201.7" width="9.6" height="9.6" class="o"/>
<rect x="1277.4" y="200.4" width="9.6" height="9.6" class="o"/>
<rect x="1276.2" y="206.8" width="9.6" height="9.6" class="o"/>
<rect x="1262.1" y="214.5" width="9.6" height="9.6" class="o"/>
<rect x="1263.4" y="219.6" width="9.6" height="9.6" class="o"/>
<rect x="1268.5" y="217.0" width="9.6" height="9.6" class="o"/>
<rect x="1265.9" y="222.1" width="9.6" height="9.6" class="o"/>
<rect x="1272.3" y="227.2" width="9.6" height="9.6" class="o"/>
<rect x="1260.8" y="233.6" width="9.6" height="9.6" class="o"/>
<rect x="1258.3" y="237.4" width="9.6" height="9.6" class="o"/>
<rect x="1257.0" y="251.5" width="9.6" height="9.6" class="o"/>
<rect x="1246.8" y="254.0" width="9.6" height="9.6" class="o"/>
<rect x="1239.1" y="264.2" width="9.6" height="9.6" class="o"/>
<rect x="1249.3" y="266.8" width="9.6" height="9.6" class="o"/>
<rect x="1243.0" y="268.1" width="9.6" height="9.6" class="o"/>
<rect x="1238.5" y="267.8" width="9.6" height="9.6" class="o"/>
<rect x="1248.7" y="267.8" width="9.6" height="9.6" class="o"/>
<rect x="1248.7" y="275.4" width="9.6" height="9.6" class="o"/>
<rect x="1230.8" y="284.3" width="9.6" height="9.6" class="o"/>
<rect x="1236.6" y="286.3" width="9.6" height="9.6" class="o"/>
<rect x="1221.9" y="297.1" width="9.6" height="9.6" class="o"/>
<rect x="1227.0" y="298.4" width="9.6" height="9.6" class="o"/>
<rect x="1229.6" y="307.3" width="9.6" height="9.6" class="o"/>
<rect x="1214.2" y="315.0" width="9.6" height="9.6" class="o"/>
<rect x="1218.7" y="316.3" width="9.6" height="9.6" class="o"/>
<rect x="1207.9" y="326.5" width="9.6" height="9.6" class="o"/>
<rect x="1206.6" y="334.1" width="9.6" height="9.6" class="o"/>
<rect x="1213.0" y="335.4" width="9.6" height="9.6" class="o"/>
<rect x="1202.8" y="341.8" width="9.6" height="9.6" class="o"/>
<rect x="1205.9" y="337.1" width="9.6" height="9.6" class="o"/>
<rect x="1212.3" y="337.8" width="9.6" height="9.6" class="o"/>
<rect x="1200.8" y="345.4" width="9.6" height="9.6" class="o"/>
<rect x="1205.3" y="353.7" width="9.6" height="9.6" class="o"/>
<rect x="1190.6" y="361.4" width="9.6" height="9.6" class="o"/>
<rect x="1194.5" y="362.0" width="9.6" height="9.6" class="o"/>
<rect x="1181.7" y="379.9" width="9.6" height="9.6" class="o"/>
<rect x="1186.8" y="385.0" width="9.6" height="9.6" class="o"/>
<rect x="1182.3" y="400.3" width="9.6" height="9.6" class="o"/>
<rect x="1175.3" y="413.1" width="9.6" height="9.6" class="o"/>
<circle cx="1222.3" cy="382.4" r="5.1" class="r"/>
<circle cx="1219.9" cy="388.4" r="5.1" class="r"/>
<circle cx="1216.4" cy="394.3" r="5.1" class="r"/>
<circle cx="1211.6" cy="403.9" r="5.1" class="r"/>
<circle cx="1209.2" cy="409.9" r="5.1" class="r"/>
<circle cx="1206.8" cy="415.8" r="5.1" class="r"/>
<circle cx="1204.4" cy="421.8" r="5.1" class="r"/>
<circle cx="1199.6" cy="436.1" r="5.1" class="r"/>
<circle cx="1197.3" cy="442.1" r="5.1" class="r"/>
<circle cx="1192.5" cy="449.3" r="5.1" class="r"/>
<circle cx="1188.9" cy="458.8" r="5.1" class="r"/>
<circle cx="1185.3" cy="467.2" r="5.1" class="r"/>
<circle cx="1179.3" cy="476.8" r="5.1" class="r"/>
<circle cx="1172.2" cy="500.6" r="5.1" class="r"/>
<circle cx="1338.1" cy="117.6" r="5.1" class="r"/>
<circle cx="1335.7" cy="122.0" r="5.1" class="r"/>
<circle cx="1333.3" cy="126.4" r="5.1" class="r"/>
<circle cx="1330.9" cy="130.7" r="5.1" class="r"/>
<circle cx="1204.4" cy="417.9" r="5.1" class="r"/>
<circle cx="1330.4" cy="131.6" r="5.1" class="r"/>
<circle cx="1328.0" cy="136.0" r="5.1" class="r"/>
<circle cx="1325.7" cy="140.4" r="5.1" class="r"/>
<circle cx="1323.3" cy="144.8" r="5.1" class="r"/>
<circle cx="1321.0" cy="149.2" r="5.1" class="r"/>
<circle cx="1318.6" cy="153.6" r="5.1" class="r"/>
<circle cx="1204.4" cy="417.9" r="5.1" class="r"/>
<circle cx="1318.2" cy="154.4" r="5.1" class="r"/>
<circle cx="1316.8" cy="159.2" r="5.1" class="r"/>
<circle cx="1315.4" cy="164.0" r="5.1" class="r"/>
<circle cx="1314.0" cy="168.8" r="5.1" class="r"/>
<circle cx="1312.5" cy="173.6" r="5.1" class="r"/>
<circle cx="1204.4" cy="417.9" r="5.1" class="r"/>
<circle cx="1311.8" cy="176.1" r="5.1" class="r"/>
<circle cx="1309.6" cy="180.6" r="5.1" class="r"/>
<circle cx="1307.3" cy="185.0" r="5.1" class="r"/>
<circle cx="1305.1" cy="189.5" r="5.1" class="r"/>
<circle cx="1302.8" cy="194.0" r="5.1" class="r"/>
<circle cx="1300.6" cy="198.4" r="5.1" class="r"/>
<circle cx="1204.4" cy="417.9" r="5.1" class="r"/>
<circle cx="1300.3" cy="199.0" r="5.1" class="r"/>
<circle cx="1298.3" cy="203.6" r="5.1" class="r"/>
<circle cx="1296.4" cy="208.2" r="5.1" class="r"/>
<circle cx="1294.4" cy="212.8" r="5.1" class="r"/>
<circle cx="1204.4" cy="417.9" r="5.1" class="r"/>
<circle cx="1294.4" cy="212.9" r="5.1" class="r"/>
<circle cx="1292.5" cy="217.5" r="5.1" class="r"/>
<circle cx="1290.6" cy="222.1" r="5.1" class="r"/>
<circle cx="1288.7" cy="226.8" r="5.1" class="r"/>
<circle cx="1286.8" cy="231.4" r="5.1" class="r"/>
<circle cx="1284.9" cy="236.0" r="5.1" class="r"/>
<circle cx="1283.0" cy="240.6" r="5.1" class="r"/>
<circle cx="1281.1" cy="245.3" r="5.1" class="r"/>
<circle cx="1279.2" cy="249.9" r="5.1" class="r"/>
<circle cx="1277.2" cy="254.5" r="5.1" class="r"/>
<circle cx="1275.3" cy="259.1" r="5.1" class="r"/>
<circle cx="1273.4" cy="263.7" r="5.1" class="r"/>
<circle cx="1271.5" cy="268.4" r="5.1" class="r"/>
<circle cx="1204.4" cy="417.9" r="5.1" class="r"/>
<circle cx="1270.2" cy="271.6" r="5.1" class="r"/>
<circle cx="1268.3" cy="276.2" r="5.1" class="r"/>
<circle cx="1266.3" cy="280.8" r="5.1" class="r"/>
<circle cx="1204.4" cy="417.9" r="5.1" class="r"/>
<circle cx="1264.4" cy="285.3" r="5.1" class="r"/>
<circle cx="1262.4" cy="289.9" r="5.1" class="r"/>
<circle cx="1260.5" cy="294.5" r="5.1" class="r"/>
<circle cx="1258.5" cy="299.1" r="5.1" class="r"/>
<circle cx="1204.4" cy="417.9" r="5.1" class="r"/>
<circle cx="1256.8" cy="303.2" r="5.1" class="r"/>
<circle cx="1254.8" cy="307.8" r="5.1" class="r"/>
<circle cx="1252.8" cy="312.4" r="5.1" class="r"/>
<circle cx="1250.8" cy="316.9" r="5.1" class="r"/>
<circle cx="1248.8" cy="321.5" r="5.1" class="r"/>
<circle cx="1204.4" cy="417.9" r="5.1" class="r"/>
<circle cx="1247.9" cy="323.6" r="5.1" class="r"/>
<circle cx="1246.0" cy="328.2" r="5.1" class="r"/>
<circle cx="1244.0" cy="332.8" r="5.1" class="r"/>
<circle cx="1242.1" cy="337.4" r="5.1" class="r"/>
<circle cx="1204.4" cy="417.9" r="5.1" class="r"/>
<circle cx="1241.5" cy="338.9" r="5.1" class="r"/>
<circle cx="1238.8" cy="343.1" r="5.1" class="r"/>
<circle cx="1236.2" cy="347.4" r="5.1" class="r"/>
<circle cx="1204.4" cy="417.9" r="5.1" class="r"/>
<circle cx="1234.4" cy="350.2" r="5.1" class="r"/>
<circle cx="1232.8" cy="354.9" r="5.1" class="r"/>
<circle cx="1231.1" cy="359.6" r="5.1" class="r"/>
<circle cx="1229.5" cy="364.4" r="5.1" class="r"/>
<circle cx="1227.8" cy="369.1" r="5.1" class="r"/>
<circle cx="1226.2" cy="373.8" r="5.1" class="r"/>
<circle cx="1224.6" cy="378.5" r="5.1" class="r"/>
<circle cx="1204.4" cy="417.9" r="5.1" class="r"/>
<circle cx="1224.2" cy="379.6" r="5.1" class="r"/>
<circle cx="1222.3" cy="384.2" r="5.1" class="r"/>
<circle cx="1220.3" cy="388.8" r="5.1" class="r"/>
<circle cx="1218.4" cy="393.4" r="5.1" class="r"/>
<circle cx="1216.4" cy="398.0" r="5.1" class="r"/>
<circle cx="1214.5" cy="402.6" r="5.1" class="r"/>
<circle cx="1204.4" cy="417.9" r="5.1" class="r"/>
<circle cx="1214.0" cy="403.8" r="5.1" class="r"/>
<circle cx="1211.6" cy="408.2" r="5.1" class="r"/>
<circle cx="1209.3" cy="412.6" r="5.1" class="r"/>
<circle cx="1206.9" cy="417.0" r="5.1" class="r"/>
<circle cx="1204.4" cy="417.9" r="5.1" class="r"/>
<line x1="1172.29" y1="518.15" x2="1339.08" y2="120.12" stroke="#000" stroke-width="5.5"/>
<rect x="118.5" y="52.5" width="180.10" height="486.90" fill="none" stroke="#000" stroke-width="1.35"/>
<path d="M148.40,52.5V43.80M148.40,539.4V548.10M197.44,52.5V43.80M197.44,539.4V548.10M246.48,52.5V43.80M246.48,539.4V548.10M295.52,52.5V43.80M295.52,539.4V548.10M118.5,194.60H109.80M298.6,194.60H307.30M118.5,309.53H109.80M298.6,309.53H307.30M118.5,424.46H109.80M298.6,424.46H307.30M118.5,539.39H109.80M298.6,539.39H307.30" stroke="#000" stroke-width="1.35" fill="none"/>
<rect x="467.5" y="52.5" width="180.00" height="486.90" fill="none" stroke="#000" stroke-width="1.35"/>
<path d="M497.40,52.5V43.80M497.40,539.4V548.10M546.44,52.5V43.80M546.44,539.4V548.10M595.48,52.5V43.80M595.48,539.4V548.10M644.52,52.5V43.80M644.52,539.4V548.10M467.5,70.20H458.80M647.5,70.20H656.20M467.5,138.60H458.80M647.5,138.60H656.20M467.5,207.00H458.80M647.5,207.00H656.20M467.5,275.40H458.80M647.5,275.40H656.20M467.5,343.80H458.80M647.5,343.80H656.20M467.5,412.20H458.80M647.5,412.20H656.20M467.5,480.60H458.80M647.5,480.60H656.20" stroke="#000" stroke-width="1.35" fill="none"/>
<rect x="816.5" y="52.5" width="179.90" height="486.90" fill="none" stroke="#000" stroke-width="1.35"/>
<path d="M846.40,52.5V43.80M846.40,539.4V548.10M895.44,52.5V43.80M895.44,539.4V548.10M944.48,52.5V43.80M944.48,539.4V548.10M993.52,52.5V43.80M993.52,539.4V548.10M816.5,83.30H807.80M996.4,83.30H1005.10M816.5,204.50H807.80M996.4,204.50H1005.10M816.5,325.70H807.80M996.4,325.70H1005.10M816.5,446.90H807.80M996.4,446.90H1005.10" stroke="#000" stroke-width="1.35" fill="none"/>
<rect x="1165.5" y="52.5" width="179.90" height="486.90" fill="none" stroke="#000" stroke-width="1.35"/>
<path d="M1230.60,52.5V43.80M1230.60,539.4V548.10M1298.40,52.5V43.80M1298.40,539.4V548.10M1165.5,459.90H1156.80M1345.4,459.90H1354.10M1165.5,379.00H1156.80M1345.4,379.00H1354.10M1165.5,298.10H1156.80M1345.4,298.10H1354.10M1165.5,217.20H1156.80M1345.4,217.20H1354.10M1165.5,136.30H1156.80M1345.4,136.30H1354.10M1165.5,55.40H1156.80M1345.4,55.40H1354.10" stroke="#000" stroke-width="1.35" fill="none"/>
<path d="M1176.36,52.5V47.90M1176.36,539.4V544.00M1189.92,52.5V47.90M1189.92,539.4V544.00M1203.48,52.5V47.90M1203.48,539.4V544.00M1217.04,52.5V47.90M1217.04,539.4V544.00M1244.16,52.5V47.90M1244.16,539.4V544.00M1257.72,52.5V47.90M1257.72,539.4V544.00M1271.28,52.5V47.90M1271.28,539.4V544.00M1284.84,52.5V47.90M1284.84,539.4V544.00M1311.96,52.5V47.90M1311.96,539.4V544.00M1325.52,52.5V47.90M1325.52,539.4V544.00M1339.08,52.5V47.90M1339.08,539.4V544.00M1165.5,524.62H1160.90M1345.4,524.62H1350.00M1165.5,508.44H1160.90M1345.4,508.44H1350.00M1165.5,492.26H1160.90M1345.4,492.26H1350.00M1165.5,476.08H1160.90M1345.4,476.08H1350.00M1165.5,443.72H1160.90M1345.4,443.72H1350.00M1165.5,427.54H1160.90M1345.4,427.54H1350.00M1165.5,411.36H1160.90M1345.4,411.36H1350.00M1165.5,395.18H1160.90M1345.4,395.18H1350.00M1165.5,362.82H1160.90M1345.4,362.82H1350.00M1165.5,346.64H1160.90M1345.4,346.64H1350.00M1165.5,330.46H1160.90M1345.4,330.46H1350.00M1165.5,314.28H1160.90M1345.4,314.28H1350.00M1165.5,281.92H1160.90M1345.4,281.92H1350.00M1165.5,265.74H1160.90M1345.4,265.74H1350.00M1165.5,249.56H1160.90M1345.4,249.56H1350.00M1165.5,233.38H1160.90M1345.4,233.38H1350.00M1165.5,201.02H1160.90M1345.4,201.02H1350.00M1165.5,184.84H1160.90M1345.4,184.84H1350.00M1165.5,168.66H1160.90M1345.4,168.66H1350.00M1165.5,152.48H1160.90M1345.4,152.48H1350.00M1165.5,120.12H1160.90M1345.4,120.12H1350.00M1165.5,103.94H1160.90M1345.4,103.94H1350.00M1165.5,87.76H1160.90M1345.4,87.76H1350.00M1165.5,71.58H1160.90M1345.4,71.58H1350.00" stroke="#000" stroke-width="1.1" fill="none"/>
<text x="125.16" y="581.50" font-size="30.0">10</text>
<text x="156.22" y="569.40" font-size="20.5">2</text>
<text x="174.20" y="581.50" font-size="30.0">10</text>
<text x="205.76" y="569.40" font-size="20.5">4</text>
<text x="223.24" y="581.50" font-size="30.0">10</text>
<text x="254.32" y="569.40" font-size="20.5">6</text>
<text x="272.28" y="581.50" font-size="30.0">10</text>
<text x="303.46" y="569.40" font-size="20.5">8</text>
<text x="75.12" y="192.70" font-size="20.5">24</text>
<rect x="60.42" y="186.25" width="12.8" height="1.3" fill="#000"/>
<text x="42.58" y="204.00" font-size="30.0">2</text>
<text x="75.60" y="307.63" font-size="20.5">25</text>
<rect x="60.90" y="301.18" width="12.8" height="1.3" fill="#000"/>
<text x="43.06" y="318.93" font-size="30.0">2</text>
<text x="75.41" y="422.56" font-size="20.5">26</text>
<rect x="60.71" y="416.11" width="12.8" height="1.3" fill="#000"/>
<text x="42.87" y="433.86" font-size="30.0">2</text>
<text x="75.39" y="537.49" font-size="20.5">27</text>
<rect x="60.69" y="531.04" width="12.8" height="1.3" fill="#000"/>
<text x="42.85" y="548.79" font-size="30.0">2</text>
<text x="474.16" y="581.50" font-size="30.0">10</text>
<text x="505.22" y="569.40" font-size="20.5">2</text>
<text x="523.20" y="581.50" font-size="30.0">10</text>
<text x="554.76" y="569.40" font-size="20.5">4</text>
<text x="572.24" y="581.50" font-size="30.0">10</text>
<text x="603.32" y="569.40" font-size="20.5">6</text>
<text x="621.28" y="581.50" font-size="30.0">10</text>
<text x="652.46" y="569.40" font-size="20.5">8</text>
<text x="434.85" y="68.30" font-size="20.5">3</text>
<text x="419.89" y="79.60" font-size="30.0">2</text>
<text x="435.28" y="136.70" font-size="20.5">1</text>
<rect x="421.48" y="130.25" width="12.8" height="1.3" fill="#000"/>
<text x="403.64" y="148.00" font-size="30.0">2</text>
<text x="434.85" y="205.10" font-size="20.5">5</text>
<rect x="420.44" y="198.65" width="12.8" height="1.3" fill="#000"/>
<text x="402.60" y="216.40" font-size="30.0">2</text>
<text x="434.89" y="273.50" font-size="20.5">9</text>
<rect x="419.95" y="267.05" width="12.8" height="1.3" fill="#000"/>
<text x="402.11" y="284.80" font-size="30.0">2</text>
<text x="424.60" y="341.90" font-size="20.5">13</text>
<rect x="410.80" y="335.45" width="12.8" height="1.3" fill="#000"/>
<text x="392.96" y="353.20" font-size="30.0">2</text>
<text x="424.39" y="410.30" font-size="20.5">17</text>
<rect x="410.59" y="403.85" width="12.8" height="1.3" fill="#000"/>
<text x="392.75" y="421.60" font-size="30.0">2</text>
<text x="425.03" y="478.70" font-size="20.5">21</text>
<rect x="410.33" y="472.25" width="12.8" height="1.3" fill="#000"/>
<text x="392.49" y="490.00" font-size="30.0">2</text>
<text x="823.16" y="581.50" font-size="30.0">10</text>
<text x="854.22" y="569.40" font-size="20.5">2</text>
<text x="872.20" y="581.50" font-size="30.0">10</text>
<text x="903.76" y="569.40" font-size="20.5">4</text>
<text x="921.24" y="581.50" font-size="30.0">10</text>
<text x="952.32" y="569.40" font-size="20.5">6</text>
<text x="970.28" y="581.50" font-size="30.0">10</text>
<text x="1001.46" y="569.40" font-size="20.5">8</text>
<text x="783.37" y="81.40" font-size="20.5">4</text>
<text x="767.83" y="92.70" font-size="30.0">2</text>
<text x="783.85" y="202.60" font-size="20.5">3</text>
<text x="768.89" y="213.90" font-size="30.0">2</text>
<text x="784.18" y="323.80" font-size="20.5">2</text>
<text x="769.14" y="335.10" font-size="30.0">2</text>
<text x="784.28" y="445.00" font-size="20.5">1</text>
<text x="770.14" y="456.30" font-size="30.0">2</text>
<text x="1130.07" y="469.10" font-size="30.0">5</text>
<text x="1115.04" y="388.20" font-size="30.0">10</text>
<text x="1115.07" y="307.30" font-size="30.0">15</text>
<text x="1115.04" y="226.40" font-size="30.0">20</text>
<text x="1115.07" y="145.50" font-size="30.0">25</text>
<text x="1115.04" y="64.60" font-size="30.0">30</text>
<text x="1214.85" y="578.00" font-size="30.0">10</text>
<text x="1283.31" y="578.00" font-size="30.0">20</text>
<text x="59.62" y="618.10" font-size="30.5" textLength="298.28" lengthAdjust="spacingAndGlyphs">Number of outcomes <tspan font-style="italic">n</tspan></text>
<text x="408.57" y="618.10" font-size="30.5" textLength="298.28" lengthAdjust="spacingAndGlyphs">Number of outcomes <tspan font-style="italic">n</tspan></text>
<text x="757.52" y="618.10" font-size="30.5" textLength="298.28" lengthAdjust="spacingAndGlyphs">Number of outcomes <tspan font-style="italic">n</tspan></text>
<text x="1165.05" y="618.10" font-size="30.5" textLength="179.41" lengthAdjust="spacingAndGlyphs">Entropy <tspan font-style="italic">H</tspan>(<tspan font-weight="bold">p</tspan>)</text>
<text x="-409.31" y="0.00" font-size="30.5" textLength="225.85" lengthAdjust="spacingAndGlyphs" transform="translate(23.60,0) rotate(-90)">Sampling time [s]</text>
<text x="-436.41" y="0.00" font-size="30.5" textLength="281.75" lengthAdjust="spacingAndGlyphs" transform="translate(372.00,0) rotate(-90)">Preprocessing time [s]</text>
<text x="-452.93" y="0.00" font-size="30.5" textLength="313.28" lengthAdjust="spacingAndGlyphs" transform="translate(747.80,0) rotate(-90)">Sampling pkg energy [J]</text>
<text x="-443.51" y="0.00" font-size="30.5" textLength="298.36" lengthAdjust="spacingAndGlyphs" transform="translate(1097.40,0) rotate(-90)">Average consumed bits</text>
<text x="1223.18" y="474.90" font-size="30.5" textLength="113.21" lengthAdjust="spacingAndGlyphs">theoretic</text>
<text x="1212.74" y="508.70" font-size="30.5" textLength="123.16" lengthAdjust="spacingAndGlyphs">minimum</text>
<path d="M292.30,3.40H300.70V11.20H308.50V19.60H300.70V27.40H292.30V19.60H284.50V11.20H292.30Z" fill="#3194f4" stroke="#000" stroke-width="3"/>
<rect x="470.4" y="3.2" width="24" height="24" fill="#e47300" stroke="#000" stroke-width="3"/>
<path d="M765.5,2.6 L778.3,27.2 L752.7,27.2 Z" fill="#18a174" stroke="#000" stroke-width="3"/>
<circle cx="960.3" cy="15.4" r="11.8" fill="#e8453a" stroke="#000" stroke-width="3"/>
<text x="341.35" y="25.70" font-size="30.5" textLength="71.85" lengthAdjust="spacingAndGlyphs">cLUT</text>
<text x="528.09" y="25.70" font-size="30.5" textLength="171.30" lengthAdjust="spacingAndGlyphs">Alias method</text>
<text x="810.70" y="25.70" font-size="30.5" textLength="84.35" lengthAdjust="spacingAndGlyphs">ALDR</text>
<text x="1004.56" y="25.70" font-size="30.5" textLength="83.29" lengthAdjust="spacingAndGlyphs">FLDR</text>
</svg>
</body></html>
